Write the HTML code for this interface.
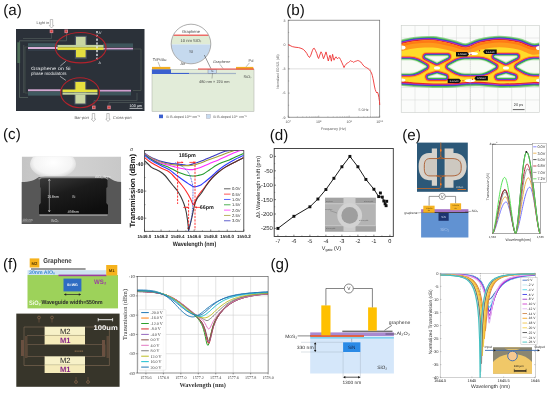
<!DOCTYPE html>
<html><head><meta charset="utf-8"><style>
html,body{margin:0;padding:0;background:#fff;}
svg{display:block;} text{text-rendering:geometricPrecision;}
</style></head><body>
<svg width="550" height="394" viewBox="0 0 550 394">
<rect x="0" y="0" width="550" height="394" fill="#fff"/>
<text x="3.2" y="15.0" font-size="15.2" fill="#111" text-anchor="start" font-weight="normal" font-family="Liberation Sans, sans-serif" >(a)</text>
<rect x="16" y="29" width="128.5" height="82" fill="#2b3139" />
<path d="M66.5,31.5 L66.5,40.8 L19.5,40.8 L19.5,97.5 L28.0,97.5" stroke="#56625e" stroke-width="0.8" fill="none" />
<path d="M51.5,31.5 L51.5,38.5 L23.0,38.5" stroke="#56625e" stroke-width="0.6" fill="none" />
<rect x="17.3" y="42.3" width="2.8" height="20.7" fill="#4f6e58" />
<path d="M23.8,45.0 L23.8,93.0" stroke="#56625e" stroke-width="0.7" fill="none" />
<path d="M28.0,47.0 L25.0,47.0 L25.0,93.0 L28.0,93.0" stroke="#44504c" stroke-width="0.8" fill="none" />
<path d="M133.0,49.0 L141.0,49.0 L141.0,90.5 L133.0,90.5" stroke="#4c5550" stroke-width="0.8" fill="none" />
<path d="M94.0,107.5 L94.0,100.5 L137.0,100.5 L137.0,93.0" stroke="#56625e" stroke-width="0.6" fill="none" />
<path d="M109.0,107.5 L109.0,102.5 L143.0,102.5" stroke="#56625e" stroke-width="0.6" fill="none" />
<rect x="28" y="43.2" width="29" height="3.6" fill="#405a60" />
<rect x="103" y="43.4" width="30" height="3.6" fill="#3e565c" />
<rect x="28" y="47.0" width="30" height="2.0" fill="#d8b0d8" />
<rect x="103" y="47.8" width="30" height="1.9" fill="#cfa2cf" />
<rect x="28" y="49.6" width="105" height="0.9" fill="#3c4a58" />
<rect x="74.8" y="35.8" width="12" height="23" fill="#4a5263" />
<rect x="76" y="36.8" width="9.6" height="8.4" fill="#c9d6a2" />
<rect x="57.5" y="44.9" width="46" height="2.3" fill="#c2d2a0" />
<rect x="57.5" y="47.3" width="46" height="2.6" fill="#e7e23e" />
<rect x="76" y="49.9" width="9.6" height="7.4" fill="#e4df40" />
<rect x="96.3" y="31.0" width="1.4" height="2.2" fill="#e8ecef" />
<rect x="96.3" y="34.8" width="1.4" height="2.2" fill="#e8ecef" />
<rect x="96.3" y="38.6" width="1.4" height="2.2" fill="#e8ecef" />
<rect x="96.3" y="42.4" width="1.4" height="2.2" fill="#e8ecef" />
<rect x="96.3" y="46.2" width="1.4" height="2.2" fill="#e8ecef" />
<rect x="96.3" y="50.0" width="1.4" height="2.2" fill="#e8ecef" />
<rect x="96.3" y="53.8" width="1.4" height="2.2" fill="#e8ecef" />
<rect x="96.3" y="57.599999999999994" width="1.4" height="2.2" fill="#e8ecef" />
<text x="98.5" y="34" font-size="3.6" fill="#dfe3e8" text-anchor="start" font-weight="normal" font-family="Liberation Sans, sans-serif" >A'</text>
<text x="98.5" y="63.5" font-size="3.6" fill="#dfe3e8" text-anchor="start" font-weight="normal" font-family="Liberation Sans, sans-serif" >A</text>
<ellipse cx="80.7" cy="47.7" rx="25.3" ry="15.2" fill="none" stroke="#b2222c" stroke-width="1.1"/>
<rect x="28" y="89.3" width="33" height="2.0" fill="#d4a8d2" />
<rect x="99" y="89.8" width="32" height="1.9" fill="#cf9fcf" />
<rect x="28" y="91.6" width="33" height="4.0" fill="#405a60" />
<rect x="99" y="91.8" width="32" height="3.6" fill="#3e565c" />
<rect x="74.3" y="81" width="12" height="23.5" fill="#4a5263" />
<rect x="75.4" y="82" width="9.9" height="8" fill="#e6e03e" />
<rect x="62.5" y="89.5" width="35" height="2.6" fill="#e7e23e" />
<rect x="62.5" y="92.5" width="35" height="2.2" fill="#c2d2a0" />
<rect x="75.4" y="94.6" width="9.9" height="8.9" fill="#c9d6a2" />
<ellipse cx="80.1" cy="92.7" rx="19.4" ry="15" fill="none" stroke="#b2222c" stroke-width="1.1"/>
<rect x="49.7" y="29.5" width="3.6" height="3.6" fill="#d07a8a" />
<rect x="50.7" y="30.5" width="1.6" height="1.6" fill="#e03a2a" />
<rect x="64.4" y="29.5" width="3.6" height="3.6" fill="#d07a8a" />
<rect x="65.4" y="30.5" width="1.6" height="1.6" fill="#e03a2a" />
<rect x="92.0" y="105.60000000000001" width="3.6" height="3.6" fill="#d07a8a" />
<rect x="93.0" y="106.60000000000001" width="1.6" height="1.6" fill="#e03a2a" />
<rect x="107.2" y="105.60000000000001" width="3.6" height="3.6" fill="#d07a8a" />
<rect x="108.2" y="106.60000000000001" width="1.6" height="1.6" fill="#e03a2a" />
<text x="31" y="69.6" font-size="4.6" fill="#e8eaec" text-anchor="start" font-weight="normal" font-family="Liberation Sans, sans-serif"  textLength="39.5" lengthAdjust="spacingAndGlyphs">Graphene on Si</text>
<text x="31" y="74.9" font-size="4.6" fill="#e8eaec" text-anchor="start" font-weight="normal" font-family="Liberation Sans, sans-serif"  textLength="35.5" lengthAdjust="spacingAndGlyphs">phase modulators</text>
<line x1="60.3" y1="66.0" x2="65.8" y2="61.3" stroke="#e8eaec" stroke-width="0.6" />
<line x1="60.0" y1="76.3" x2="65.8" y2="80.3" stroke="#e8eaec" stroke-width="0.6" />
<text x="129.5" y="106.8" font-size="3.8" fill="#eef0f2" text-anchor="start" font-weight="normal" font-family="Liberation Sans, sans-serif" >100 µm</text>
<line x1="129.5" y1="108.4" x2="142.5" y2="108.4" stroke="#eef0f2" stroke-width="0.7" />
<text x="36.5" y="24.2" font-size="3.9" fill="#555" text-anchor="start" font-weight="normal" font-family="Liberation Sans, sans-serif" >Light in</text>
<path d="M50.3,19.5 L52.7,19.5 L52.7,25.5 L53.7,25.5 L51.5,28 L49.3,25.5 L50.3,25.5 Z" stroke="#777" stroke-width="0.45" fill="#fff" />
<text x="74.4" y="118.6" font-size="4" fill="#555" text-anchor="start" font-weight="normal" font-family="Liberation Sans, sans-serif" >Bar-port</text>
<path d="M92.3,113.5 L94.7,113.5 L94.7,119.0 L95.7,119.0 L93.5,121.5 L91.3,119.0 L92.3,119.0 Z" stroke="#777" stroke-width="0.45" fill="#fff" />
<text x="113" y="118.6" font-size="4" fill="#555" text-anchor="start" font-weight="normal" font-family="Liberation Sans, sans-serif" >Cross-port</text>
<path d="M106.8,113.5 L109.2,113.5 L109.2,119.0 L110.2,119.0 L108,121.5 L105.8,119.0 L106.8,119.0 Z" stroke="#777" stroke-width="0.45" fill="#fff" />
<defs><clipPath id="cc"><circle cx="191" cy="44" r="19.6"/></clipPath></defs>
<g clip-path="url(#cc)">
<rect x="170" y="23" width="42" height="12" fill="#ffffff" />
<rect x="170" y="35.6" width="42" height="8.8" fill="#e0ebd4" />
<rect x="170" y="44.4" width="42" height="22" fill="#c5d9ee" />
<rect x="170" y="34.6" width="42" height="1.2" fill="#ea4a45" />
</g>
<circle cx="191" cy="44" r="19.8" fill="none" stroke="#8a8a8a" stroke-width="0.7"/>
<text x="191" y="32.6" font-size="4.1" fill="#444" text-anchor="middle" font-weight="normal" font-family="Liberation Sans, sans-serif" >Graphene</text>
<text x="191" y="41.6" font-size="4.1" fill="#444" text-anchor="middle" font-weight="normal" font-family="Liberation Sans, sans-serif" >10 nm SiO₂</text>
<text x="191" y="52.6" font-size="4.1" fill="#444" text-anchor="middle" font-weight="normal" font-family="Liberation Sans, sans-serif" >Si</text>
<line x1="204.3" y1="55" x2="211" y2="68.8" stroke="#333" stroke-width="0.5" />
<rect x="152" y="69.4" width="102" height="42" fill="#e2ecd9" stroke="#a8aba4" stroke-width="0.5"/>
<rect x="152" y="66.9" width="18.3" height="2.6" fill="#f2ae22" />
<rect x="236" y="66.9" width="17.3" height="2.6" fill="#f2ae22" />
<rect x="152" y="69.4" width="19" height="4.6" fill="#3b60cf" />
<rect x="171" y="72.9" width="18" height="1.1" fill="#3b60cf" />
<rect x="189" y="72.9" width="47" height="1.2" fill="#a3b3c6" />
<rect x="208" y="69.4" width="8.3" height="3.8" fill="#c6dbf0" stroke="#667" stroke-width="0.35"/>
<text x="212.1" y="72.4" font-size="2.6" fill="#333" text-anchor="middle" font-weight="normal" font-family="Liberation Sans, sans-serif" >Si</text>
<rect x="198" y="68.5" width="56" height="1.1" fill="#ec4b46" />
<text x="152.8" y="60.8" font-size="3.9" fill="#444" text-anchor="start" font-weight="normal" font-family="Liberation Sans, sans-serif" >Ti/Pt/Au</text>
<line x1="158" y1="61.8" x2="160" y2="66.9" stroke="#555" stroke-width="0.4" />
<text x="180.6" y="65.2" font-size="3.9" fill="#444" text-anchor="start" font-weight="normal" font-family="Liberation Sans, sans-serif" >Air</text>
<text x="213" y="63.4" font-size="3.9" fill="#444" text-anchor="start" font-weight="normal" font-family="Liberation Sans, sans-serif" >Graphene</text>
<line x1="220" y1="64.4" x2="223" y2="68.5" stroke="#555" stroke-width="0.4" />
<text x="248.6" y="61.8" font-size="3.9" fill="#444" text-anchor="start" font-weight="normal" font-family="Liberation Sans, sans-serif" >Pd</text>
<line x1="249.5" y1="62.8" x2="246" y2="66.9" stroke="#555" stroke-width="0.4" />
<text x="243.5" y="78.2" font-size="3.9" fill="#444" text-anchor="start" font-weight="normal" font-family="Liberation Sans, sans-serif" >SiO₂</text>
<line x1="212.5" y1="73.2" x2="212" y2="78.5" stroke="#555" stroke-width="0.4" />
<text x="199" y="83.2" font-size="3.9" fill="#444" text-anchor="start" font-weight="normal" font-family="Liberation Sans, sans-serif" >480 nm × 220 nm</text>
<rect x="159" y="114.6" width="4" height="3.6" fill="#3b60cf" />
<text x="166" y="117.9" font-size="3.6" fill="#555" text-anchor="start" font-weight="normal" font-family="Liberation Sans, sans-serif" >Si B-doped 10¹⁸ cm⁻³</text>
<rect x="206.6" y="114.6" width="3.6" height="3.6" fill="#c6dbf0" stroke="#889" stroke-width="0.35"/>
<text x="213" y="117.9" font-size="3.6" fill="#555" text-anchor="start" font-weight="normal" font-family="Liberation Sans, sans-serif" >Si B-doped 10¹⁷ cm⁻³</text>
<text x="286.2" y="15.0" font-size="15.2" fill="#111" text-anchor="start" font-weight="normal" font-family="Liberation Sans, sans-serif" >(b)</text>
<line x1="288.2" y1="68.85" x2="370.5" y2="68.85" stroke="#d0d0d0" stroke-width="0.7" />
<line x1="370.5" y1="68.85" x2="370.5" y2="117.2" stroke="#bbbbbb" stroke-width="0.5" />
<rect x="288.2" y="20.2" width="91.5" height="97.0" fill="none" stroke="#6a6a6a" stroke-width="0.7"/>
<line x1="288.2" y1="20.35" x2="289.7" y2="20.35" stroke="#666" stroke-width="0.5" />
<text x="285.5" y="21.650000000000002" font-size="3.6" fill="#555" text-anchor="end" font-weight="normal" font-family="Liberation Sans, sans-serif" >3</text>
<line x1="288.2" y1="44.6" x2="289.7" y2="44.6" stroke="#666" stroke-width="0.5" />
<text x="285.5" y="45.9" font-size="3.6" fill="#555" text-anchor="end" font-weight="normal" font-family="Liberation Sans, sans-serif" >0</text>
<line x1="288.2" y1="68.85" x2="289.7" y2="68.85" stroke="#666" stroke-width="0.5" />
<text x="285.5" y="70.14999999999999" font-size="3.6" fill="#555" text-anchor="end" font-weight="normal" font-family="Liberation Sans, sans-serif" >-3</text>
<line x1="288.2" y1="93.1" x2="289.7" y2="93.1" stroke="#666" stroke-width="0.5" />
<text x="285.5" y="94.39999999999999" font-size="3.6" fill="#555" text-anchor="end" font-weight="normal" font-family="Liberation Sans, sans-serif" >-6</text>
<line x1="288.2" y1="117.35" x2="289.7" y2="117.35" stroke="#666" stroke-width="0.5" />
<text x="285.5" y="118.64999999999999" font-size="3.6" fill="#555" text-anchor="end" font-weight="normal" font-family="Liberation Sans, sans-serif" >-9</text>
<line x1="288.2" y1="32.475" x2="289.2" y2="32.475" stroke="#666" stroke-width="0.4" />
<line x1="288.2" y1="56.725" x2="289.2" y2="56.725" stroke="#666" stroke-width="0.4" />
<line x1="288.2" y1="80.975" x2="289.2" y2="80.975" stroke="#666" stroke-width="0.4" />
<line x1="288.2" y1="105.22500000000001" x2="289.2" y2="105.22500000000001" stroke="#666" stroke-width="0.4" />
<line x1="297.3814148677514" y1="117.2" x2="297.3814148677514" y2="116.3" stroke="#666" stroke-width="0.35" />
<line x1="302.7521982689497" y1="117.2" x2="302.7521982689497" y2="116.3" stroke="#666" stroke-width="0.35" />
<line x1="306.5628297355029" y1="117.2" x2="306.5628297355029" y2="116.3" stroke="#666" stroke-width="0.35" />
<line x1="309.5185851322486" y1="117.2" x2="309.5185851322486" y2="116.3" stroke="#666" stroke-width="0.35" />
<line x1="311.9336131367011" y1="117.2" x2="311.9336131367011" y2="116.3" stroke="#666" stroke-width="0.35" />
<line x1="313.97549022043484" y1="117.2" x2="313.97549022043484" y2="116.3" stroke="#666" stroke-width="0.35" />
<line x1="315.7442446032543" y1="117.2" x2="315.7442446032543" y2="116.3" stroke="#666" stroke-width="0.35" />
<line x1="317.3043965378994" y1="117.2" x2="317.3043965378994" y2="116.3" stroke="#666" stroke-width="0.35" />
<line x1="327.8814148677514" y1="117.2" x2="327.8814148677514" y2="116.3" stroke="#666" stroke-width="0.35" />
<line x1="333.2521982689497" y1="117.2" x2="333.2521982689497" y2="116.3" stroke="#666" stroke-width="0.35" />
<line x1="337.0628297355029" y1="117.2" x2="337.0628297355029" y2="116.3" stroke="#666" stroke-width="0.35" />
<line x1="340.0185851322486" y1="117.2" x2="340.0185851322486" y2="116.3" stroke="#666" stroke-width="0.35" />
<line x1="342.4336131367011" y1="117.2" x2="342.4336131367011" y2="116.3" stroke="#666" stroke-width="0.35" />
<line x1="344.47549022043484" y1="117.2" x2="344.47549022043484" y2="116.3" stroke="#666" stroke-width="0.35" />
<line x1="346.2442446032543" y1="117.2" x2="346.2442446032543" y2="116.3" stroke="#666" stroke-width="0.35" />
<line x1="347.8043965378994" y1="117.2" x2="347.8043965378994" y2="116.3" stroke="#666" stroke-width="0.35" />
<line x1="358.3814148677514" y1="117.2" x2="358.3814148677514" y2="116.3" stroke="#666" stroke-width="0.35" />
<line x1="363.7521982689497" y1="117.2" x2="363.7521982689497" y2="116.3" stroke="#666" stroke-width="0.35" />
<line x1="367.5628297355029" y1="117.2" x2="367.5628297355029" y2="116.3" stroke="#666" stroke-width="0.35" />
<line x1="370.5185851322486" y1="117.2" x2="370.5185851322486" y2="116.3" stroke="#666" stroke-width="0.35" />
<line x1="372.9336131367011" y1="117.2" x2="372.9336131367011" y2="116.3" stroke="#666" stroke-width="0.35" />
<line x1="374.97549022043484" y1="117.2" x2="374.97549022043484" y2="116.3" stroke="#666" stroke-width="0.35" />
<line x1="376.7442446032543" y1="117.2" x2="376.7442446032543" y2="116.3" stroke="#666" stroke-width="0.35" />
<line x1="378.3043965378994" y1="117.2" x2="378.3043965378994" y2="116.3" stroke="#666" stroke-width="0.35" />
<line x1="288.2" y1="117.2" x2="288.2" y2="115.60000000000001" stroke="#666" stroke-width="0.45" />
<text x="288.2" y="123.2" font-size="3.6" fill="#555" text-anchor="middle" font-family="Liberation Sans, sans-serif">10<tspan font-size="2.5" dy="-1.4">7</tspan></text>
<line x1="318.7" y1="117.2" x2="318.7" y2="115.60000000000001" stroke="#666" stroke-width="0.45" />
<text x="318.7" y="123.2" font-size="3.6" fill="#555" text-anchor="middle" font-family="Liberation Sans, sans-serif">10<tspan font-size="2.5" dy="-1.4">8</tspan></text>
<line x1="349.2" y1="117.2" x2="349.2" y2="115.60000000000001" stroke="#666" stroke-width="0.45" />
<text x="349.2" y="123.2" font-size="3.6" fill="#555" text-anchor="middle" font-family="Liberation Sans, sans-serif">10<tspan font-size="2.5" dy="-1.4">9</tspan></text>
<line x1="379.7" y1="117.2" x2="379.7" y2="115.60000000000001" stroke="#666" stroke-width="0.45" />
<text x="379.7" y="123.2" font-size="3.6" fill="#555" text-anchor="middle" font-family="Liberation Sans, sans-serif">10<tspan font-size="2.5" dy="-1.4">10</tspan></text>
<text x="333.5" y="130.2" font-size="3.6" fill="#555" text-anchor="middle" font-weight="normal" font-family="Liberation Sans, sans-serif" >Frequency (Hz)</text>
<text x="0" y="0" font-size="3.6" fill="#555" text-anchor="middle" font-family="Liberation Sans, sans-serif" textLength="34.5" lengthAdjust="spacingAndGlyphs" transform="translate(278.8,71.6) rotate(-90)">Normalized EO S21 (dB)</text>
<text x="358.4" y="111.3" font-size="3.6" fill="#555" text-anchor="start" font-weight="normal" font-family="Liberation Sans, sans-serif" >5 GHz</text>
<path d="M288.2,44.8 L290.0,45.5 L292.3,46.6 L295.0,47.2 L298.6,47.6 L301.0,48.3 L303.2,49.3 L305.0,51.0 L306.8,53.4 L308.0,55.8 L309.5,57.5 L310.8,55.2 L312.3,50.8 L313.3,48.6 L314.2,48.2 L315.4,50.3 L316.8,53.6 L317.8,57.0 L318.6,58.5 L319.8,55.0 L321.0,51.8 L322.0,53.5 L323.5,58.8 L324.6,56.0 L326.0,51.9 L327.0,55.5 L328.3,61.0 L329.2,57.5 L330.0,55.2 L330.8,58.5 L331.4,61.2 L332.1,57.0 L332.6,54.3 L333.3,57.5 L334.0,60.2 L335.0,58.0 L336.0,56.8 L336.8,58.2 L337.7,58.6 L338.6,57.6 L339.5,57.8 L340.5,59.5 L342.0,62.8 L343.2,65.5 L344.0,67.6 L345.0,65.5 L346.0,64.2 L347.2,63.2 L348.5,62.5 L349.5,61.6 L350.5,60.7 L351.5,61.3 L352.5,61.5 L353.4,62.3 L354.3,61.8 L355.2,61.4 L356.5,61.0 L357.7,60.5 L358.8,60.8 L359.8,61.4 L360.8,62.0 L361.8,63.4 L363.0,65.0 L364.2,66.3 L365.5,67.2 L366.8,67.8 L368.0,68.6 L369.5,69.8 L370.6,71.4 L371.5,73.0 L372.3,75.4 L373.0,78.5 L373.7,82.0 L374.4,86.0 L375.2,89.5 L376.0,91.6 L376.8,93.0 L377.5,92.2 L378.2,94.0 L378.9,97.5 L379.5,101.5 L379.7,105.0" stroke="#ee3333" stroke-width="0.9" fill="none" stroke-linejoin="round" fill="none"/>
<rect x="401.2" y="25.6" width="138.09999999999997" height="86.69999999999999" fill="#fbfcfb" />
<line x1="415.01" y1="25.6" x2="415.01" y2="112.3" stroke="#d6d9d6" stroke-width="0.5" />
<line x1="428.82" y1="25.6" x2="428.82" y2="112.3" stroke="#d6d9d6" stroke-width="0.5" />
<line x1="442.63" y1="25.6" x2="442.63" y2="112.3" stroke="#d6d9d6" stroke-width="0.5" />
<line x1="456.44" y1="25.6" x2="456.44" y2="112.3" stroke="#d6d9d6" stroke-width="0.5" />
<line x1="470.25" y1="25.6" x2="470.25" y2="112.3" stroke="#d6d9d6" stroke-width="0.5" />
<line x1="484.05999999999995" y1="25.6" x2="484.05999999999995" y2="112.3" stroke="#d6d9d6" stroke-width="0.5" />
<line x1="497.87" y1="25.6" x2="497.87" y2="112.3" stroke="#d6d9d6" stroke-width="0.5" />
<line x1="511.67999999999995" y1="25.6" x2="511.67999999999995" y2="112.3" stroke="#d6d9d6" stroke-width="0.5" />
<line x1="525.49" y1="25.6" x2="525.49" y2="112.3" stroke="#d6d9d6" stroke-width="0.5" />
<line x1="401.2" y1="37.98571428571429" x2="539.3" y2="37.98571428571429" stroke="#d6d9d6" stroke-width="0.5" />
<line x1="401.2" y1="50.37142857142857" x2="539.3" y2="50.37142857142857" stroke="#d6d9d6" stroke-width="0.5" />
<line x1="401.2" y1="62.75714285714285" x2="539.3" y2="62.75714285714285" stroke="#d6d9d6" stroke-width="0.5" />
<line x1="401.2" y1="75.14285714285714" x2="539.3" y2="75.14285714285714" stroke="#d6d9d6" stroke-width="0.5" />
<line x1="401.2" y1="87.52857142857142" x2="539.3" y2="87.52857142857142" stroke="#d6d9d6" stroke-width="0.5" />
<line x1="401.2" y1="99.91428571428571" x2="539.3" y2="99.91428571428571" stroke="#d6d9d6" stroke-width="0.5" />
<defs><clipPath id="eyec"><rect x="401.2" y="25.6" width="138.09999999999997" height="86.69999999999999"/></clipPath></defs>
<g clip-path="url(#eyec)">
<path d="M380.00,44.00 C381.67,44.33 386.50,45.97 390.00,46.00 C393.50,46.03 397.00,44.97 401.00,44.20 C405.00,43.43 408.67,42.00 414.00,41.40 C419.33,40.80 426.67,40.13 433.00,40.60 C439.33,41.07 446.50,43.00 452.00,44.20 C457.50,45.40 461.33,48.03 466.00,47.80 C470.67,47.57 474.50,44.07 480.00,42.80 C485.50,41.53 492.67,40.27 499.00,40.20 C505.33,40.13 512.17,41.13 518.00,42.40 C523.83,43.67 529.00,47.50 534.00,47.80 C539.00,48.10 545.67,44.80 548.00,44.20 L548.00,82.80 C545.67,82.67 538.67,81.97 534.00,82.00 C529.33,82.03 525.67,82.77 520.00,83.00 C514.33,83.23 506.67,83.60 500.00,83.40 C493.33,83.20 485.67,82.03 480.00,81.80 C474.33,81.57 470.67,81.77 466.00,82.00 C461.33,82.23 457.50,82.97 452.00,83.20 C446.50,83.43 439.33,83.50 433.00,83.40 C426.67,83.30 419.33,82.90 414.00,82.60 C408.67,82.30 406.67,81.57 401.00,81.60 C395.33,81.63 383.50,82.60 380.00,82.80 Z" fill="none" stroke="#8fd090" stroke-width="9.0" stroke-linejoin="round"/>
<path d="M380.00,44.00 C381.67,44.33 386.50,45.97 390.00,46.00 C393.50,46.03 397.00,44.97 401.00,44.20 C405.00,43.43 408.67,42.00 414.00,41.40 C419.33,40.80 426.67,40.13 433.00,40.60 C439.33,41.07 446.50,43.00 452.00,44.20 C457.50,45.40 461.33,48.03 466.00,47.80 C470.67,47.57 474.50,44.07 480.00,42.80 C485.50,41.53 492.67,40.27 499.00,40.20 C505.33,40.13 512.17,41.13 518.00,42.40 C523.83,43.67 529.00,47.50 534.00,47.80 C539.00,48.10 545.67,44.80 548.00,44.20 L548.00,82.80 C545.67,82.67 538.67,81.97 534.00,82.00 C529.33,82.03 525.67,82.77 520.00,83.00 C514.33,83.23 506.67,83.60 500.00,83.40 C493.33,83.20 485.67,82.03 480.00,81.80 C474.33,81.57 470.67,81.77 466.00,82.00 C461.33,82.23 457.50,82.97 452.00,83.20 C446.50,83.43 439.33,83.50 433.00,83.40 C426.67,83.30 419.33,82.90 414.00,82.60 C408.67,82.30 406.67,81.57 401.00,81.60 C395.33,81.63 383.50,82.60 380.00,82.80 Z" fill="none" stroke="#4cb850" stroke-width="7.0" stroke-linejoin="round"/>
<path d="M380.00,44.00 C381.67,44.33 386.50,45.97 390.00,46.00 C393.50,46.03 397.00,44.97 401.00,44.20 C405.00,43.43 408.67,42.00 414.00,41.40 C419.33,40.80 426.67,40.13 433.00,40.60 C439.33,41.07 446.50,43.00 452.00,44.20 C457.50,45.40 461.33,48.03 466.00,47.80 C470.67,47.57 474.50,44.07 480.00,42.80 C485.50,41.53 492.67,40.27 499.00,40.20 C505.33,40.13 512.17,41.13 518.00,42.40 C523.83,43.67 529.00,47.50 534.00,47.80 C539.00,48.10 545.67,44.80 548.00,44.20 L548.00,82.80 C545.67,82.67 538.67,81.97 534.00,82.00 C529.33,82.03 525.67,82.77 520.00,83.00 C514.33,83.23 506.67,83.60 500.00,83.40 C493.33,83.20 485.67,82.03 480.00,81.80 C474.33,81.57 470.67,81.77 466.00,82.00 C461.33,82.23 457.50,82.97 452.00,83.20 C446.50,83.43 439.33,83.50 433.00,83.40 C426.67,83.30 419.33,82.90 414.00,82.60 C408.67,82.30 406.67,81.57 401.00,81.60 C395.33,81.63 383.50,82.60 380.00,82.80 Z" fill="none" stroke="#3636d8" stroke-width="5.2" stroke-linejoin="round"/>
<path d="M380.00,44.00 C381.67,44.33 386.50,45.97 390.00,46.00 C393.50,46.03 397.00,44.97 401.00,44.20 C405.00,43.43 408.67,42.00 414.00,41.40 C419.33,40.80 426.67,40.13 433.00,40.60 C439.33,41.07 446.50,43.00 452.00,44.20 C457.50,45.40 461.33,48.03 466.00,47.80 C470.67,47.57 474.50,44.07 480.00,42.80 C485.50,41.53 492.67,40.27 499.00,40.20 C505.33,40.13 512.17,41.13 518.00,42.40 C523.83,43.67 529.00,47.50 534.00,47.80 C539.00,48.10 545.67,44.80 548.00,44.20 L548.00,82.80 C545.67,82.67 538.67,81.97 534.00,82.00 C529.33,82.03 525.67,82.77 520.00,83.00 C514.33,83.23 506.67,83.60 500.00,83.40 C493.33,83.20 485.67,82.03 480.00,81.80 C474.33,81.57 470.67,81.77 466.00,82.00 C461.33,82.23 457.50,82.97 452.00,83.20 C446.50,83.43 439.33,83.50 433.00,83.40 C426.67,83.30 419.33,82.90 414.00,82.60 C408.67,82.30 406.67,81.57 401.00,81.60 C395.33,81.63 383.50,82.60 380.00,82.80 Z" fill="none" stroke="#a83ad0" stroke-width="3.8" stroke-linejoin="round"/>
<path d="M380.00,44.00 C381.67,44.33 386.50,45.97 390.00,46.00 C393.50,46.03 397.00,44.97 401.00,44.20 C405.00,43.43 408.67,42.00 414.00,41.40 C419.33,40.80 426.67,40.13 433.00,40.60 C439.33,41.07 446.50,43.00 452.00,44.20 C457.50,45.40 461.33,48.03 466.00,47.80 C470.67,47.57 474.50,44.07 480.00,42.80 C485.50,41.53 492.67,40.27 499.00,40.20 C505.33,40.13 512.17,41.13 518.00,42.40 C523.83,43.67 529.00,47.50 534.00,47.80 C539.00,48.10 545.67,44.80 548.00,44.20 L548.00,82.80 C545.67,82.67 538.67,81.97 534.00,82.00 C529.33,82.03 525.67,82.77 520.00,83.00 C514.33,83.23 506.67,83.60 500.00,83.40 C493.33,83.20 485.67,82.03 480.00,81.80 C474.33,81.57 470.67,81.77 466.00,82.00 C461.33,82.23 457.50,82.97 452.00,83.20 C446.50,83.43 439.33,83.50 433.00,83.40 C426.67,83.30 419.33,82.90 414.00,82.60 C408.67,82.30 406.67,81.57 401.00,81.60 C395.33,81.63 383.50,82.60 380.00,82.80 Z" fill="none" stroke="#e4262a" stroke-width="2.2" stroke-linejoin="round"/>
<path d="M380.00,44.00 C381.67,44.33 386.50,45.97 390.00,46.00 C393.50,46.03 397.00,44.97 401.00,44.20 C405.00,43.43 408.67,42.00 414.00,41.40 C419.33,40.80 426.67,40.13 433.00,40.60 C439.33,41.07 446.50,43.00 452.00,44.20 C457.50,45.40 461.33,48.03 466.00,47.80 C470.67,47.57 474.50,44.07 480.00,42.80 C485.50,41.53 492.67,40.27 499.00,40.20 C505.33,40.13 512.17,41.13 518.00,42.40 C523.83,43.67 529.00,47.50 534.00,47.80 C539.00,48.10 545.67,44.80 548.00,44.20 L548.00,82.80 C545.67,82.67 538.67,81.97 534.00,82.00 C529.33,82.03 525.67,82.77 520.00,83.00 C514.33,83.23 506.67,83.60 500.00,83.40 C493.33,83.20 485.67,82.03 480.00,81.80 C474.33,81.57 470.67,81.77 466.00,82.00 C461.33,82.23 457.50,82.97 452.00,83.20 C446.50,83.43 439.33,83.50 433.00,83.40 C426.67,83.30 419.33,82.90 414.00,82.60 C408.67,82.30 406.67,81.57 401.00,81.60 C395.33,81.63 383.50,82.60 380.00,82.80 Z" fill="#ffdc2a"/>
<path d="M380.00,44.00 C381.67,44.33 386.50,45.97 390.00,46.00 C393.50,46.03 397.00,44.97 401.00,44.20 C405.00,43.43 408.67,42.00 414.00,41.40 C419.33,40.80 426.67,40.13 433.00,40.60 C439.33,41.07 446.50,43.00 452.00,44.20 C457.50,45.40 461.33,48.03 466.00,47.80 C470.67,47.57 474.50,44.07 480.00,42.80 C485.50,41.53 492.67,40.27 499.00,40.20 C505.33,40.13 512.17,41.13 518.00,42.40 C523.83,43.67 529.00,47.50 534.00,47.80 C539.00,48.10 545.67,44.80 548.00,44.20 L548.00,51.20 C545.67,51.80 539.00,55.10 534.00,54.80 C529.00,54.50 523.83,50.67 518.00,49.40 C512.17,48.13 505.33,47.13 499.00,47.20 C492.67,47.27 485.50,48.53 480.00,49.80 C474.50,51.07 470.67,54.57 466.00,54.80 C461.33,55.03 457.50,52.40 452.00,51.20 C446.50,50.00 439.33,48.07 433.00,47.60 C426.67,47.13 419.33,47.80 414.00,48.40 C408.67,49.00 405.00,50.43 401.00,51.20 C397.00,51.97 393.50,53.03 390.00,53.00 C386.50,52.97 381.67,51.33 380.00,51.00 Z" fill="#ff9a1c"/>
<path d="M380.00,45.20 C381.67,45.53 386.50,47.17 390.00,47.20 C393.50,47.23 397.00,46.17 401.00,45.40 C405.00,44.63 408.67,43.20 414.00,42.60 C419.33,42.00 426.67,41.33 433.00,41.80 C439.33,42.27 446.50,44.20 452.00,45.40 C457.50,46.60 461.33,49.23 466.00,49.00 C470.67,48.77 474.50,45.27 480.00,44.00 C485.50,42.73 492.67,41.47 499.00,41.40 C505.33,41.33 512.17,42.33 518.00,43.60 C523.83,44.87 529.00,48.70 534.00,49.00 C539.00,49.30 545.67,46.00 548.00,45.40" fill="none" stroke="#ff7a14" stroke-width="2.4"/>
<path d="M357.5,56.6 L378.7,56.6 L368.3,61.8 Z" fill="#ffa820" stroke="#ffa820" stroke-width="9.4" stroke-linejoin="round"/>
<path d="M360.3,77.0 L376.5,77.0 L368.3,74.6 Z" fill="#ffa820" stroke="#ffa820" stroke-width="9.4" stroke-linejoin="round"/>
<path d="M426.2,56.6 L447.4,56.6 L437.0,61.8 Z" fill="#ffa820" stroke="#ffa820" stroke-width="9.4" stroke-linejoin="round"/>
<path d="M429.0,77.0 L445.2,77.0 L437.0,74.6 Z" fill="#ffa820" stroke="#ffa820" stroke-width="9.4" stroke-linejoin="round"/>
<path d="M495.2,56.6 L516.4,56.6 L506.0,61.8 Z" fill="#ffa820" stroke="#ffa820" stroke-width="9.4" stroke-linejoin="round"/>
<path d="M498.0,77.0 L514.2,77.0 L506.0,74.6 Z" fill="#ffa820" stroke="#ffa820" stroke-width="9.4" stroke-linejoin="round"/>
<path d="M564.2,56.6 L585.4,56.6 L575.0,61.8 Z" fill="#ffa820" stroke="#ffa820" stroke-width="9.4" stroke-linejoin="round"/>
<path d="M567.0,77.0 L583.2,77.0 L575.0,74.6 Z" fill="#ffa820" stroke="#ffa820" stroke-width="9.4" stroke-linejoin="round"/>
<path d="M379.9,66.6 C385.7,63 389.7,60.4 395.7,60.4 L409.7,60.4 C415.7,60.4 419.7,63 425.5,66.6 C419.7,70.2 415.7,72.8 409.7,72.8 L395.7,72.8 C389.7,72.8 385.7,70.2 379.9,66.6 Z" fill="#ffa820" stroke="#ffa820" stroke-width="9.4" stroke-linejoin="round"/>
<path d="M449.0,66.6 C454.8,63 458.8,60.4 464.8,60.4 L478.8,60.4 C484.8,60.4 488.8,63 494.6,66.6 C488.8,70.2 484.8,72.8 478.8,72.8 L464.8,72.8 C458.8,72.8 454.8,70.2 449.0,66.6 Z" fill="#ffa820" stroke="#ffa820" stroke-width="9.4" stroke-linejoin="round"/>
<path d="M518.0,66.6 C523.8,63 527.8,60.4 533.8,60.4 L547.8,60.4 C553.8,60.4 557.8,63 563.5999999999999,66.6 C557.8,70.2 553.8,72.8 547.8,72.8 L533.8,72.8 C527.8,72.8 523.8,70.2 518.0,66.6 Z" fill="#ffa820" stroke="#ffa820" stroke-width="9.4" stroke-linejoin="round"/>
<path d="M357.5,56.6 L378.7,56.6 L368.3,61.8 Z" fill="#ee2a22" stroke="#ee2a22" stroke-width="7.4" stroke-linejoin="round"/>
<path d="M360.3,77.0 L376.5,77.0 L368.3,74.6 Z" fill="#ee2a22" stroke="#ee2a22" stroke-width="7.4" stroke-linejoin="round"/>
<path d="M426.2,56.6 L447.4,56.6 L437.0,61.8 Z" fill="#ee2a22" stroke="#ee2a22" stroke-width="7.4" stroke-linejoin="round"/>
<path d="M429.0,77.0 L445.2,77.0 L437.0,74.6 Z" fill="#ee2a22" stroke="#ee2a22" stroke-width="7.4" stroke-linejoin="round"/>
<path d="M495.2,56.6 L516.4,56.6 L506.0,61.8 Z" fill="#ee2a22" stroke="#ee2a22" stroke-width="7.4" stroke-linejoin="round"/>
<path d="M498.0,77.0 L514.2,77.0 L506.0,74.6 Z" fill="#ee2a22" stroke="#ee2a22" stroke-width="7.4" stroke-linejoin="round"/>
<path d="M564.2,56.6 L585.4,56.6 L575.0,61.8 Z" fill="#ee2a22" stroke="#ee2a22" stroke-width="7.4" stroke-linejoin="round"/>
<path d="M567.0,77.0 L583.2,77.0 L575.0,74.6 Z" fill="#ee2a22" stroke="#ee2a22" stroke-width="7.4" stroke-linejoin="round"/>
<path d="M379.9,66.6 C385.7,63 389.7,60.4 395.7,60.4 L409.7,60.4 C415.7,60.4 419.7,63 425.5,66.6 C419.7,70.2 415.7,72.8 409.7,72.8 L395.7,72.8 C389.7,72.8 385.7,70.2 379.9,66.6 Z" fill="#ee2a22" stroke="#ee2a22" stroke-width="7.4" stroke-linejoin="round"/>
<path d="M449.0,66.6 C454.8,63 458.8,60.4 464.8,60.4 L478.8,60.4 C484.8,60.4 488.8,63 494.6,66.6 C488.8,70.2 484.8,72.8 478.8,72.8 L464.8,72.8 C458.8,72.8 454.8,70.2 449.0,66.6 Z" fill="#ee2a22" stroke="#ee2a22" stroke-width="7.4" stroke-linejoin="round"/>
<path d="M518.0,66.6 C523.8,63 527.8,60.4 533.8,60.4 L547.8,60.4 C553.8,60.4 557.8,63 563.5999999999999,66.6 C557.8,70.2 553.8,72.8 547.8,72.8 L533.8,72.8 C527.8,72.8 523.8,70.2 518.0,66.6 Z" fill="#ee2a22" stroke="#ee2a22" stroke-width="7.4" stroke-linejoin="round"/>
<path d="M357.5,56.6 L378.7,56.6 L368.3,61.8 Z" fill="#a83ad0" stroke="#a83ad0" stroke-width="6.2" stroke-linejoin="round"/>
<path d="M360.3,77.0 L376.5,77.0 L368.3,74.6 Z" fill="#a83ad0" stroke="#a83ad0" stroke-width="6.2" stroke-linejoin="round"/>
<path d="M426.2,56.6 L447.4,56.6 L437.0,61.8 Z" fill="#a83ad0" stroke="#a83ad0" stroke-width="6.2" stroke-linejoin="round"/>
<path d="M429.0,77.0 L445.2,77.0 L437.0,74.6 Z" fill="#a83ad0" stroke="#a83ad0" stroke-width="6.2" stroke-linejoin="round"/>
<path d="M495.2,56.6 L516.4,56.6 L506.0,61.8 Z" fill="#a83ad0" stroke="#a83ad0" stroke-width="6.2" stroke-linejoin="round"/>
<path d="M498.0,77.0 L514.2,77.0 L506.0,74.6 Z" fill="#a83ad0" stroke="#a83ad0" stroke-width="6.2" stroke-linejoin="round"/>
<path d="M564.2,56.6 L585.4,56.6 L575.0,61.8 Z" fill="#a83ad0" stroke="#a83ad0" stroke-width="6.2" stroke-linejoin="round"/>
<path d="M567.0,77.0 L583.2,77.0 L575.0,74.6 Z" fill="#a83ad0" stroke="#a83ad0" stroke-width="6.2" stroke-linejoin="round"/>
<path d="M379.9,66.6 C385.7,63 389.7,60.4 395.7,60.4 L409.7,60.4 C415.7,60.4 419.7,63 425.5,66.6 C419.7,70.2 415.7,72.8 409.7,72.8 L395.7,72.8 C389.7,72.8 385.7,70.2 379.9,66.6 Z" fill="#a83ad0" stroke="#a83ad0" stroke-width="6.2" stroke-linejoin="round"/>
<path d="M449.0,66.6 C454.8,63 458.8,60.4 464.8,60.4 L478.8,60.4 C484.8,60.4 488.8,63 494.6,66.6 C488.8,70.2 484.8,72.8 478.8,72.8 L464.8,72.8 C458.8,72.8 454.8,70.2 449.0,66.6 Z" fill="#a83ad0" stroke="#a83ad0" stroke-width="6.2" stroke-linejoin="round"/>
<path d="M518.0,66.6 C523.8,63 527.8,60.4 533.8,60.4 L547.8,60.4 C553.8,60.4 557.8,63 563.5999999999999,66.6 C557.8,70.2 553.8,72.8 547.8,72.8 L533.8,72.8 C527.8,72.8 523.8,70.2 518.0,66.6 Z" fill="#a83ad0" stroke="#a83ad0" stroke-width="6.2" stroke-linejoin="round"/>
<path d="M357.5,56.6 L378.7,56.6 L368.3,61.8 Z" fill="#3a3ae0" stroke="#3a3ae0" stroke-width="5.0" stroke-linejoin="round"/>
<path d="M360.3,77.0 L376.5,77.0 L368.3,74.6 Z" fill="#3a3ae0" stroke="#3a3ae0" stroke-width="5.0" stroke-linejoin="round"/>
<path d="M426.2,56.6 L447.4,56.6 L437.0,61.8 Z" fill="#3a3ae0" stroke="#3a3ae0" stroke-width="5.0" stroke-linejoin="round"/>
<path d="M429.0,77.0 L445.2,77.0 L437.0,74.6 Z" fill="#3a3ae0" stroke="#3a3ae0" stroke-width="5.0" stroke-linejoin="round"/>
<path d="M495.2,56.6 L516.4,56.6 L506.0,61.8 Z" fill="#3a3ae0" stroke="#3a3ae0" stroke-width="5.0" stroke-linejoin="round"/>
<path d="M498.0,77.0 L514.2,77.0 L506.0,74.6 Z" fill="#3a3ae0" stroke="#3a3ae0" stroke-width="5.0" stroke-linejoin="round"/>
<path d="M564.2,56.6 L585.4,56.6 L575.0,61.8 Z" fill="#3a3ae0" stroke="#3a3ae0" stroke-width="5.0" stroke-linejoin="round"/>
<path d="M567.0,77.0 L583.2,77.0 L575.0,74.6 Z" fill="#3a3ae0" stroke="#3a3ae0" stroke-width="5.0" stroke-linejoin="round"/>
<path d="M379.9,66.6 C385.7,63 389.7,60.4 395.7,60.4 L409.7,60.4 C415.7,60.4 419.7,63 425.5,66.6 C419.7,70.2 415.7,72.8 409.7,72.8 L395.7,72.8 C389.7,72.8 385.7,70.2 379.9,66.6 Z" fill="#3a3ae0" stroke="#3a3ae0" stroke-width="5.0" stroke-linejoin="round"/>
<path d="M449.0,66.6 C454.8,63 458.8,60.4 464.8,60.4 L478.8,60.4 C484.8,60.4 488.8,63 494.6,66.6 C488.8,70.2 484.8,72.8 478.8,72.8 L464.8,72.8 C458.8,72.8 454.8,70.2 449.0,66.6 Z" fill="#3a3ae0" stroke="#3a3ae0" stroke-width="5.0" stroke-linejoin="round"/>
<path d="M518.0,66.6 C523.8,63 527.8,60.4 533.8,60.4 L547.8,60.4 C553.8,60.4 557.8,63 563.5999999999999,66.6 C557.8,70.2 553.8,72.8 547.8,72.8 L533.8,72.8 C527.8,72.8 523.8,70.2 518.0,66.6 Z" fill="#3a3ae0" stroke="#3a3ae0" stroke-width="5.0" stroke-linejoin="round"/>
<path d="M357.5,56.6 L378.7,56.6 L368.3,61.8 Z" fill="#3cb848" stroke="#3cb848" stroke-width="3.8" stroke-linejoin="round"/>
<path d="M360.3,77.0 L376.5,77.0 L368.3,74.6 Z" fill="#3cb848" stroke="#3cb848" stroke-width="3.8" stroke-linejoin="round"/>
<path d="M426.2,56.6 L447.4,56.6 L437.0,61.8 Z" fill="#3cb848" stroke="#3cb848" stroke-width="3.8" stroke-linejoin="round"/>
<path d="M429.0,77.0 L445.2,77.0 L437.0,74.6 Z" fill="#3cb848" stroke="#3cb848" stroke-width="3.8" stroke-linejoin="round"/>
<path d="M495.2,56.6 L516.4,56.6 L506.0,61.8 Z" fill="#3cb848" stroke="#3cb848" stroke-width="3.8" stroke-linejoin="round"/>
<path d="M498.0,77.0 L514.2,77.0 L506.0,74.6 Z" fill="#3cb848" stroke="#3cb848" stroke-width="3.8" stroke-linejoin="round"/>
<path d="M564.2,56.6 L585.4,56.6 L575.0,61.8 Z" fill="#3cb848" stroke="#3cb848" stroke-width="3.8" stroke-linejoin="round"/>
<path d="M567.0,77.0 L583.2,77.0 L575.0,74.6 Z" fill="#3cb848" stroke="#3cb848" stroke-width="3.8" stroke-linejoin="round"/>
<path d="M379.9,66.6 C385.7,63 389.7,60.4 395.7,60.4 L409.7,60.4 C415.7,60.4 419.7,63 425.5,66.6 C419.7,70.2 415.7,72.8 409.7,72.8 L395.7,72.8 C389.7,72.8 385.7,70.2 379.9,66.6 Z" fill="#3cb848" stroke="#3cb848" stroke-width="3.8" stroke-linejoin="round"/>
<path d="M449.0,66.6 C454.8,63 458.8,60.4 464.8,60.4 L478.8,60.4 C484.8,60.4 488.8,63 494.6,66.6 C488.8,70.2 484.8,72.8 478.8,72.8 L464.8,72.8 C458.8,72.8 454.8,70.2 449.0,66.6 Z" fill="#3cb848" stroke="#3cb848" stroke-width="3.8" stroke-linejoin="round"/>
<path d="M518.0,66.6 C523.8,63 527.8,60.4 533.8,60.4 L547.8,60.4 C553.8,60.4 557.8,63 563.5999999999999,66.6 C557.8,70.2 553.8,72.8 547.8,72.8 L533.8,72.8 C527.8,72.8 523.8,70.2 518.0,66.6 Z" fill="#3cb848" stroke="#3cb848" stroke-width="3.8" stroke-linejoin="round"/>
<path d="M357.5,56.6 L378.7,56.6 L368.3,61.8 Z" fill="#8fd38c" stroke="#8fd38c" stroke-width="2.2" stroke-linejoin="round"/>
<path d="M360.3,77.0 L376.5,77.0 L368.3,74.6 Z" fill="#8fd38c" stroke="#8fd38c" stroke-width="2.2" stroke-linejoin="round"/>
<path d="M426.2,56.6 L447.4,56.6 L437.0,61.8 Z" fill="#8fd38c" stroke="#8fd38c" stroke-width="2.2" stroke-linejoin="round"/>
<path d="M429.0,77.0 L445.2,77.0 L437.0,74.6 Z" fill="#8fd38c" stroke="#8fd38c" stroke-width="2.2" stroke-linejoin="round"/>
<path d="M495.2,56.6 L516.4,56.6 L506.0,61.8 Z" fill="#8fd38c" stroke="#8fd38c" stroke-width="2.2" stroke-linejoin="round"/>
<path d="M498.0,77.0 L514.2,77.0 L506.0,74.6 Z" fill="#8fd38c" stroke="#8fd38c" stroke-width="2.2" stroke-linejoin="round"/>
<path d="M564.2,56.6 L585.4,56.6 L575.0,61.8 Z" fill="#8fd38c" stroke="#8fd38c" stroke-width="2.2" stroke-linejoin="round"/>
<path d="M567.0,77.0 L583.2,77.0 L575.0,74.6 Z" fill="#8fd38c" stroke="#8fd38c" stroke-width="2.2" stroke-linejoin="round"/>
<path d="M379.9,66.6 C385.7,63 389.7,60.4 395.7,60.4 L409.7,60.4 C415.7,60.4 419.7,63 425.5,66.6 C419.7,70.2 415.7,72.8 409.7,72.8 L395.7,72.8 C389.7,72.8 385.7,70.2 379.9,66.6 Z" fill="#8fd38c" stroke="#8fd38c" stroke-width="2.2" stroke-linejoin="round"/>
<path d="M449.0,66.6 C454.8,63 458.8,60.4 464.8,60.4 L478.8,60.4 C484.8,60.4 488.8,63 494.6,66.6 C488.8,70.2 484.8,72.8 478.8,72.8 L464.8,72.8 C458.8,72.8 454.8,70.2 449.0,66.6 Z" fill="#8fd38c" stroke="#8fd38c" stroke-width="2.2" stroke-linejoin="round"/>
<path d="M518.0,66.6 C523.8,63 527.8,60.4 533.8,60.4 L547.8,60.4 C553.8,60.4 557.8,63 563.5999999999999,66.6 C557.8,70.2 553.8,72.8 547.8,72.8 L533.8,72.8 C527.8,72.8 523.8,70.2 518.0,66.6 Z" fill="#8fd38c" stroke="#8fd38c" stroke-width="2.2" stroke-linejoin="round"/>
<path d="M357.5,56.6 L378.7,56.6 L368.3,61.8 Z" fill="#f7fbf5" stroke="#cdeac8" stroke-width="1.6" stroke-linejoin="round"/>
<path d="M357.5,56.6 L378.7,56.6 L368.3,61.8 Z" fill="#f8fbf6"/>
<path d="M360.3,77.0 L376.5,77.0 L368.3,74.6 Z" fill="#f7fbf5" stroke="#cdeac8" stroke-width="1.6" stroke-linejoin="round"/>
<path d="M360.3,77.0 L376.5,77.0 L368.3,74.6 Z" fill="#f8fbf6"/>
<path d="M426.2,56.6 L447.4,56.6 L437.0,61.8 Z" fill="#f7fbf5" stroke="#cdeac8" stroke-width="1.6" stroke-linejoin="round"/>
<path d="M426.2,56.6 L447.4,56.6 L437.0,61.8 Z" fill="#f8fbf6"/>
<path d="M429.0,77.0 L445.2,77.0 L437.0,74.6 Z" fill="#f7fbf5" stroke="#cdeac8" stroke-width="1.6" stroke-linejoin="round"/>
<path d="M429.0,77.0 L445.2,77.0 L437.0,74.6 Z" fill="#f8fbf6"/>
<path d="M495.2,56.6 L516.4,56.6 L506.0,61.8 Z" fill="#f7fbf5" stroke="#cdeac8" stroke-width="1.6" stroke-linejoin="round"/>
<path d="M495.2,56.6 L516.4,56.6 L506.0,61.8 Z" fill="#f8fbf6"/>
<path d="M498.0,77.0 L514.2,77.0 L506.0,74.6 Z" fill="#f7fbf5" stroke="#cdeac8" stroke-width="1.6" stroke-linejoin="round"/>
<path d="M498.0,77.0 L514.2,77.0 L506.0,74.6 Z" fill="#f8fbf6"/>
<path d="M564.2,56.6 L585.4,56.6 L575.0,61.8 Z" fill="#f7fbf5" stroke="#cdeac8" stroke-width="1.6" stroke-linejoin="round"/>
<path d="M564.2,56.6 L585.4,56.6 L575.0,61.8 Z" fill="#f8fbf6"/>
<path d="M567.0,77.0 L583.2,77.0 L575.0,74.6 Z" fill="#f7fbf5" stroke="#cdeac8" stroke-width="1.6" stroke-linejoin="round"/>
<path d="M567.0,77.0 L583.2,77.0 L575.0,74.6 Z" fill="#f8fbf6"/>
<path d="M379.9,66.6 C385.7,63 389.7,60.4 395.7,60.4 L409.7,60.4 C415.7,60.4 419.7,63 425.5,66.6 C419.7,70.2 415.7,72.8 409.7,72.8 L395.7,72.8 C389.7,72.8 385.7,70.2 379.9,66.6 Z" fill="#f7fbf5" stroke="#cdeac8" stroke-width="1.6" stroke-linejoin="round"/>
<path d="M379.9,66.6 C385.7,63 389.7,60.4 395.7,60.4 L409.7,60.4 C415.7,60.4 419.7,63 425.5,66.6 C419.7,70.2 415.7,72.8 409.7,72.8 L395.7,72.8 C389.7,72.8 385.7,70.2 379.9,66.6 Z" fill="#f8fbf6"/>
<path d="M449.0,66.6 C454.8,63 458.8,60.4 464.8,60.4 L478.8,60.4 C484.8,60.4 488.8,63 494.6,66.6 C488.8,70.2 484.8,72.8 478.8,72.8 L464.8,72.8 C458.8,72.8 454.8,70.2 449.0,66.6 Z" fill="#f7fbf5" stroke="#cdeac8" stroke-width="1.6" stroke-linejoin="round"/>
<path d="M449.0,66.6 C454.8,63 458.8,60.4 464.8,60.4 L478.8,60.4 C484.8,60.4 488.8,63 494.6,66.6 C488.8,70.2 484.8,72.8 478.8,72.8 L464.8,72.8 C458.8,72.8 454.8,70.2 449.0,66.6 Z" fill="#f8fbf6"/>
<path d="M518.0,66.6 C523.8,63 527.8,60.4 533.8,60.4 L547.8,60.4 C553.8,60.4 557.8,63 563.5999999999999,66.6 C557.8,70.2 553.8,72.8 547.8,72.8 L533.8,72.8 C527.8,72.8 523.8,70.2 518.0,66.6 Z" fill="#f7fbf5" stroke="#cdeac8" stroke-width="1.6" stroke-linejoin="round"/>
<path d="M518.0,66.6 C523.8,63 527.8,60.4 533.8,60.4 L547.8,60.4 C553.8,60.4 557.8,63 563.5999999999999,66.6 C557.8,70.2 553.8,72.8 547.8,72.8 L533.8,72.8 C527.8,72.8 523.8,70.2 518.0,66.6 Z" fill="#f8fbf6"/>
<ellipse cx="402" cy="47.5" rx="3.5" ry="2" fill="#fff"/>
<ellipse cx="437" cy="67.9" rx="3" ry="1.6" fill="#fff"/>
<ellipse cx="506" cy="67.9" rx="3" ry="1.6" fill="#fff"/>
<ellipse cx="473" cy="53.5" rx="5" ry="1.6" fill="#fff"/>
<ellipse cx="539" cy="48" rx="3" ry="2" fill="#fff"/>
<ellipse cx="402" cy="80" rx="3.5" ry="1.6" fill="#fff"/>
<ellipse cx="470" cy="80.6" rx="5" ry="1.6" fill="#fff"/>
<ellipse cx="539" cy="80.3" rx="3" ry="1.6" fill="#fff"/>
</g>
<line x1="470.3" y1="25.6" x2="470.3" y2="112.3" stroke="#999" stroke-width="0.5" stroke-dasharray="1,1"/>
<rect x="401.2" y="25.6" width="138.09999999999997" height="86.69999999999999" fill="none" stroke="#c8ccc8" stroke-width="0.6"/>
<path d="M456.0,52.1 L467.2,52.1 L469,54.3 L467.2,56.5 L456.0,56.5 Z" stroke="none" stroke-width="1" fill="#111" />
<text x="462.2" y="55.199999999999996" font-size="2.6" fill="#fff" text-anchor="middle" font-weight="normal" font-family="Liberation Sans, sans-serif" >1-Noise</text>
<path d="M484.90000000000003,49.5 L496.7,49.5 L496.7,53.9 L484.90000000000003,53.9 L483.1,51.7 Z" stroke="none" stroke-width="1" fill="#111" />
<text x="490.20000000000005" y="52.6" font-size="2.6" fill="#fff" text-anchor="middle" font-weight="normal" font-family="Liberation Sans, sans-serif" >1-Level</text>
<path d="M447.70000000000005,78.7 L459.2,78.7 L461,80.80000000000001 L459.2,82.9 L447.70000000000005,82.9 Z" stroke="none" stroke-width="1" fill="#111" />
<text x="454.05" y="81.70000000000002" font-size="2.6" fill="#fff" text-anchor="middle" font-weight="normal" font-family="Liberation Sans, sans-serif" >0-Level</text>
<path d="M476.1,76.1 L487.9,76.1 L487.9,80.5 L476.1,80.5 L474.3,78.3 Z" stroke="none" stroke-width="1" fill="#111" />
<text x="481.4" y="79.2" font-size="2.6" fill="#fff" text-anchor="middle" font-weight="normal" font-family="Liberation Sans, sans-serif" >0-Noise</text>
<circle cx="471" cy="54.5" r="0.7" fill="#e03030"/>
<circle cx="479.5" cy="50.8" r="0.7" fill="#e03030"/>
<circle cx="463" cy="80.7" r="0.7" fill="#e03030"/>
<circle cx="472.5" cy="79.2" r="0.7" fill="#e03030"/>
<text x="518.5" y="106.3" font-size="3.8" fill="#444" text-anchor="middle" font-weight="normal" font-family="Liberation Sans, sans-serif" >20 ps</text>
<line x1="512.8" y1="109.6" x2="524.5" y2="109.6" stroke="#222" stroke-width="0.7" />
<text x="3.0" y="138.6" font-size="15.2" fill="#111" text-anchor="start" font-weight="normal" font-family="Liberation Sans, sans-serif" >(c)</text>
<defs><clipPath id="semc"><rect x="21.7" y="156.5" width="99.4" height="67.6"/></clipPath><radialGradient id="blob" cx="0.5" cy="0.45" r="0.55"><stop offset="0" stop-color="#ffffff"/><stop offset="0.75" stop-color="#f4f4f4"/><stop offset="1" stop-color="#d8d8d8"/></radialGradient><linearGradient id="semtop" x1="0" y1="0" x2="1" y2="0"><stop offset="0" stop-color="#c4c4c4"/><stop offset="0.5" stop-color="#d2d2d2"/><stop offset="1" stop-color="#c8c8c8"/></linearGradient><linearGradient id="sibox" x1="0" y1="0" x2="0.6" y2="1"><stop offset="0" stop-color="#3a3a3a"/><stop offset="0.45" stop-color="#1c1c1c"/><stop offset="1" stop-color="#0e0e0e"/></linearGradient></defs>
<g clip-path="url(#semc)">
<rect x="21.7" y="156.5" width="99.4" height="67.6" fill="url(#semtop)" />
<path d="M21,182 C30,182 35,180 39,177 L108,177 C112,180 116,182 122,182 L122,225 L21,225 Z" stroke="none" stroke-width="1" fill="#575757" />
<ellipse cx="53" cy="164" rx="23" ry="14" fill="url(#blob)"/>
<path d="M38.5,179.2 C40,177.8 42,177.3 45,177.3 L101,177.3 C104,177.3 106,177.8 108,179.2" stroke="#8e8e8e" stroke-width="1.4" fill="none" />
<path d="M40,180 C40,179 41,178.4 43,178.4 L104,178.4 C106,178.4 107,179 107.5,180 L107.5,187 L106.3,188 L106.3,203 L108,205 L108,214 L39,214 L39,205 L40.8,203 L40.8,188 L40,187 Z" stroke="none" stroke-width="1" fill="url(#sibox)" />
</g>
<line x1="49.3" y1="179.5" x2="49.3" y2="211.5" stroke="#ddd" stroke-width="0.5" />
<path d="M48.3,181 L49.3,179 L50.3,181" stroke="#ddd" stroke-width="0.5" fill="none" />
<path d="M48.3,210 L49.3,212 L50.3,210" stroke="#ddd" stroke-width="0.5" fill="none" />
<line x1="39.5" y1="215.2" x2="107.5" y2="215.2" stroke="#ddd" stroke-width="0.6" />
<text x="47.5" y="197.6" font-size="3.8" fill="#ddd" text-anchor="start" font-weight="normal" font-family="Liberation Sans, sans-serif" >218nm</text>
<text x="72" y="197.6" font-size="3.8" fill="#ddd" text-anchor="start" font-weight="normal" font-family="Liberation Sans, sans-serif" >Si</text>
<text x="67.5" y="213.4" font-size="3.8" fill="#ddd" text-anchor="start" font-weight="normal" font-family="Liberation Sans, sans-serif" >498nm</text>
<text x="51" y="222.3" font-size="3.8" fill="#ddd" text-anchor="start" font-weight="normal" font-family="Liberation Sans, sans-serif" >SiO₂</text>
<text x="95" y="177.6" font-size="3.6" fill="#eee" text-anchor="start" font-weight="normal" font-family="Liberation Sans, sans-serif" >AlO₃ 5nm</text>
<text x="22.2" y="220.8" font-size="3.2" fill="#ccc" text-anchor="start" font-weight="normal" font-family="Liberation Sans, sans-serif" >100 nm</text>
<line x1="22.2" y1="221.8" x2="31.5" y2="221.8" stroke="#ccc" stroke-width="0.4" />
<rect x="144.5" y="150.6" width="99.30000000000001" height="80.70000000000002" fill="#fff" stroke="#333" stroke-width="0.8"/>
<line x1="144.5" y1="164.0" x2="146.3" y2="164.0" stroke="#333" stroke-width="0.6" />
<text x="143.4" y="165.8" font-size="5.3" fill="#222" text-anchor="end" font-weight="bold" font-family="Liberation Sans, sans-serif" >-40</text>
<line x1="144.5" y1="191.1" x2="146.3" y2="191.1" stroke="#333" stroke-width="0.6" />
<text x="143.4" y="192.9" font-size="5.3" fill="#222" text-anchor="end" font-weight="bold" font-family="Liberation Sans, sans-serif" >-50</text>
<line x1="144.5" y1="218.2" x2="146.3" y2="218.2" stroke="#333" stroke-width="0.6" />
<text x="143.4" y="220.0" font-size="5.3" fill="#222" text-anchor="end" font-weight="bold" font-family="Liberation Sans, sans-serif" >-60</text>
<line x1="144.5" y1="150.45" x2="145.5" y2="150.45" stroke="#333" stroke-width="0.5" />
<line x1="144.5" y1="177.55" x2="145.5" y2="177.55" stroke="#333" stroke-width="0.5" />
<line x1="144.5" y1="204.65" x2="145.5" y2="204.65" stroke="#333" stroke-width="0.5" />
<line x1="144.5" y1="231.75" x2="145.5" y2="231.75" stroke="#333" stroke-width="0.5" />
<line x1="144.5" y1="231.3" x2="144.5" y2="229.5" stroke="#333" stroke-width="0.6" />
<text x="144.5" y="237.6" font-size="4.5" fill="#222" text-anchor="middle" font-weight="bold" font-family="Liberation Sans, sans-serif" >1549.0</text>
<line x1="152.77499999999247" y1="231.3" x2="152.77499999999247" y2="230.3" stroke="#333" stroke-width="0.5" />
<line x1="161.05000000000376" y1="231.3" x2="161.05000000000376" y2="229.5" stroke="#333" stroke-width="0.6" />
<text x="161.05000000000376" y="237.6" font-size="4.5" fill="#222" text-anchor="middle" font-weight="bold" font-family="Liberation Sans, sans-serif" >1549.2</text>
<line x1="169.32499999999624" y1="231.3" x2="169.32499999999624" y2="230.3" stroke="#333" stroke-width="0.5" />
<line x1="177.60000000000753" y1="231.3" x2="177.60000000000753" y2="229.5" stroke="#333" stroke-width="0.6" />
<text x="177.60000000000753" y="237.6" font-size="4.5" fill="#222" text-anchor="middle" font-weight="bold" font-family="Liberation Sans, sans-serif" >1549.4</text>
<line x1="185.875" y1="231.3" x2="185.875" y2="230.3" stroke="#333" stroke-width="0.5" />
<line x1="194.14999999999247" y1="231.3" x2="194.14999999999247" y2="229.5" stroke="#333" stroke-width="0.6" />
<text x="194.14999999999247" y="237.6" font-size="4.5" fill="#222" text-anchor="middle" font-weight="bold" font-family="Liberation Sans, sans-serif" >1549.6</text>
<line x1="202.42499999998495" y1="231.3" x2="202.42499999998495" y2="230.3" stroke="#333" stroke-width="0.5" />
<line x1="210.69999999999624" y1="231.3" x2="210.69999999999624" y2="229.5" stroke="#333" stroke-width="0.6" />
<text x="210.69999999999624" y="237.6" font-size="4.5" fill="#222" text-anchor="middle" font-weight="bold" font-family="Liberation Sans, sans-serif" >1549.8</text>
<line x1="218.9749999999887" y1="231.3" x2="218.9749999999887" y2="230.3" stroke="#333" stroke-width="0.5" />
<line x1="227.25" y1="231.3" x2="227.25" y2="229.5" stroke="#333" stroke-width="0.6" />
<text x="227.25" y="237.6" font-size="4.5" fill="#222" text-anchor="middle" font-weight="bold" font-family="Liberation Sans, sans-serif" >1550.0</text>
<line x1="235.52499999999247" y1="231.3" x2="235.52499999999247" y2="230.3" stroke="#333" stroke-width="0.5" />
<line x1="243.80000000000376" y1="231.3" x2="243.80000000000376" y2="229.5" stroke="#333" stroke-width="0.6" />
<text x="243.80000000000376" y="237.6" font-size="4.5" fill="#222" text-anchor="middle" font-weight="bold" font-family="Liberation Sans, sans-serif" >1550.2</text>
<text x="0" y="0" font-size="7.6" fill="#111" font-weight="bold" text-anchor="middle" font-family="Liberation Sans, sans-serif" textLength="73.6" lengthAdjust="spacingAndGlyphs" transform="translate(134.8,190.8) rotate(-90)">Transmission (dBm)</text>
<text x="131.6" y="151.2" font-size="5" fill="#333" text-anchor="middle" font-weight="normal" font-family="Liberation Sans, sans-serif" >σ</text>
<defs><clipPath id="plc"><rect x="144.5" y="150.6" width="99.30000000000001" height="80.70000000000002"/></clipPath></defs>
<g clip-path="url(#plc)">
<path d="M144.80,153.10 C145.67,153.72 148.13,155.73 150.00,156.80 C151.87,157.87 154.00,158.70 156.00,159.50 C158.00,160.30 159.83,161.00 162.00,161.60 C164.17,162.20 166.83,162.72 169.00,163.10 C171.17,163.48 173.17,163.70 175.00,163.90 C176.83,164.10 178.50,164.13 180.00,164.30 C181.50,164.47 182.62,164.73 184.00,164.90 C185.38,165.07 186.63,165.52 188.30,165.30 C189.97,165.08 191.83,164.32 194.00,163.60 C196.17,162.88 199.30,161.75 201.30,161.00 C203.30,160.25 204.22,159.83 206.00,159.10 C207.78,158.37 210.00,157.45 212.00,156.60 C214.00,155.75 215.83,154.90 218.00,154.00 C220.17,153.10 223.17,151.73 225.00,151.20 C226.83,150.67 228.33,150.87 229.00,150.80" stroke="#3838c0" stroke-width="1.1" fill="none" />
<path d="M144.80,153.60 C145.67,154.22 148.13,156.20 150.00,157.30 C151.87,158.40 154.00,159.33 156.00,160.20 C158.00,161.07 159.83,161.83 162.00,162.50 C164.17,163.17 166.83,163.78 169.00,164.20 C171.17,164.62 172.87,164.77 175.00,165.00 C177.13,165.23 179.80,165.50 181.80,165.60 C183.80,165.70 185.20,165.65 187.00,165.60 C188.80,165.55 190.60,165.65 192.60,165.30 C194.60,164.95 196.83,164.22 199.00,163.50 C201.17,162.78 203.27,161.88 205.60,161.00 C207.93,160.12 210.48,159.12 213.00,158.20 C215.52,157.28 218.37,156.37 220.70,155.50 C223.03,154.63 224.85,153.78 227.00,153.00 C229.15,152.22 232.50,151.17 233.60,150.80" stroke="#a4a03a" stroke-width="1.1" fill="none" />
<path d="M144.80,154.20 C145.67,154.83 148.13,156.83 150.00,158.00 C151.87,159.17 154.00,160.28 156.00,161.20 C158.00,162.12 159.83,162.82 162.00,163.50 C164.17,164.18 166.83,164.73 169.00,165.30 C171.17,165.87 172.87,166.37 175.00,166.90 C177.13,167.43 179.80,168.10 181.80,168.50 C183.80,168.90 185.20,169.12 187.00,169.30 C188.80,169.48 190.60,169.82 192.60,169.60 C194.60,169.38 196.83,168.72 199.00,168.00 C201.17,167.28 203.43,166.22 205.60,165.30 C207.77,164.38 209.85,163.40 212.00,162.50 C214.15,161.60 215.83,161.07 218.50,159.90 C221.17,158.73 224.75,156.95 228.00,155.50 C231.25,154.05 235.42,152.20 238.00,151.20 C240.58,150.20 242.58,149.78 243.50,149.50" stroke="#ff2dff" stroke-width="1.1" fill="none" />
<path d="M144.80,154.60 C145.67,155.25 148.13,157.27 150.00,158.50 C151.87,159.73 154.00,160.95 156.00,162.00 C158.00,163.05 159.83,163.90 162.00,164.80 C164.17,165.70 167.00,166.53 169.00,167.40 C171.00,168.27 172.22,169.10 174.00,170.00 C175.78,170.90 177.70,171.97 179.70,172.80 C181.70,173.63 183.85,174.47 186.00,175.00 C188.15,175.53 190.60,175.92 192.60,176.00 C194.60,176.08 196.20,175.85 198.00,175.50 C199.80,175.15 201.40,174.90 203.40,173.90 C205.40,172.90 207.83,170.93 210.00,169.50 C212.17,168.07 214.40,166.47 216.40,165.30 C218.40,164.13 219.85,163.40 222.00,162.50 C224.15,161.60 226.97,160.85 229.30,159.90 C231.63,158.95 233.63,157.88 236.00,156.80 C238.37,155.72 242.25,153.97 243.50,153.40" stroke="#229a2a" stroke-width="1.1" fill="none" />
<path d="M144.80,155.50 C145.67,156.18 148.13,158.35 150.00,159.60 C151.87,160.85 154.00,161.90 156.00,163.00 C158.00,164.10 159.83,165.10 162.00,166.20 C164.17,167.30 167.17,168.55 169.00,169.60 C170.83,170.65 171.58,171.43 173.00,172.50 C174.42,173.57 175.83,174.75 177.50,176.00 C179.17,177.25 181.20,178.73 183.00,180.00 C184.80,181.27 186.52,182.47 188.30,183.60 C190.08,184.73 192.17,186.37 193.70,186.80 C195.23,187.23 196.23,186.55 197.50,186.20 C198.77,185.85 199.88,185.57 201.30,184.70 C202.72,183.83 204.22,182.45 206.00,181.00 C207.78,179.55 210.00,177.75 212.00,176.00 C214.00,174.25 215.83,172.28 218.00,170.50 C220.17,168.72 222.33,167.05 225.00,165.30 C227.67,163.55 230.92,161.63 234.00,160.00 C237.08,158.37 241.92,156.25 243.50,155.50" stroke="#2f3aff" stroke-width="1.1" fill="none" />
<path d="M144.80,157.70 C145.67,158.38 148.13,160.53 150.00,161.80 C151.87,163.07 154.00,164.17 156.00,165.30 C158.00,166.43 159.85,167.53 162.00,168.60 C164.15,169.67 167.07,170.55 168.90,171.70 C170.73,172.85 171.57,174.05 173.00,175.50 C174.43,176.95 176.00,178.73 177.50,180.40 C179.00,182.07 180.58,183.73 182.00,185.50 C183.42,187.27 184.58,188.80 186.00,191.00 C187.42,193.20 189.33,196.45 190.50,198.70 C191.67,200.95 192.25,204.03 193.00,204.50 C193.75,204.97 194.33,202.65 195.00,201.50 C195.67,200.35 196.17,199.02 197.00,197.60 C197.83,196.18 198.93,194.43 200.00,193.00 C201.07,191.57 202.23,190.50 203.40,189.00 C204.57,187.50 205.57,185.83 207.00,184.00 C208.43,182.17 210.17,179.93 212.00,178.00 C213.83,176.07 215.83,174.17 218.00,172.40 C220.17,170.63 222.33,169.05 225.00,167.40 C227.67,165.75 230.92,164.12 234.00,162.50 C237.08,160.88 241.92,158.50 243.50,157.70" stroke="#ff2a2a" stroke-width="1.1" fill="none" />
<path d="M144.80,160.90 C145.93,161.98 149.73,165.95 151.60,167.40 C153.47,168.85 154.55,168.88 156.00,169.60 C157.45,170.32 158.80,170.72 160.30,171.70 C161.80,172.68 163.57,174.05 165.00,175.50 C166.43,176.95 167.57,178.73 168.90,180.40 C170.23,182.07 171.57,183.73 173.00,185.50 C174.43,187.27 176.17,189.08 177.50,191.00 C178.83,192.92 179.92,194.83 181.00,197.00 C182.08,199.17 183.17,201.67 184.00,204.00 C184.83,206.33 185.47,208.67 186.00,211.00 C186.53,213.33 186.83,215.50 187.20,218.00 C187.57,220.50 187.95,223.92 188.20,226.00 C188.45,228.08 188.40,230.67 188.70,230.50 C189.00,230.33 189.53,226.88 190.00,225.00 C190.47,223.12 190.70,222.70 191.50,219.20 C192.30,215.70 193.80,207.53 194.80,204.00 C195.80,200.47 196.42,199.78 197.50,198.00 C198.58,196.22 199.88,195.30 201.30,193.30 C202.72,191.30 204.22,188.52 206.00,186.00 C207.78,183.48 210.00,180.45 212.00,178.20 C214.00,175.95 215.83,174.30 218.00,172.50 C220.17,170.70 222.33,169.07 225.00,167.40 C227.67,165.73 230.92,164.12 234.00,162.50 C237.08,160.88 241.92,158.50 243.50,157.70" stroke="#3a3a3a" stroke-width="1.1" fill="none" />
<path d="M175.40,162.70 C176.33,163.17 179.23,164.35 181.00,165.50 C182.77,166.65 184.58,168.10 186.00,169.60 C187.42,171.10 188.58,172.70 189.50,174.50 C190.42,176.30 190.95,178.48 191.50,180.40 C192.05,182.32 192.55,184.23 192.80,186.00 C193.05,187.77 193.00,188.67 193.00,191.00 C193.00,193.33 192.93,196.38 192.80,200.00 C192.67,203.62 192.58,208.87 192.20,212.70 C191.82,216.53 191.15,219.95 190.50,223.00 C189.85,226.05 188.67,229.67 188.30,231.00" stroke="#2233cc" stroke-width="0.8" fill="none" stroke-dasharray="0.9,0.7"/>
<line x1="177.6" y1="161.5" x2="177.6" y2="204" stroke="#ff2020" stroke-width="0.9" stroke-dasharray="2.2,1.2"/>
<line x1="195.0" y1="161.5" x2="195.0" y2="230" stroke="#ff2020" stroke-width="0.9" stroke-dasharray="2.2,1.2"/>
<line x1="188.6" y1="200" x2="188.6" y2="229" stroke="#ff2020" stroke-width="0.9" stroke-dasharray="2.2,1.2"/>
<circle cx="188.4" cy="228.2" r="0.9" fill="#662020"/>
</g>
<line x1="177.6" y1="162.4" x2="183.2" y2="162.4" stroke="#ff2020" stroke-width="0.8" />
<path d="M183.2,162.4 L181.6,161.3 L181.6,163.5 Z" stroke="none" stroke-width="1" fill="#ff2020" />
<line x1="189.4" y1="162.4" x2="195.0" y2="162.4" stroke="#ff2020" stroke-width="0.8" />
<path d="M195.0,162.4 L193.4,161.3 L193.4,163.5 Z" stroke="none" stroke-width="1" fill="#ff2020" />
<line x1="183.2" y1="207.4" x2="188.3" y2="207.4" stroke="#ff2020" stroke-width="0.8" />
<path d="M188.3,207.4 L186.70000000000002,206.3 L186.70000000000002,208.5 Z" stroke="none" stroke-width="1" fill="#ff2020" />
<line x1="200.5" y1="207.4" x2="195.3" y2="207.4" stroke="#ff2020" stroke-width="0.8" />
<path d="M195.3,207.4 L196.9,206.3 L196.9,208.5 Z" stroke="none" stroke-width="1" fill="#ff2020" />
<text x="187.2" y="156.6" font-size="5.4" fill="#222" text-anchor="middle" font-weight="bold" font-family="Liberation Sans, sans-serif" >185pm</text>
<text x="199.8" y="209.4" font-size="5.4" fill="#222" text-anchor="start" font-weight="bold" font-family="Liberation Sans, sans-serif" >66pm</text>
<line x1="224" y1="188.8" x2="230.5" y2="188.8" stroke="#3a3a3a" stroke-width="0.8" />
<text x="232" y="190.3" font-size="4.2" fill="#333" text-anchor="start" font-weight="normal" font-family="Liberation Sans, sans-serif" >0.0V</text>
<line x1="224" y1="194.13000000000002" x2="230.5" y2="194.13000000000002" stroke="#ff2a2a" stroke-width="0.8" />
<text x="232" y="195.63000000000002" font-size="4.2" fill="#333" text-anchor="start" font-weight="normal" font-family="Liberation Sans, sans-serif" >0.5V</text>
<line x1="224" y1="199.46" x2="230.5" y2="199.46" stroke="#2f3aff" stroke-width="0.8" />
<text x="232" y="200.96" font-size="4.2" fill="#333" text-anchor="start" font-weight="normal" font-family="Liberation Sans, sans-serif" >1.0V</text>
<line x1="224" y1="204.79000000000002" x2="230.5" y2="204.79000000000002" stroke="#229a2a" stroke-width="0.8" />
<text x="232" y="206.29000000000002" font-size="4.2" fill="#333" text-anchor="start" font-weight="normal" font-family="Liberation Sans, sans-serif" >1.5V</text>
<line x1="224" y1="210.12" x2="230.5" y2="210.12" stroke="#ff2dff" stroke-width="0.8" />
<text x="232" y="211.62" font-size="4.2" fill="#333" text-anchor="start" font-weight="normal" font-family="Liberation Sans, sans-serif" >2.0V</text>
<line x1="224" y1="215.45000000000002" x2="230.5" y2="215.45000000000002" stroke="#a4a03a" stroke-width="0.8" />
<text x="232" y="216.95000000000002" font-size="4.2" fill="#333" text-anchor="start" font-weight="normal" font-family="Liberation Sans, sans-serif" >2.5V</text>
<line x1="224" y1="220.78" x2="230.5" y2="220.78" stroke="#3838c0" stroke-width="0.8" />
<text x="232" y="222.28" font-size="4.2" fill="#333" text-anchor="start" font-weight="normal" font-family="Liberation Sans, sans-serif" >3.0V</text>
<text x="194.5" y="246.2" font-size="6.2" fill="#222" text-anchor="middle" font-weight="bold" font-family="Liberation Sans, sans-serif"  textLength="43.5" lengthAdjust="spacingAndGlyphs">Wavelength (nm)</text>
<text x="269.8" y="139.6" font-size="15.2" fill="#111" text-anchor="start" font-weight="normal" font-family="Liberation Sans, sans-serif" >(d)</text>
<rect x="274.2" y="148.5" width="119.10000000000002" height="88.0" fill="#fff" stroke="#333" stroke-width="0.9"/>
<line x1="274.2" y1="156.4" x2="276.0" y2="156.4" stroke="#333" stroke-width="0.6" />
<text x="272.8" y="158.4" font-size="5.9" fill="#222" text-anchor="end" font-weight="normal" font-family="Liberation Sans, sans-serif" >0</text>
<line x1="274.2" y1="170.8" x2="276.0" y2="170.8" stroke="#333" stroke-width="0.6" />
<text x="272.8" y="172.8" font-size="5.9" fill="#222" text-anchor="end" font-weight="normal" font-family="Liberation Sans, sans-serif" >-50</text>
<line x1="274.2" y1="185.20000000000002" x2="276.0" y2="185.20000000000002" stroke="#333" stroke-width="0.6" />
<text x="272.8" y="187.20000000000002" font-size="5.9" fill="#222" text-anchor="end" font-weight="normal" font-family="Liberation Sans, sans-serif" >-100</text>
<line x1="274.2" y1="199.60000000000002" x2="276.0" y2="199.60000000000002" stroke="#333" stroke-width="0.6" />
<text x="272.8" y="201.60000000000002" font-size="5.9" fill="#222" text-anchor="end" font-weight="normal" font-family="Liberation Sans, sans-serif" >-150</text>
<line x1="274.2" y1="214.0" x2="276.0" y2="214.0" stroke="#333" stroke-width="0.6" />
<text x="272.8" y="216.0" font-size="5.9" fill="#222" text-anchor="end" font-weight="normal" font-family="Liberation Sans, sans-serif" >-200</text>
<line x1="274.2" y1="228.4" x2="276.0" y2="228.4" stroke="#333" stroke-width="0.6" />
<text x="272.8" y="230.4" font-size="5.9" fill="#222" text-anchor="end" font-weight="normal" font-family="Liberation Sans, sans-serif" >-250</text>
<line x1="274.2" y1="163.6" x2="275.2" y2="163.6" stroke="#333" stroke-width="0.5" />
<line x1="274.2" y1="178.0" x2="275.2" y2="178.0" stroke="#333" stroke-width="0.5" />
<line x1="274.2" y1="192.4" x2="275.2" y2="192.4" stroke="#333" stroke-width="0.5" />
<line x1="274.2" y1="206.8" x2="275.2" y2="206.8" stroke="#333" stroke-width="0.5" />
<line x1="274.2" y1="221.2" x2="275.2" y2="221.2" stroke="#333" stroke-width="0.5" />
<line x1="277.9" y1="236.5" x2="277.9" y2="234.7" stroke="#333" stroke-width="0.6" />
<text x="277.9" y="242.8" font-size="5.6" fill="#222" text-anchor="middle" font-weight="normal" font-family="Liberation Sans, sans-serif" >-7</text>
<line x1="285.9" y1="236.5" x2="285.9" y2="235.5" stroke="#333" stroke-width="0.5" />
<line x1="293.9" y1="236.5" x2="293.9" y2="234.7" stroke="#333" stroke-width="0.6" />
<text x="293.9" y="242.8" font-size="5.6" fill="#222" text-anchor="middle" font-weight="normal" font-family="Liberation Sans, sans-serif" >-6</text>
<line x1="301.9" y1="236.5" x2="301.9" y2="235.5" stroke="#333" stroke-width="0.5" />
<line x1="309.9" y1="236.5" x2="309.9" y2="234.7" stroke="#333" stroke-width="0.6" />
<text x="309.9" y="242.8" font-size="5.6" fill="#222" text-anchor="middle" font-weight="normal" font-family="Liberation Sans, sans-serif" >-5</text>
<line x1="317.9" y1="236.5" x2="317.9" y2="235.5" stroke="#333" stroke-width="0.5" />
<line x1="325.9" y1="236.5" x2="325.9" y2="234.7" stroke="#333" stroke-width="0.6" />
<text x="325.9" y="242.8" font-size="5.6" fill="#222" text-anchor="middle" font-weight="normal" font-family="Liberation Sans, sans-serif" >-4</text>
<line x1="333.9" y1="236.5" x2="333.9" y2="235.5" stroke="#333" stroke-width="0.5" />
<line x1="341.9" y1="236.5" x2="341.9" y2="234.7" stroke="#333" stroke-width="0.6" />
<text x="341.9" y="242.8" font-size="5.6" fill="#222" text-anchor="middle" font-weight="normal" font-family="Liberation Sans, sans-serif" >-3</text>
<line x1="349.9" y1="236.5" x2="349.9" y2="235.5" stroke="#333" stroke-width="0.5" />
<line x1="357.9" y1="236.5" x2="357.9" y2="234.7" stroke="#333" stroke-width="0.6" />
<text x="357.9" y="242.8" font-size="5.6" fill="#222" text-anchor="middle" font-weight="normal" font-family="Liberation Sans, sans-serif" >-2</text>
<line x1="365.9" y1="236.5" x2="365.9" y2="235.5" stroke="#333" stroke-width="0.5" />
<line x1="373.9" y1="236.5" x2="373.9" y2="234.7" stroke="#333" stroke-width="0.6" />
<text x="373.9" y="242.8" font-size="5.6" fill="#222" text-anchor="middle" font-weight="normal" font-family="Liberation Sans, sans-serif" >-1</text>
<line x1="381.9" y1="236.5" x2="381.9" y2="235.5" stroke="#333" stroke-width="0.5" />
<line x1="389.9" y1="236.5" x2="389.9" y2="234.7" stroke="#333" stroke-width="0.6" />
<text x="389.9" y="242.8" font-size="5.6" fill="#222" text-anchor="middle" font-weight="normal" font-family="Liberation Sans, sans-serif" >0</text>
<text x="331.5" y="250" font-size="5.4" fill="#222" text-anchor="middle" font-family="Liberation Sans, sans-serif">V<tspan font-size="3.6" dy="1.2">gate</tspan><tspan dy="-1.2"> (V)</tspan></text>
<text x="0" y="0" font-size="5.6" fill="#222" text-anchor="middle" font-family="Liberation Sans, sans-serif" textLength="62" lengthAdjust="spacingAndGlyphs" transform="translate(259.6,187) rotate(-90)">Δλ Wavelength shift (pm)</text>
<defs><clipPath id="insd"><rect x="324.9" y="197.6" width="51" height="34.1"/></clipPath></defs>
<g clip-path="url(#insd)">
<rect x="324.9" y="197.6" width="51" height="34.1" fill="#b4b4b4" />
<rect x="324.9" y="197.6" width="51" height="5.6" fill="#a2a2a2" />
<rect x="324.9" y="226" width="51" height="5.7" fill="#a2a2a2" />
<rect x="324.9" y="203.2" width="51" height="1.0" fill="#c8c8c8" />
<rect x="324.9" y="225.2" width="51" height="1.0" fill="#c8c8c8" />
<rect x="343.5" y="197.6" width="12" height="34.1" fill="#cdcdcd" />
<circle cx="349.7" cy="215.4" r="12.4" fill="#d2d2d2"/>
<circle cx="349.7" cy="215.4" r="8.3" fill="#9e9e9e"/>
<text x="326" y="202.2" font-size="1.6" fill="#444" text-anchor="start" font-weight="normal" font-family="Liberation Sans, sans-serif" >Graphene</text>
<text x="364" y="202.2" font-size="1.6" fill="#444" text-anchor="start" font-weight="normal" font-family="Liberation Sans, sans-serif" >Si waveguide</text>
<text x="325.5" y="210" font-size="1.6" fill="#444" text-anchor="start" font-weight="normal" font-family="Liberation Sans, sans-serif" >Graphene</text>
<line x1="330" y1="210.6" x2="337" y2="213" stroke="#444" stroke-width="0.25" />
<text x="359" y="220.5" font-size="1.6" fill="#444" text-anchor="start" font-weight="normal" font-family="Liberation Sans, sans-serif" >Si waveguide</text>
<text x="326" y="229.2" font-size="1.6" fill="#444" text-anchor="start" font-weight="normal" font-family="Liberation Sans, sans-serif" >Si waveguide</text>
</g>
<path d="M277.9,228.4 L293.9,216.3 L309.9,206.8 L317.9,199.0 L325.9,189.5 L333.9,178.3 L341.9,166.8 L349.9,156.4 L357.9,166.8 L365.9,179.4 L373.9,189.2 L378.7,196.6 L382.3,197.1 L383.8,201.0 L385.1,203.8 L386.1,205.7" stroke="#111" stroke-width="0.95" fill="none" stroke-linejoin="round"/>
<rect x="276.45" y="226.95000000000002" width="2.9" height="2.9" fill="#111" />
<rect x="292.45" y="214.854" width="2.9" height="2.9" fill="#111" />
<rect x="308.45" y="205.35000000000002" width="2.9" height="2.9" fill="#111" />
<rect x="316.45" y="197.574" width="2.9" height="2.9" fill="#111" />
<rect x="324.45" y="188.07000000000002" width="2.9" height="2.9" fill="#111" />
<rect x="332.45" y="176.83800000000002" width="2.9" height="2.9" fill="#111" />
<rect x="340.45" y="165.318" width="2.9" height="2.9" fill="#111" />
<rect x="348.45" y="154.95000000000002" width="2.9" height="2.9" fill="#111" />
<rect x="356.45" y="165.318" width="2.9" height="2.9" fill="#111" />
<rect x="364.45" y="177.99" width="2.9" height="2.9" fill="#111" />
<rect x="372.45" y="187.782" width="2.9" height="2.9" fill="#111" />
<rect x="377.25" y="195.15" width="2.9" height="2.9" fill="#111" />
<rect x="378.95" y="191.55" width="2.9" height="2.9" fill="#111" />
<rect x="380.85" y="195.65" width="2.9" height="2.9" fill="#111" />
<rect x="382.35" y="199.55" width="2.9" height="2.9" fill="#111" />
<rect x="385.25" y="199.85000000000002" width="2.9" height="2.9" fill="#111" />
<rect x="383.65000000000003" y="202.35000000000002" width="2.9" height="2.9" fill="#111" />
<rect x="384.65000000000003" y="204.25" width="2.9" height="2.9" fill="#111" />
<text x="402.2" y="139.8" font-size="15.2" fill="#111" text-anchor="start" font-weight="normal" font-family="Liberation Sans, sans-serif" >(e)</text>
<rect x="417" y="142.6" width="50.8" height="49.2" fill="#2c5878" />
<path d="M437.0,148.6 L437.0,185.8 L431.8,185.8 L431.8,180.2 L429,180.2 C422.5,180.2 418.6,175 418.6,166.6 C418.6,158 422.5,153 429,153 L431.8,153 L431.8,148.6 Z" stroke="none" stroke-width="1" fill="#d6d2cb" />
<path d="M444.6,148.6 L444.6,187.8 L453.5,187.8 L453.5,180.2 L455,180.2 C461,180.2 466.6,175 466.6,166.6 C466.6,158 461,153 455,153 L453.5,153 L453.5,148.6 Z" stroke="none" stroke-width="1" fill="#d6d2cb" />
<rect x="425.5" y="159.6" width="11.3" height="15.6" fill="#cdc8c0" />
<rect x="445.6" y="159.6" width="15.2" height="15.6" fill="#cdc8c0" />
<path d="M430,158.6 L452,158.6 C458,158.6 461.2,161 461.2,166 L461.2,168.4 C461.2,173.5 458,175.9 452,175.9 L430,175.9 C426,175.9 424.3,173.5 424.3,168.4 L424.3,166 C424.3,161 426,158.6 430,158.6 Z" stroke="#a8582a" stroke-width="0.9" fill="none" />
<path d="M440.8,142.6 L440.8,155.5 C440.8,157.6 439,158.6 436,158.6" stroke="#c86a2a" stroke-width="0.8" fill="none" />
<path d="M440.8,155.5 C440.8,157.6 442.6,158.6 445.6,158.6" stroke="#c86a2a" stroke-width="0.8" fill="none" />
<path d="M436,175.9 C439,175.9 440.8,177 440.8,179 L440.8,186.5 C440.8,188 439.8,188.5 438,188.5 L417,188.5" stroke="#c86a2a" stroke-width="0.8" fill="none" />
<path d="M445.6,175.9 C442.6,175.9 440.8,177 440.8,179" stroke="#c86a2a" stroke-width="0.8" fill="none" />
<ellipse cx="440.8" cy="150.4" rx="0.7" ry="1.3" fill="#ff7a20"/>
<ellipse cx="440.8" cy="184.2" rx="0.7" ry="1.3" fill="#ff7a20"/>
<text x="456" y="187.6" font-size="2.4" fill="#ddd" text-anchor="start" font-weight="normal" font-family="Liberation Sans, sans-serif" >100um</text>
<rect x="457.5" y="189" width="8.5" height="0.9" fill="#e8761e" />
<circle cx="442.2" cy="196.4" r="3.1" fill="#fff" stroke="#444" stroke-width="0.5"/>
<text x="442.2" y="197.9" font-size="4.2" fill="#333" text-anchor="middle" font-weight="normal" font-family="Liberation Sans, sans-serif" >V</text>
<path d="M439.1,196.4 L429.1,196.4 L429.1,205.7" stroke="#444" stroke-width="0.55" fill="none" />
<path d="M445.3,196.4 L455.6,196.4 L455.6,203.3" stroke="#444" stroke-width="0.55" fill="none" />
<rect x="421.1" y="212.5" width="47.3" height="25" fill="#6192d2" />
<rect x="421.1" y="209.2" width="47.3" height="3.3" fill="#a774c8" />
<rect x="423.3" y="212.0" width="45" height="0.9" fill="#333" />
<rect x="438.5" y="213" width="10.2" height="7.8" fill="#1d3470" />
<text x="443.6" y="218.1" font-size="3" fill="#c8d4f0" text-anchor="middle" font-weight="normal" font-family="Liberation Sans, sans-serif" >SiN</text>
<text x="444.8" y="230.6" font-size="4.4" fill="#a9c3ea" text-anchor="middle" font-weight="normal" font-family="Liberation Sans, sans-serif" >SiO₂</text>
<rect x="423.3" y="205.7" width="11.3" height="7.0" fill="#f5b323" />
<rect x="450.2" y="203.3" width="10.9" height="6.8" fill="#f5b323" />
<text x="429" y="208.6" font-size="1.9" fill="#5a4010" text-anchor="middle" font-weight="normal" font-family="Liberation Sans, sans-serif" >Ti/Au/Ni</text>
<text x="429" y="211.2" font-size="1.9" fill="#5a4010" text-anchor="middle" font-weight="normal" font-family="Liberation Sans, sans-serif" >Au</text>
<text x="455.6" y="206.3" font-size="1.9" fill="#5a4010" text-anchor="middle" font-weight="normal" font-family="Liberation Sans, sans-serif" >Ti/Au/Ni</text>
<text x="455.6" y="208.8" font-size="1.9" fill="#5a4010" text-anchor="middle" font-weight="normal" font-family="Liberation Sans, sans-serif" >Au</text>
<text x="404.2" y="214.0" font-size="3.1" fill="#333" text-anchor="start" font-weight="normal" font-family="Liberation Sans, sans-serif" >graphene</text>
<line x1="416.5" y1="213.0" x2="423" y2="212.5" stroke="#333" stroke-width="0.35" />
<text x="471.8" y="212.3" font-size="3.1" fill="#333" text-anchor="start" font-weight="normal" font-family="Liberation Sans, sans-serif" >SiO₂</text>
<line x1="465" y1="212" x2="471.5" y2="211.3" stroke="#333" stroke-width="0.35" />
<rect x="492.4" y="144.4" width="47.89999999999998" height="89.29999999999998" fill="#fff" stroke="#555" stroke-width="0.5"/>
<defs><clipPath id="ple"><rect x="492.4" y="144.4" width="47.89999999999998" height="89.29999999999998"/></clipPath></defs>
<g clip-path="url(#ple)">
<path d="M492.4,233.7 L492.8,233.5 L493.2,233.0 L493.6,232.4 L494.0,231.6 L494.4,230.7 L494.8,229.7 L495.2,228.7 L495.6,227.5 L496.0,226.3 L496.4,225.0 L496.8,223.7 L497.2,222.4 L497.6,221.0 L498.0,219.6 L498.4,218.3 L498.8,216.9 L499.2,215.5 L499.6,214.2 L500.0,212.9 L500.4,211.7 L500.8,210.5 L501.2,209.3 L501.6,208.2 L502.0,207.2 L502.4,206.3 L502.8,205.4 L503.2,204.6 L503.6,204.0 L504.0,203.4 L504.4,202.9 L504.8,202.5 L505.2,202.2 L505.6,202.1 L506.0,202.0 L506.4,202.1 L506.8,202.4 L507.2,202.9 L507.6,203.6 L508.0,204.6 L508.4,205.7 L508.8,207.0 L509.2,208.4 L509.6,210.0 L510.0,211.7 L510.4,213.5 L510.8,215.3 L511.2,217.3 L511.6,219.2 L512.0,221.2 L512.4,223.1 L512.8,225.0 L513.2,226.7 L513.6,228.4 L514.0,229.9 L514.4,231.3 L514.8,232.4 L515.2,233.2 L515.6,233.7 L516.0,233.4 L516.3,232.8 L516.7,232.0 L517.1,230.9 L517.5,229.7 L517.9,228.4 L518.3,226.9 L518.7,225.3 L519.1,223.6 L519.5,221.9 L519.9,220.1 L520.3,218.2 L520.7,216.3 L521.1,214.4 L521.5,212.5 L521.9,210.5 L522.3,208.6 L522.7,206.7 L523.1,204.9 L523.5,203.0 L523.9,201.3 L524.3,199.6 L524.7,198.0 L525.1,196.5 L525.5,195.0 L525.9,193.7 L526.3,192.5 L526.7,191.4 L527.1,190.4 L527.5,189.5 L527.9,188.8 L528.3,188.2 L528.7,187.8 L529.1,187.4 L529.5,187.3 L529.9,187.3 L530.3,187.5 L530.7,188.0 L531.1,188.8 L531.5,189.8 L531.9,191.0 L532.3,192.5 L532.7,194.1 L533.1,196.0 L533.5,198.1 L533.9,200.3 L534.3,202.6 L534.7,205.0 L535.1,207.5 L535.5,210.1 L535.9,212.7 L536.3,215.3 L536.7,217.9 L537.1,220.4 L537.5,222.8 L537.9,225.1 L538.3,227.2 L538.7,229.1 L539.1,230.8 L539.5,232.2 L539.9,233.2 L540.3,233.7" stroke="#6a6aff" stroke-width="0.95" fill="none" />
<path d="M492.4,233.7 L492.8,233.4 L493.2,232.8 L493.6,232.0 L494.0,231.1 L494.4,229.9 L494.8,228.7 L495.2,227.4 L495.6,225.9 L496.0,224.4 L496.4,222.8 L496.8,221.2 L497.2,219.6 L497.6,217.9 L498.0,216.2 L498.4,214.5 L498.8,212.9 L499.2,211.2 L499.6,209.7 L500.0,208.1 L500.4,206.6 L500.8,205.2 L501.2,203.9 L501.6,202.7 L502.0,201.6 L502.4,200.5 L502.8,199.6 L503.2,198.9 L503.6,198.2 L504.0,197.7 L504.4,197.3 L504.8,197.0 L505.2,196.9 L505.6,196.9 L506.0,197.1 L506.4,197.6 L506.8,198.3 L507.2,199.2 L507.6,200.2 L508.0,201.5 L508.4,202.9 L508.8,204.5 L509.2,206.2 L509.6,208.1 L510.0,210.0 L510.4,212.0 L510.8,214.1 L511.2,216.2 L511.6,218.4 L512.0,220.5 L512.4,222.5 L512.8,224.5 L513.2,226.4 L513.6,228.2 L514.0,229.8 L514.4,231.2 L514.8,232.3 L515.2,233.2 L515.6,233.7 L516.0,233.3 L516.3,232.4 L516.7,231.2 L517.1,229.7 L517.5,228.0 L517.9,226.1 L518.3,224.0 L518.7,221.8 L519.1,219.5 L519.5,217.1 L519.9,214.6 L520.3,212.0 L520.7,209.5 L521.1,206.9 L521.5,204.3 L521.9,201.7 L522.3,199.2 L522.7,196.8 L523.1,194.5 L523.5,192.2 L523.9,190.1 L524.3,188.1 L524.7,186.3 L525.1,184.6 L525.5,183.0 L525.9,181.7 L526.3,180.6 L526.7,179.6 L527.1,178.9 L527.5,178.3 L527.9,178.0 L528.3,177.9 L528.7,178.0 L529.1,178.4 L529.5,179.0 L529.9,179.8 L530.3,180.9 L530.7,182.2 L531.1,183.7 L531.5,185.4 L531.9,187.3 L532.3,189.4 L532.7,191.6 L533.1,193.9 L533.5,196.4 L533.9,199.0 L534.3,201.6 L534.7,204.4 L535.1,207.1 L535.5,209.9 L535.9,212.6 L536.3,215.3 L536.7,217.9 L537.1,220.5 L537.5,222.9 L537.9,225.2 L538.3,227.3 L538.7,229.2 L539.1,230.8 L539.5,232.2 L539.9,233.2 L540.3,233.7" stroke="#e8a83a" stroke-width="0.95" fill="none" />
<path d="M492.4,233.7 L492.8,233.3 L493.2,232.6 L493.6,231.6 L494.0,230.4 L494.4,229.0 L494.8,227.4 L495.2,225.8 L495.6,224.0 L496.0,222.1 L496.4,220.1 L496.8,218.1 L497.2,216.1 L497.6,214.0 L498.0,212.0 L498.4,209.9 L498.8,207.9 L499.2,205.9 L499.6,204.0 L500.0,202.2 L500.4,200.4 L500.8,198.8 L501.2,197.3 L501.6,195.9 L502.0,194.6 L502.4,193.5 L502.8,192.5 L503.2,191.7 L503.6,191.1 L504.0,190.6 L504.4,190.3 L504.8,190.2 L505.2,190.2 L505.6,190.6 L506.0,191.1 L506.4,191.9 L506.8,192.9 L507.2,194.1 L507.6,195.5 L508.0,197.1 L508.4,198.8 L508.8,200.7 L509.2,202.8 L509.6,205.0 L510.0,207.2 L510.4,209.5 L510.8,211.9 L511.2,214.3 L511.6,216.7 L512.0,219.1 L512.4,221.4 L512.8,223.6 L513.2,225.7 L513.6,227.6 L514.0,229.4 L514.4,230.9 L514.8,232.2 L515.2,233.2 L515.6,233.7 L516.0,233.0 L516.3,231.3 L516.7,229.1 L517.1,226.4 L517.5,223.3 L517.9,219.8 L518.3,216.1 L518.7,212.1 L519.1,207.9 L519.5,203.7 L519.9,199.3 L520.3,194.9 L520.7,190.6 L521.1,186.3 L521.5,182.1 L521.9,178.0 L522.3,174.1 L522.7,170.5 L523.1,167.1 L523.5,163.9 L523.9,161.1 L524.3,158.7 L524.7,156.6 L525.1,154.8 L525.5,153.5 L525.9,152.6 L526.3,152.1 L526.7,152.0 L527.1,152.2 L527.5,152.7 L527.9,153.5 L528.3,154.5 L528.7,155.8 L529.1,157.4 L529.5,159.1 L529.9,161.2 L530.3,163.4 L530.7,165.8 L531.1,168.5 L531.5,171.3 L531.9,174.2 L532.3,177.3 L532.7,180.6 L533.1,183.9 L533.5,187.3 L533.9,190.8 L534.3,194.3 L534.7,197.8 L535.1,201.3 L535.5,204.8 L535.9,208.2 L536.3,211.6 L536.7,214.8 L537.1,217.9 L537.5,220.8 L537.9,223.6 L538.3,226.1 L538.7,228.3 L539.1,230.3 L539.5,231.9 L539.9,233.1 L540.3,233.7" stroke="#2a2a2a" stroke-width="0.95" fill="none" />
<path d="M492.4,233.7 L492.8,233.3 L493.2,232.6 L493.6,231.6 L494.0,230.3 L494.4,228.9 L494.8,227.3 L495.2,225.6 L495.6,223.8 L496.0,221.9 L496.4,219.9 L496.8,217.9 L497.2,215.8 L497.6,213.7 L498.0,211.6 L498.4,209.5 L498.8,207.5 L499.2,205.5 L499.6,203.6 L500.0,201.7 L500.4,199.9 L500.8,198.3 L501.2,196.7 L501.6,195.3 L502.0,194.0 L502.4,192.9 L502.8,191.9 L503.2,191.1 L503.6,190.4 L504.0,189.9 L504.4,189.6 L504.8,189.5 L505.2,189.6 L505.6,189.9 L506.0,190.4 L506.4,191.2 L506.8,192.2 L507.2,193.5 L507.6,194.9 L508.0,196.5 L508.4,198.3 L508.8,200.2 L509.2,202.3 L509.6,204.5 L510.0,206.8 L510.4,209.2 L510.8,211.6 L511.2,214.0 L511.6,216.4 L512.0,218.8 L512.4,221.2 L512.8,223.4 L513.2,225.5 L513.6,227.5 L514.0,229.3 L514.4,230.9 L514.8,232.2 L515.2,233.2 L515.6,233.7 L516.0,233.1 L516.3,231.8 L516.7,230.0 L517.1,227.9 L517.5,225.4 L517.9,222.6 L518.3,219.6 L518.7,216.4 L519.1,213.1 L519.5,209.6 L519.9,206.1 L520.3,202.5 L520.7,198.9 L521.1,195.4 L521.5,191.9 L521.9,188.5 L522.3,185.2 L522.7,182.1 L523.1,179.2 L523.5,176.4 L523.9,173.9 L524.3,171.6 L524.7,169.6 L525.1,167.9 L525.5,166.5 L525.9,165.4 L526.3,164.6 L526.7,164.2 L527.1,164.0 L527.5,164.2 L527.9,164.6 L528.3,165.3 L528.7,166.2 L529.1,167.3 L529.5,168.6 L529.9,170.2 L530.3,172.0 L530.7,174.0 L531.1,176.2 L531.5,178.6 L531.9,181.1 L532.3,183.7 L532.7,186.5 L533.1,189.4 L533.5,192.4 L533.9,195.4 L534.3,198.5 L534.7,201.6 L535.1,204.7 L535.5,207.8 L535.9,210.8 L536.3,213.8 L536.7,216.7 L537.1,219.5 L537.5,222.1 L537.9,224.6 L538.3,226.8 L538.7,228.9 L539.1,230.6 L539.5,232.1 L539.9,233.2 L540.3,233.7" stroke="#b0202a" stroke-width="0.95" fill="none" />
<path d="M492.4,233.7 L492.8,233.4 L493.2,232.7 L493.6,231.8 L494.0,230.6 L494.4,229.3 L494.8,227.9 L495.2,226.3 L495.6,224.7 L496.0,222.9 L496.4,221.1 L496.8,219.2 L497.2,217.3 L497.6,215.4 L498.0,213.5 L498.4,211.6 L498.8,209.7 L499.2,207.8 L499.6,206.0 L500.0,204.3 L500.4,202.6 L500.8,201.1 L501.2,199.6 L501.6,198.3 L502.0,197.0 L502.4,195.9 L502.8,195.0 L503.2,194.2 L503.6,193.5 L504.0,193.0 L504.4,192.6 L504.8,192.4 L505.2,192.4 L505.6,192.6 L506.0,193.0 L506.4,193.7 L506.8,194.5 L507.2,195.6 L507.6,196.9 L508.0,198.4 L508.4,200.0 L508.8,201.8 L509.2,203.8 L509.6,205.9 L510.0,208.0 L510.4,210.3 L510.8,212.5 L511.2,214.8 L511.6,217.2 L512.0,219.4 L512.4,221.7 L512.8,223.8 L513.2,225.9 L513.6,227.8 L514.0,229.5 L514.4,231.0 L514.8,232.2 L515.2,233.2 L515.6,233.7 L516.0,233.2 L516.3,232.1 L516.7,230.6 L517.1,228.7 L517.5,226.5 L517.9,224.1 L518.3,221.5 L518.7,218.8 L519.1,215.9 L519.5,212.8 L519.9,209.7 L520.3,206.6 L520.7,203.4 L521.1,200.3 L521.5,197.1 L521.9,194.1 L522.3,191.1 L522.7,188.2 L523.1,185.5 L523.5,182.9 L523.9,180.4 L524.3,178.2 L524.7,176.2 L525.1,174.4 L525.5,172.8 L525.9,171.5 L526.3,170.5 L526.7,169.7 L527.1,169.2 L527.5,169.0 L527.9,169.0 L528.3,169.3 L528.7,169.9 L529.1,170.7 L529.5,171.7 L529.9,173.0 L530.3,174.5 L530.7,176.2 L531.1,178.1 L531.5,180.3 L531.9,182.6 L532.3,185.0 L532.7,187.6 L533.1,190.3 L533.5,193.1 L533.9,196.0 L534.3,199.0 L534.7,202.0 L535.1,205.0 L535.5,208.1 L535.9,211.0 L536.3,214.0 L536.7,216.8 L537.1,219.6 L537.5,222.2 L537.9,224.6 L538.3,226.9 L538.7,228.9 L539.1,230.6 L539.5,232.1 L539.9,233.2 L540.3,233.7" stroke="#8a8a8a" stroke-width="0.95" fill="none" />
<path d="M492.4,233.7 L492.8,233.2 L493.2,232.2 L493.6,230.9 L494.0,229.3 L494.4,227.4 L494.8,225.3 L495.2,223.1 L495.6,220.7 L496.0,218.2 L496.4,215.6 L496.8,212.9 L497.2,210.2 L497.6,207.5 L498.0,204.7 L498.4,202.0 L498.8,199.4 L499.2,196.8 L499.6,194.3 L500.0,191.9 L500.4,189.7 L500.8,187.6 L501.2,185.7 L501.6,183.9 L502.0,182.3 L502.4,181.0 L502.8,179.8 L503.2,178.9 L503.6,178.2 L504.0,177.7 L504.4,177.5 L504.8,177.5 L505.2,177.8 L505.6,178.4 L506.0,179.2 L506.4,180.4 L506.8,181.8 L507.2,183.4 L507.6,185.3 L508.0,187.5 L508.4,189.8 L508.8,192.3 L509.2,194.9 L509.6,197.7 L510.0,200.6 L510.4,203.5 L510.8,206.5 L511.2,209.5 L511.6,212.5 L512.0,215.5 L512.4,218.4 L512.8,221.1 L513.2,223.7 L513.6,226.1 L514.0,228.3 L514.4,230.3 L514.8,231.9 L515.2,233.1 L515.6,233.7 L516.0,233.0 L516.3,231.4 L516.7,229.1 L517.1,226.4 L517.5,223.3 L517.9,219.9 L518.3,216.1 L518.7,212.2 L519.1,208.1 L519.5,203.8 L519.9,199.5 L520.3,195.1 L520.7,190.8 L521.1,186.5 L521.5,182.3 L521.9,178.3 L522.3,174.4 L522.7,170.8 L523.1,167.4 L523.5,164.3 L523.9,161.5 L524.3,159.1 L524.7,157.0 L525.1,155.3 L525.5,153.9 L525.9,153.0 L526.3,152.5 L526.7,152.5 L527.1,152.7 L527.5,153.2 L527.9,153.9 L528.3,155.0 L528.7,156.2 L529.1,157.8 L529.5,159.5 L529.9,161.5 L530.3,163.8 L530.7,166.2 L531.1,168.8 L531.5,171.6 L531.9,174.6 L532.3,177.7 L532.7,180.9 L533.1,184.2 L533.5,187.6 L533.9,191.0 L534.3,194.5 L534.7,198.0 L535.1,201.5 L535.5,205.0 L535.9,208.4 L536.3,211.7 L536.7,214.9 L537.1,218.0 L537.5,220.9 L537.9,223.6 L538.3,226.1 L538.7,228.4 L539.1,230.3 L539.5,231.9 L539.9,233.1 L540.3,233.7" stroke="#4ee04e" stroke-width="0.95" fill="none" />
</g>
<circle cx="526.3" cy="151.8" r="0.9" fill="#111"/>
<text x="489.5" y="144.6" font-size="3.2" fill="#333" font-family="Liberation Sans, sans-serif">4<tspan font-size="2.6">×10</tspan><tspan font-size="1.9" dy="-1.2">-4</tspan></text>
<text x="492.4" y="237.6" font-size="2.9" fill="#333" text-anchor="middle" font-weight="normal" font-family="Liberation Sans, sans-serif" >1,560</text>
<text x="540.3" y="237.6" font-size="2.9" fill="#333" text-anchor="middle" font-weight="normal" font-family="Liberation Sans, sans-serif" >1,565</text>
<text x="505.6" y="241.2" font-size="3.8" fill="#333" text-anchor="start" font-weight="normal" font-family="Liberation Sans, sans-serif"  textLength="25.6" lengthAdjust="spacingAndGlyphs">Wavelength(nm)</text>
<text x="0" y="0" font-size="3.6" fill="#333" text-anchor="middle" font-family="Liberation Sans, sans-serif" textLength="27.4" lengthAdjust="spacingAndGlyphs" transform="translate(489.3,186.5) rotate(-90)">Transmission (W)</text>
<rect x="532.5" y="143.3" width="14" height="39" fill="#fff" stroke="#777" stroke-width="0.4"/>
<line x1="533.2" y1="146.8" x2="536.5" y2="146.8" stroke="#6a6aff" stroke-width="0.8" />
<text x="537.4" y="148.10000000000002" font-size="3.8" fill="#333" text-anchor="start" font-weight="normal" font-family="Liberation Sans, sans-serif" >0.0V</text>
<line x1="533.2" y1="153.20000000000002" x2="536.5" y2="153.20000000000002" stroke="#e8a83a" stroke-width="0.8" />
<text x="537.4" y="154.50000000000003" font-size="3.8" fill="#333" text-anchor="start" font-weight="normal" font-family="Liberation Sans, sans-serif" >3.0V</text>
<line x1="533.2" y1="159.60000000000002" x2="536.5" y2="159.60000000000002" stroke="#2a2a2a" stroke-width="0.8" />
<text x="537.4" y="160.90000000000003" font-size="3.8" fill="#333" text-anchor="start" font-weight="normal" font-family="Liberation Sans, sans-serif" >5.0V</text>
<line x1="533.2" y1="166.0" x2="536.5" y2="166.0" stroke="#b0202a" stroke-width="0.8" />
<text x="537.4" y="167.3" font-size="3.8" fill="#333" text-anchor="start" font-weight="normal" font-family="Liberation Sans, sans-serif" >6.8V</text>
<line x1="533.2" y1="172.4" x2="536.5" y2="172.4" stroke="#8a8a8a" stroke-width="0.8" />
<text x="537.4" y="173.70000000000002" font-size="3.8" fill="#333" text-anchor="start" font-weight="normal" font-family="Liberation Sans, sans-serif" >7.0V</text>
<line x1="533.2" y1="178.8" x2="536.5" y2="178.8" stroke="#4ee04e" stroke-width="0.8" />
<text x="537.4" y="180.10000000000002" font-size="3.8" fill="#333" text-anchor="start" font-weight="normal" font-family="Liberation Sans, sans-serif" >7.2V</text>
<text x="3.0" y="269.0" font-size="15.2" fill="#111" text-anchor="start" font-weight="normal" font-family="Liberation Sans, sans-serif" >(f)</text>
<rect x="27.5" y="275.0" width="90.5" height="33.4" fill="#9dd25a" />
<rect x="27.5" y="270.2" width="79" height="4.8" fill="#cfe3f2" />
<line x1="31" y1="269.0" x2="85.6" y2="269.0" stroke="#3a3a3a" stroke-width="1.1" />
<rect x="58.5" y="274.6" width="48" height="1.6" fill="#9a3fa0" />
<rect x="106.2" y="265" width="11.1" height="10.5" fill="#f6b21c" />
<rect x="29.7" y="258.4" width="9.6" height="9.1" fill="#f6b21c" />
<text x="34.5" y="264.6" font-size="4.2" fill="#5a3b00" text-anchor="middle" font-weight="bold" font-family="Liberation Sans, sans-serif" >M2</text>
<text x="111.7" y="271.8" font-size="4.2" fill="#5a3b00" text-anchor="middle" font-weight="bold" font-family="Liberation Sans, sans-serif" >M1</text>
<text x="43.2" y="263.2" font-size="7.0" fill="#3b3b3b" text-anchor="start" font-weight="bold" font-family="Liberation Sans, sans-serif"  textLength="28.5" lengthAdjust="spacingAndGlyphs">Graphene</text>
<text x="29" y="274.4" font-size="5.2" fill="#3a8ad0" text-anchor="start" font-weight="bold" font-family="Liberation Sans, sans-serif"  textLength="26" lengthAdjust="spacingAndGlyphs">30nm AlOₓ</text>
<text x="94" y="284.2" font-size="6.5" fill="#9a3fa0" text-anchor="start" font-weight="bold" font-family="Liberation Sans, sans-serif"  textLength="12.5" lengthAdjust="spacingAndGlyphs">WS₂</text>
<rect x="63.5" y="278.6" width="17.9" height="12.8" fill="#2f6cc2" />
<text x="72.5" y="286.4" font-size="3.6" fill="#fff" text-anchor="middle" font-weight="bold" font-family="Liberation Sans, sans-serif" >Si-WG</text>
<line x1="64.5" y1="294.5" x2="80.5" y2="294.5" stroke="#222" stroke-width="0.7" />
<path d="M64,294.5 L66.2,293.2 L66.2,295.8 Z" stroke="none" stroke-width="1" fill="#222" />
<path d="M81,294.5 L78.8,293.2 L78.8,295.8 Z" stroke="none" stroke-width="1" fill="#222" />
<text x="28.9" y="305.4" font-size="6.4" fill="#f4fbe8" text-anchor="start" font-weight="bold" font-family="Liberation Sans, sans-serif"  textLength="12.2" lengthAdjust="spacingAndGlyphs">SiO₂</text>
<text x="41.5" y="303.6" font-size="5.8" fill="#2a2a2a" text-anchor="start" font-weight="bold" font-family="Liberation Sans, sans-serif"  textLength="61" lengthAdjust="spacingAndGlyphs">Waveguide width=550nm</text>
<rect x="16.3" y="313.6" width="103.3" height="73.2" fill="#37352a" />
<path d="M24.0,327.0 L45.7,327.0" stroke="#7a6450" stroke-width="0.7" fill="none" />
<path d="M85.0,327.0 L109.4,327.0 L109.4,365.5 L85.0,365.5" stroke="#7a6450" stroke-width="0.7" fill="none" />
<path d="M45.7,365.5 L24.0,365.5 L24.0,327.0" stroke="#7a6450" stroke-width="0.7" fill="none" />
<path d="M27.0,335.5 L45.7,335.5" stroke="#7a6450" stroke-width="0.6" fill="none" />
<path d="M85.0,344.5 L105.0,344.5 L105.0,356.5 L85.0,356.5" stroke="#7a6450" stroke-width="0.6" fill="none" />
<path d="M45.7,344.5 L27.0,344.5 L27.0,356.5 L45.7,356.5" stroke="#7a6450" stroke-width="0.6" fill="none" />
<rect x="21" y="340" width="3" height="16" fill="#6a5040" />
<rect x="102" y="340" width="3" height="16" fill="#6a5040" />
<rect x="25" y="336" width="2.5" height="22" fill="#5a4838" />
<rect x="106.5" y="336" width="2.5" height="22" fill="#5a4838" />
<circle cx="39" cy="317.5" r="1.4" fill="none" stroke="#9a7050" stroke-width="0.6"/>
<line x1="39" y1="318.9" x2="39" y2="322.5" stroke="#8a6048" stroke-width="0.5" />
<circle cx="52" cy="317.5" r="1.4" fill="none" stroke="#9a7050" stroke-width="0.6"/>
<line x1="52" y1="318.9" x2="52" y2="322.5" stroke="#8a6048" stroke-width="0.5" />
<circle cx="76" cy="382" r="1.4" fill="none" stroke="#9a7050" stroke-width="0.6"/>
<line x1="76" y1="380.6" x2="76" y2="377" stroke="#8a6048" stroke-width="0.5" />
<circle cx="88" cy="382" r="1.4" fill="none" stroke="#9a7050" stroke-width="0.6"/>
<line x1="88" y1="380.6" x2="88" y2="377" stroke="#8a6048" stroke-width="0.5" />
<rect x="44.6" y="326.7" width="40.4" height="8.7" fill="#f7f1c8" />
<rect x="44.6" y="335.4" width="40.4" height="9.1" fill="#f5ebba" />
<rect x="44.6" y="356.3" width="40.4" height="8.6" fill="#f7f1c8" />
<rect x="44.6" y="364.9" width="40.4" height="8.1" fill="#f5ebba" />
<line x1="44.6" y1="335.4" x2="85" y2="335.4" stroke="#b8ad80" stroke-width="0.4" />
<line x1="44.6" y1="364.9" x2="85" y2="364.9" stroke="#b8ad80" stroke-width="0.4" />
<text x="65.3" y="334.0" font-size="7.6" fill="#222" text-anchor="middle" font-weight="normal" font-family="Liberation Sans, sans-serif" >M2</text>
<text x="65.3" y="343.2" font-size="7.6" fill="#8a2a8a" text-anchor="middle" font-weight="bold" font-family="Liberation Sans, sans-serif" >M1</text>
<text x="65.3" y="363.3" font-size="7.6" fill="#222" text-anchor="middle" font-weight="normal" font-family="Liberation Sans, sans-serif" >M2</text>
<text x="65.3" y="371.9" font-size="7.6" fill="#8a2a8a" text-anchor="middle" font-weight="bold" font-family="Liberation Sans, sans-serif" >M1</text>
<text x="74.5" y="351.6" font-size="2.6" fill="#c09060" text-anchor="start" font-weight="normal" font-family="Liberation Sans, sans-serif" >XXXXX</text>
<text x="93.6" y="329.8" font-size="6.8" fill="#fff" text-anchor="start" font-weight="bold" font-family="Liberation Sans, sans-serif"  textLength="24.2" lengthAdjust="spacingAndGlyphs">100um</text>
<line x1="98" y1="319.7" x2="112.8" y2="319.7" stroke="#fff" stroke-width="0.9" />
<line x1="98.2" y1="318" x2="98.2" y2="321.4" stroke="#fff" stroke-width="0.7" />
<line x1="112.6" y1="318" x2="112.6" y2="321.4" stroke="#fff" stroke-width="0.7" />
<line x1="145.92699999999206" y1="276.6" x2="145.92699999999206" y2="373.0" stroke="#d2d2d2" stroke-width="0.6" />
<line x1="163.38099999999602" y1="276.6" x2="163.38099999999602" y2="373.0" stroke="#d2d2d2" stroke-width="0.6" />
<line x1="180.83499999999998" y1="276.6" x2="180.83499999999998" y2="373.0" stroke="#d2d2d2" stroke-width="0.6" />
<line x1="198.28900000000397" y1="276.6" x2="198.28900000000397" y2="373.0" stroke="#d2d2d2" stroke-width="0.6" />
<line x1="215.74300000000792" y1="276.6" x2="215.74300000000792" y2="373.0" stroke="#d2d2d2" stroke-width="0.6" />
<line x1="233.19699999999204" y1="276.6" x2="233.19699999999204" y2="373.0" stroke="#d2d2d2" stroke-width="0.6" />
<line x1="250.65099999999603" y1="276.6" x2="250.65099999999603" y2="373.0" stroke="#d2d2d2" stroke-width="0.6" />
<line x1="137.2" y1="295.88" x2="268.1" y2="295.88" stroke="#d2d2d2" stroke-width="0.6" />
<line x1="137.2" y1="315.16" x2="268.1" y2="315.16" stroke="#d2d2d2" stroke-width="0.6" />
<line x1="137.2" y1="334.44" x2="268.1" y2="334.44" stroke="#d2d2d2" stroke-width="0.6" />
<line x1="137.2" y1="353.72" x2="268.1" y2="353.72" stroke="#d2d2d2" stroke-width="0.6" />
<line x1="135.79999999999998" y1="276.6" x2="137.2" y2="276.6" stroke="#333" stroke-width="0.5" />
<text x="134.8" y="278.1" font-size="4.6" fill="#333" text-anchor="end" font-weight="normal" font-family="Liberation Serif, sans-serif" >-10</text>
<line x1="135.79999999999998" y1="295.88" x2="137.2" y2="295.88" stroke="#333" stroke-width="0.5" />
<text x="134.8" y="297.38" font-size="4.6" fill="#333" text-anchor="end" font-weight="normal" font-family="Liberation Serif, sans-serif" >-20</text>
<line x1="135.79999999999998" y1="315.16" x2="137.2" y2="315.16" stroke="#333" stroke-width="0.5" />
<text x="134.8" y="316.66" font-size="4.6" fill="#333" text-anchor="end" font-weight="normal" font-family="Liberation Serif, sans-serif" >-30</text>
<line x1="135.79999999999998" y1="334.44" x2="137.2" y2="334.44" stroke="#333" stroke-width="0.5" />
<text x="134.8" y="335.94" font-size="4.6" fill="#333" text-anchor="end" font-weight="normal" font-family="Liberation Serif, sans-serif" >-40</text>
<line x1="135.79999999999998" y1="353.72" x2="137.2" y2="353.72" stroke="#333" stroke-width="0.5" />
<text x="134.8" y="355.22" font-size="4.6" fill="#333" text-anchor="end" font-weight="normal" font-family="Liberation Serif, sans-serif" >-50</text>
<line x1="135.79999999999998" y1="373.0" x2="137.2" y2="373.0" stroke="#333" stroke-width="0.5" />
<text x="134.8" y="374.5" font-size="4.6" fill="#333" text-anchor="end" font-weight="normal" font-family="Liberation Serif, sans-serif" >-60</text>
<line x1="145.92699999999206" y1="373.0" x2="145.92699999999206" y2="374.4" stroke="#333" stroke-width="0.5" />
<text x="145.92699999999206" y="378.9" font-size="4.1" fill="#333" text-anchor="middle" font-weight="normal" font-family="Liberation Serif, sans-serif" >1576.6</text>
<line x1="163.38099999999602" y1="373.0" x2="163.38099999999602" y2="374.4" stroke="#333" stroke-width="0.5" />
<text x="163.38099999999602" y="378.9" font-size="4.1" fill="#333" text-anchor="middle" font-weight="normal" font-family="Liberation Serif, sans-serif" >1576.8</text>
<line x1="180.83499999999998" y1="373.0" x2="180.83499999999998" y2="374.4" stroke="#333" stroke-width="0.5" />
<text x="180.83499999999998" y="378.9" font-size="4.1" fill="#333" text-anchor="middle" font-weight="normal" font-family="Liberation Serif, sans-serif" >1577.0</text>
<line x1="198.28900000000397" y1="373.0" x2="198.28900000000397" y2="374.4" stroke="#333" stroke-width="0.5" />
<text x="198.28900000000397" y="378.9" font-size="4.1" fill="#333" text-anchor="middle" font-weight="normal" font-family="Liberation Serif, sans-serif" >1577.2</text>
<line x1="215.74300000000792" y1="373.0" x2="215.74300000000792" y2="374.4" stroke="#333" stroke-width="0.5" />
<text x="215.74300000000792" y="378.9" font-size="4.1" fill="#333" text-anchor="middle" font-weight="normal" font-family="Liberation Serif, sans-serif" >1577.4</text>
<line x1="233.19699999999204" y1="373.0" x2="233.19699999999204" y2="374.4" stroke="#333" stroke-width="0.5" />
<text x="233.19699999999204" y="378.9" font-size="4.1" fill="#333" text-anchor="middle" font-weight="normal" font-family="Liberation Serif, sans-serif" >1577.6</text>
<line x1="250.65099999999603" y1="373.0" x2="250.65099999999603" y2="374.4" stroke="#333" stroke-width="0.5" />
<text x="250.65099999999603" y="378.9" font-size="4.1" fill="#333" text-anchor="middle" font-weight="normal" font-family="Liberation Serif, sans-serif" >1577.8</text>
<line x1="268.105" y1="373.0" x2="268.105" y2="374.4" stroke="#333" stroke-width="0.5" />
<text x="268.105" y="378.9" font-size="4.1" fill="#333" text-anchor="middle" font-weight="normal" font-family="Liberation Serif, sans-serif" >1578.0</text>
<text x="0" y="0" font-size="6.2" fill="#333" text-anchor="middle" font-family="Liberation Serif, serif" textLength="51" lengthAdjust="spacingAndGlyphs" transform="translate(127.0,314.5) rotate(-90)">Transmission (dBm)</text>
<text x="202.6" y="386.6" font-size="6.3" fill="#333" text-anchor="middle" font-weight="bold" font-family="Liberation Serif, sans-serif" >Wavelength (nm)</text>
<defs><clipPath id="plf"><rect x="137.2" y="276.6" width="130.90000000000003" height="96.39999999999998"/></clipPath></defs>
<g clip-path="url(#plf)">
<path d="M137.2,289.9 L138.1,290.0 L138.9,290.0 L139.8,290.0 L140.7,290.0 L141.6,290.0 L142.4,290.0 L143.3,290.1 L144.2,290.1 L145.1,290.1 L145.9,290.2 L146.8,290.2 L147.7,290.3 L148.5,290.4 L149.4,290.4 L150.3,290.5 L151.2,290.6 L152.0,290.8 L152.9,290.9 L153.8,291.1 L154.7,291.2 L155.5,291.4 L156.4,291.6 L157.3,291.9 L158.1,292.2 L159.0,292.5 L159.9,292.8 L160.8,293.1 L161.6,293.5 L162.5,294.0 L163.4,294.4 L164.3,294.9 L165.1,295.5 L166.0,296.1 L166.9,296.7 L167.7,297.3 L168.6,298.0 L169.5,298.8 L170.4,299.5 L171.2,300.3 L172.1,301.1 L173.0,302.0 L173.9,302.9 L174.7,303.8 L175.6,304.7 L176.5,305.6 L177.3,306.5 L178.2,307.5 L179.1,308.4 L180.0,309.3 L180.8,310.2 L181.7,311.0 L182.6,311.8 L183.5,312.6 L184.3,313.3 L185.2,314.0 L186.1,314.6 L186.9,315.2 L187.8,315.7 L188.7,316.1 L189.6,316.4 L190.4,316.6 L191.3,316.8 L192.2,316.9 L193.1,316.9 L193.9,316.8 L194.8,316.6 L195.7,316.3 L196.5,316.0 L197.4,315.6 L198.3,315.1 L199.2,314.5 L200.0,314.0 L200.9,313.3 L201.8,312.7 L202.7,312.0 L203.5,311.3 L204.4,310.6 L205.3,309.9 L206.1,309.2 L207.0,308.4 L207.9,307.8 L208.8,307.1 L209.6,306.4 L210.5,305.8 L211.4,305.1 L212.3,304.5 L213.1,304.0 L214.0,303.4 L214.9,302.9 L215.7,302.3 L216.6,301.9 L217.5,301.4 L218.4,300.9 L219.2,300.5 L220.1,300.1 L221.0,299.7 L221.9,299.3 L222.7,299.0 L223.6,298.6 L224.5,298.3 L225.3,298.0 L226.2,297.7 L227.1,297.4 L228.0,297.2 L228.8,296.9 L229.7,296.7 L230.6,296.4 L231.5,296.2 L232.3,296.0 L233.2,295.8 L234.1,295.6 L234.9,295.4 L235.8,295.2 L236.7,295.1 L237.6,294.9 L238.4,294.7 L239.3,294.6 L240.2,294.5 L241.1,294.3 L241.9,294.2 L242.8,294.1 L243.7,293.9 L244.5,293.8 L245.4,293.7 L246.3,293.6 L247.2,293.5 L248.0,293.4 L248.9,293.3 L249.8,293.2 L250.7,293.1 L251.5,293.1 L252.4,293.0 L253.3,292.9 L254.1,292.8 L255.0,292.8 L255.9,292.7 L256.8,292.6 L257.6,292.6 L258.5,292.5 L259.4,292.4 L260.3,292.4 L261.1,292.3 L262.0,292.3 L262.9,292.2 L263.7,292.2 L264.6,292.1 L265.5,292.1 L266.4,292.0 L267.2,292.0 L268.1,291.9" stroke="#1f77b4" stroke-width="1.0" fill="none" stroke-linejoin="round"/>
<path d="M137.2,291.2 L138.1,291.3 L138.9,291.3 L139.8,291.3 L140.7,291.3 L141.6,291.3 L142.4,291.4 L143.3,291.4 L144.2,291.4 L145.1,291.5 L145.9,291.5 L146.8,291.6 L147.7,291.6 L148.5,291.7 L149.4,291.8 L150.3,291.8 L151.2,291.9 L152.0,292.0 L152.9,292.1 L153.8,292.2 L154.7,292.3 L155.5,292.4 L156.4,292.6 L157.3,292.7 L158.1,292.9 L159.0,293.1 L159.9,293.2 L160.8,293.4 L161.6,293.7 L162.5,293.9 L163.4,294.1 L164.3,294.4 L165.1,294.7 L166.0,295.0 L166.9,295.3 L167.7,295.7 L168.6,296.0 L169.5,296.4 L170.4,296.8 L171.2,297.2 L172.1,297.7 L173.0,298.2 L173.9,298.6 L174.7,299.1 L175.6,299.7 L176.5,300.2 L177.3,300.8 L178.2,301.4 L179.1,302.0 L180.0,302.6 L180.8,303.3 L181.7,303.9 L182.6,304.6 L183.5,305.3 L184.3,306.0 L185.2,306.7 L186.1,307.4 L186.9,308.1 L187.8,308.9 L188.7,309.6 L189.6,310.4 L190.4,311.1 L191.3,311.9 L192.2,312.6 L193.1,313.4 L193.9,314.2 L194.8,315.0 L195.7,315.8 L196.5,316.6 L197.4,317.5 L198.3,318.4 L199.2,319.4 L200.0,320.4 L200.9,321.7 L201.8,323.1 L202.7,324.9 L203.5,327.0 L204.4,329.7 L205.3,332.9 L206.1,336.6 L207.0,340.1 L207.9,342.4 L208.8,342.4 L209.6,340.0 L210.5,336.3 L211.4,332.5 L212.3,329.0 L213.1,326.0 L214.0,323.5 L214.9,321.4 L215.7,319.6 L216.6,318.0 L217.5,316.5 L218.4,315.2 L219.2,314.0 L220.1,312.8 L221.0,311.7 L221.9,310.7 L222.7,309.7 L223.6,308.8 L224.5,307.9 L225.3,307.1 L226.2,306.3 L227.1,305.5 L228.0,304.9 L228.8,304.2 L229.7,303.6 L230.6,303.0 L231.5,302.4 L232.3,301.9 L233.2,301.4 L234.1,301.0 L234.9,300.5 L235.8,300.1 L236.7,299.7 L237.6,299.4 L238.4,299.0 L239.3,298.7 L240.2,298.4 L241.1,298.1 L241.9,297.8 L242.8,297.5 L243.7,297.3 L244.5,297.0 L245.4,296.8 L246.3,296.6 L247.2,296.4 L248.0,296.2 L248.9,296.0 L249.8,295.9 L250.7,295.7 L251.5,295.5 L252.4,295.4 L253.3,295.2 L254.1,295.1 L255.0,295.0 L255.9,294.9 L256.8,294.7 L257.6,294.6 L258.5,294.5 L259.4,294.4 L260.3,294.3 L261.1,294.2 L262.0,294.1 L262.9,294.0 L263.7,294.0 L264.6,293.9 L265.5,293.8 L266.4,293.7 L267.2,293.7 L268.1,293.6" stroke="#ff7f0e" stroke-width="1.0" fill="none" stroke-linejoin="round"/>
<path d="M137.2,291.2 L138.1,291.3 L138.9,291.3 L139.8,291.3 L140.7,291.3 L141.6,291.4 L142.4,291.4 L143.3,291.4 L144.2,291.5 L145.1,291.5 L145.9,291.6 L146.8,291.6 L147.7,291.7 L148.5,291.7 L149.4,291.8 L150.3,291.9 L151.2,292.0 L152.0,292.1 L152.9,292.2 L153.8,292.3 L154.7,292.4 L155.5,292.5 L156.4,292.7 L157.3,292.8 L158.1,293.0 L159.0,293.2 L159.9,293.4 L160.8,293.6 L161.6,293.8 L162.5,294.0 L163.4,294.3 L164.3,294.6 L165.1,294.9 L166.0,295.2 L166.9,295.5 L167.7,295.9 L168.6,296.2 L169.5,296.6 L170.4,297.1 L171.2,297.5 L172.1,297.9 L173.0,298.4 L173.9,298.9 L174.7,299.4 L175.6,300.0 L176.5,300.5 L177.3,301.1 L178.2,301.7 L179.1,302.3 L180.0,303.0 L180.8,303.6 L181.7,304.3 L182.6,305.0 L183.5,305.7 L184.3,306.4 L185.2,307.1 L186.1,307.8 L186.9,308.6 L187.8,309.3 L188.7,310.1 L189.6,310.8 L190.4,311.6 L191.3,312.4 L192.2,313.2 L193.1,314.0 L193.9,314.8 L194.8,315.6 L195.7,316.4 L196.5,317.3 L197.4,318.2 L198.3,319.2 L199.2,320.3 L200.0,321.6 L200.9,323.0 L201.8,324.7 L202.7,326.8 L203.5,329.4 L204.4,332.7 L205.3,336.5 L206.1,340.7 L207.0,344.1 L207.9,345.4 L208.8,344.0 L209.6,340.5 L210.5,336.2 L211.4,332.1 L212.3,328.6 L213.1,325.7 L214.0,323.2 L214.9,321.1 L215.7,319.3 L216.6,317.7 L217.5,316.2 L218.4,314.9 L219.2,313.6 L220.1,312.5 L221.0,311.4 L221.9,310.4 L222.7,309.4 L223.6,308.5 L224.5,307.6 L225.3,306.8 L226.2,306.0 L227.1,305.3 L228.0,304.6 L228.8,304.0 L229.7,303.4 L230.6,302.8 L231.5,302.2 L232.3,301.7 L233.2,301.2 L234.1,300.8 L234.9,300.4 L235.8,300.0 L236.7,299.6 L237.6,299.2 L238.4,298.9 L239.3,298.6 L240.2,298.3 L241.1,298.0 L241.9,297.7 L242.8,297.4 L243.7,297.2 L244.5,297.0 L245.4,296.7 L246.3,296.5 L247.2,296.3 L248.0,296.1 L248.9,296.0 L249.8,295.8 L250.7,295.6 L251.5,295.5 L252.4,295.3 L253.3,295.2 L254.1,295.1 L255.0,294.9 L255.9,294.8 L256.8,294.7 L257.6,294.6 L258.5,294.5 L259.4,294.4 L260.3,294.3 L261.1,294.2 L262.0,294.1 L262.9,294.0 L263.7,293.9 L264.6,293.8 L265.5,293.8 L266.4,293.7 L267.2,293.6 L268.1,293.6" stroke="#2ca02c" stroke-width="1.0" fill="none" stroke-linejoin="round"/>
<path d="M137.2,291.4 L138.1,291.4 L138.9,291.5 L139.8,291.5 L140.7,291.5 L141.6,291.5 L142.4,291.5 L143.3,291.6 L144.2,291.6 L145.1,291.7 L145.9,291.7 L146.8,291.7 L147.7,291.8 L148.5,291.8 L149.4,291.9 L150.3,292.0 L151.2,292.1 L152.0,292.1 L152.9,292.2 L153.8,292.3 L154.7,292.4 L155.5,292.6 L156.4,292.7 L157.3,292.8 L158.1,293.0 L159.0,293.2 L159.9,293.3 L160.8,293.5 L161.6,293.7 L162.5,294.0 L163.4,294.2 L164.3,294.5 L165.1,294.7 L166.0,295.0 L166.9,295.4 L167.7,295.7 L168.6,296.0 L169.5,296.4 L170.4,296.8 L171.2,297.2 L172.1,297.7 L173.0,298.1 L173.9,298.6 L174.7,299.1 L175.6,299.6 L176.5,300.1 L177.3,300.7 L178.2,301.3 L179.1,301.9 L180.0,302.5 L180.8,303.1 L181.7,303.8 L182.6,304.5 L183.5,305.1 L184.3,305.8 L185.2,306.5 L186.1,307.2 L186.9,308.0 L187.8,308.7 L188.7,309.4 L189.6,310.2 L190.4,310.9 L191.3,311.7 L192.2,312.5 L193.1,313.2 L193.9,314.0 L194.8,314.8 L195.7,315.6 L196.5,316.4 L197.4,317.2 L198.3,318.1 L199.2,319.1 L200.0,320.1 L200.9,321.3 L201.8,322.7 L202.7,324.3 L203.5,326.2 L204.4,328.6 L205.3,331.6 L206.1,335.2 L207.0,338.9 L207.9,342.1 L208.8,343.3 L209.6,342.0 L210.5,338.8 L211.4,334.8 L212.3,331.1 L213.1,327.8 L214.0,325.1 L214.9,322.8 L215.7,320.8 L216.6,319.1 L217.5,317.5 L218.4,316.1 L219.2,314.8 L220.1,313.6 L221.0,312.5 L221.9,311.4 L222.7,310.4 L223.6,309.4 L224.5,308.5 L225.3,307.7 L226.2,306.9 L227.1,306.1 L228.0,305.4 L228.8,304.7 L229.7,304.1 L230.6,303.5 L231.5,302.9 L232.3,302.4 L233.2,301.9 L234.1,301.4 L234.9,300.9 L235.8,300.5 L236.7,300.1 L237.6,299.7 L238.4,299.4 L239.3,299.0 L240.2,298.7 L241.1,298.4 L241.9,298.1 L242.8,297.9 L243.7,297.6 L244.5,297.4 L245.4,297.1 L246.3,296.9 L247.2,296.7 L248.0,296.5 L248.9,296.3 L249.8,296.1 L250.7,296.0 L251.5,295.8 L252.4,295.7 L253.3,295.5 L254.1,295.4 L255.0,295.2 L255.9,295.1 L256.8,295.0 L257.6,294.9 L258.5,294.8 L259.4,294.7 L260.3,294.6 L261.1,294.5 L262.0,294.4 L262.9,294.3 L263.7,294.2 L264.6,294.1 L265.5,294.0 L266.4,294.0 L267.2,293.9 L268.1,293.8" stroke="#d62728" stroke-width="1.0" fill="none" stroke-linejoin="round"/>
<path d="M137.2,291.6 L138.1,291.6 L138.9,291.6 L139.8,291.7 L140.7,291.7 L141.6,291.7 L142.4,291.7 L143.3,291.8 L144.2,291.8 L145.1,291.8 L145.9,291.9 L146.8,291.9 L147.7,292.0 L148.5,292.0 L149.4,292.1 L150.3,292.2 L151.2,292.2 L152.0,292.3 L152.9,292.4 L153.8,292.5 L154.7,292.6 L155.5,292.8 L156.4,292.9 L157.3,293.0 L158.1,293.2 L159.0,293.3 L159.9,293.5 L160.8,293.7 L161.6,293.9 L162.5,294.2 L163.4,294.4 L164.3,294.7 L165.1,294.9 L166.0,295.2 L166.9,295.5 L167.7,295.9 L168.6,296.2 L169.5,296.6 L170.4,297.0 L171.2,297.4 L172.1,297.8 L173.0,298.3 L173.9,298.8 L174.7,299.3 L175.6,299.8 L176.5,300.3 L177.3,300.9 L178.2,301.5 L179.1,302.1 L180.0,302.7 L180.8,303.3 L181.7,304.0 L182.6,304.6 L183.5,305.3 L184.3,306.0 L185.2,306.7 L186.1,307.4 L186.9,308.1 L187.8,308.9 L188.7,309.6 L189.6,310.3 L190.4,311.1 L191.3,311.8 L192.2,312.6 L193.1,313.4 L193.9,314.1 L194.8,314.9 L195.7,315.7 L196.5,316.5 L197.4,317.3 L198.3,318.2 L199.2,319.1 L200.0,320.1 L200.9,321.3 L201.8,322.6 L202.7,324.1 L203.5,326.0 L204.4,328.3 L205.3,331.2 L206.1,334.6 L207.0,338.2 L207.9,341.1 L208.8,342.3 L209.6,341.1 L210.5,338.0 L211.4,334.2 L212.3,330.6 L213.1,327.5 L214.0,324.8 L214.9,322.6 L215.7,320.7 L216.6,319.0 L217.5,317.5 L218.4,316.1 L219.2,314.9 L220.1,313.7 L221.0,312.5 L221.9,311.5 L222.7,310.5 L223.6,309.6 L224.5,308.7 L225.3,307.8 L226.2,307.0 L227.1,306.3 L228.0,305.6 L228.8,304.9 L229.7,304.2 L230.6,303.6 L231.5,303.1 L232.3,302.5 L233.2,302.0 L234.1,301.6 L234.9,301.1 L235.8,300.7 L236.7,300.3 L237.6,299.9 L238.4,299.5 L239.3,299.2 L240.2,298.9 L241.1,298.6 L241.9,298.3 L242.8,298.0 L243.7,297.8 L244.5,297.5 L245.4,297.3 L246.3,297.1 L247.2,296.9 L248.0,296.7 L248.9,296.5 L249.8,296.3 L250.7,296.2 L251.5,296.0 L252.4,295.8 L253.3,295.7 L254.1,295.6 L255.0,295.4 L255.9,295.3 L256.8,295.2 L257.6,295.1 L258.5,294.9 L259.4,294.8 L260.3,294.7 L261.1,294.6 L262.0,294.6 L262.9,294.5 L263.7,294.4 L264.6,294.3 L265.5,294.2 L266.4,294.1 L267.2,294.1 L268.1,294.0" stroke="#9467bd" stroke-width="1.0" fill="none" stroke-linejoin="round"/>
<path d="M137.2,291.6 L138.1,291.6 L138.9,291.6 L139.8,291.7 L140.7,291.7 L141.6,291.7 L142.4,291.7 L143.3,291.8 L144.2,291.8 L145.1,291.8 L145.9,291.9 L146.8,291.9 L147.7,292.0 L148.5,292.0 L149.4,292.1 L150.3,292.2 L151.2,292.2 L152.0,292.3 L152.9,292.4 L153.8,292.5 L154.7,292.6 L155.5,292.7 L156.4,292.9 L157.3,293.0 L158.1,293.2 L159.0,293.3 L159.9,293.5 L160.8,293.7 L161.6,293.9 L162.5,294.1 L163.4,294.4 L164.3,294.6 L165.1,294.9 L166.0,295.2 L166.9,295.5 L167.7,295.9 L168.6,296.2 L169.5,296.6 L170.4,297.0 L171.2,297.4 L172.1,297.8 L173.0,298.3 L173.9,298.7 L174.7,299.2 L175.6,299.8 L176.5,300.3 L177.3,300.9 L178.2,301.4 L179.1,302.0 L180.0,302.6 L180.8,303.3 L181.7,303.9 L182.6,304.6 L183.5,305.3 L184.3,305.9 L185.2,306.6 L186.1,307.4 L186.9,308.1 L187.8,308.8 L188.7,309.5 L189.6,310.3 L190.4,311.0 L191.3,311.8 L192.2,312.5 L193.1,313.3 L193.9,314.0 L194.8,314.8 L195.7,315.5 L196.5,316.3 L197.4,317.1 L198.3,318.0 L199.2,318.9 L200.0,319.9 L200.9,320.9 L201.8,322.2 L202.7,323.6 L203.5,325.4 L204.4,327.6 L205.3,330.2 L206.1,333.4 L207.0,336.7 L207.9,339.5 L208.8,340.6 L209.6,339.5 L210.5,336.6 L211.4,333.1 L212.3,329.7 L213.1,326.7 L214.0,324.2 L214.9,322.1 L215.7,320.3 L216.6,318.7 L217.5,317.2 L218.4,315.9 L219.2,314.7 L220.1,313.5 L221.0,312.4 L221.9,311.4 L222.7,310.4 L223.6,309.4 L224.5,308.6 L225.3,307.7 L226.2,306.9 L227.1,306.2 L228.0,305.5 L228.8,304.8 L229.7,304.2 L230.6,303.6 L231.5,303.0 L232.3,302.5 L233.2,302.0 L234.1,301.5 L234.9,301.1 L235.8,300.7 L236.7,300.3 L237.6,299.9 L238.4,299.5 L239.3,299.2 L240.2,298.9 L241.1,298.6 L241.9,298.3 L242.8,298.0 L243.7,297.8 L244.5,297.5 L245.4,297.3 L246.3,297.1 L247.2,296.9 L248.0,296.7 L248.9,296.5 L249.8,296.3 L250.7,296.1 L251.5,296.0 L252.4,295.8 L253.3,295.7 L254.1,295.5 L255.0,295.4 L255.9,295.3 L256.8,295.2 L257.6,295.0 L258.5,294.9 L259.4,294.8 L260.3,294.7 L261.1,294.6 L262.0,294.5 L262.9,294.5 L263.7,294.4 L264.6,294.3 L265.5,294.2 L266.4,294.1 L267.2,294.1 L268.1,294.0" stroke="#8c564b" stroke-width="1.0" fill="none" stroke-linejoin="round"/>
<path d="M137.2,291.4 L138.1,291.4 L138.9,291.4 L139.8,291.4 L140.7,291.4 L141.6,291.5 L142.4,291.5 L143.3,291.5 L144.2,291.6 L145.1,291.6 L145.9,291.6 L146.8,291.7 L147.7,291.7 L148.5,291.8 L149.4,291.9 L150.3,291.9 L151.2,292.0 L152.0,292.1 L152.9,292.2 L153.8,292.3 L154.7,292.4 L155.5,292.5 L156.4,292.6 L157.3,292.8 L158.1,292.9 L159.0,293.1 L159.9,293.3 L160.8,293.4 L161.6,293.7 L162.5,293.9 L163.4,294.1 L164.3,294.4 L165.1,294.6 L166.0,294.9 L166.9,295.2 L167.7,295.6 L168.6,295.9 L169.5,296.3 L170.4,296.7 L171.2,297.1 L172.1,297.5 L173.0,298.0 L173.9,298.4 L174.7,298.9 L175.6,299.4 L176.5,299.9 L177.3,300.5 L178.2,301.1 L179.1,301.7 L180.0,302.3 L180.8,302.9 L181.7,303.5 L182.6,304.2 L183.5,304.8 L184.3,305.5 L185.2,306.2 L186.1,306.8 L186.9,307.5 L187.8,308.2 L188.7,308.9 L189.6,309.6 L190.4,310.3 L191.3,311.0 L192.2,311.7 L193.1,312.4 L193.9,313.1 L194.8,313.8 L195.7,314.5 L196.5,315.1 L197.4,315.8 L198.3,316.4 L199.2,317.1 L200.0,317.8 L200.9,318.6 L201.8,319.3 L202.7,320.2 L203.5,321.2 L204.4,322.4 L205.3,323.8 L206.1,325.4 L207.0,327.1 L207.9,328.5 L208.8,329.0 L209.6,328.5 L210.5,327.0 L211.4,325.1 L212.3,323.3 L213.1,321.6 L214.0,320.1 L214.9,318.7 L215.7,317.5 L216.6,316.3 L217.5,315.2 L218.4,314.1 L219.2,313.1 L220.1,312.1 L221.0,311.2 L221.9,310.3 L222.7,309.4 L223.6,308.5 L224.5,307.7 L225.3,307.0 L226.2,306.2 L227.1,305.5 L228.0,304.9 L228.8,304.2 L229.7,303.6 L230.6,303.1 L231.5,302.5 L232.3,302.0 L233.2,301.5 L234.1,301.1 L234.9,300.6 L235.8,300.2 L236.7,299.8 L237.6,299.5 L238.4,299.1 L239.3,298.8 L240.2,298.5 L241.1,298.2 L241.9,297.9 L242.8,297.7 L243.7,297.4 L244.5,297.2 L245.4,297.0 L246.3,296.8 L247.2,296.6 L248.0,296.4 L248.9,296.2 L249.8,296.0 L250.7,295.9 L251.5,295.7 L252.4,295.5 L253.3,295.4 L254.1,295.3 L255.0,295.1 L255.9,295.0 L256.8,294.9 L257.6,294.8 L258.5,294.7 L259.4,294.6 L260.3,294.5 L261.1,294.4 L262.0,294.3 L262.9,294.2 L263.7,294.1 L264.6,294.0 L265.5,294.0 L266.4,293.9 L267.2,293.8 L268.1,293.8" stroke="#e377c2" stroke-width="1.0" fill="none" stroke-linejoin="round"/>
<path d="M137.2,291.2 L138.1,291.2 L138.9,291.2 L139.8,291.2 L140.7,291.3 L141.6,291.3 L142.4,291.3 L143.3,291.3 L144.2,291.4 L145.1,291.4 L145.9,291.5 L146.8,291.5 L147.7,291.6 L148.5,291.6 L149.4,291.7 L150.3,291.8 L151.2,291.9 L152.0,291.9 L152.9,292.0 L153.8,292.2 L154.7,292.3 L155.5,292.4 L156.4,292.5 L157.3,292.7 L158.1,292.9 L159.0,293.0 L159.9,293.2 L160.8,293.5 L161.6,293.7 L162.5,293.9 L163.4,294.2 L164.3,294.5 L165.1,294.8 L166.0,295.1 L166.9,295.4 L167.7,295.8 L168.6,296.1 L169.5,296.5 L170.4,297.0 L171.2,297.4 L172.1,297.9 L173.0,298.3 L173.9,298.8 L174.7,299.4 L175.6,299.9 L176.5,300.5 L177.3,301.0 L178.2,301.6 L179.1,302.2 L180.0,302.9 L180.8,303.5 L181.7,304.2 L182.6,304.8 L183.5,305.5 L184.3,306.2 L185.2,306.9 L186.1,307.5 L186.9,308.2 L187.8,308.9 L188.7,309.6 L189.6,310.3 L190.4,310.9 L191.3,311.6 L192.2,312.2 L193.1,312.9 L193.9,313.5 L194.8,314.1 L195.7,314.6 L196.5,315.2 L197.4,315.7 L198.3,316.2 L199.2,316.7 L200.0,317.2 L200.9,317.6 L201.8,318.1 L202.7,318.6 L203.5,319.1 L204.4,319.6 L205.3,320.0 L206.1,320.4 L207.0,320.6 L207.9,320.4 L208.8,319.9 L209.6,319.2 L210.5,318.5 L211.4,317.8 L212.3,317.0 L213.1,316.2 L214.0,315.4 L214.9,314.5 L215.7,313.7 L216.6,312.8 L217.5,311.9 L218.4,311.1 L219.2,310.2 L220.1,309.4 L221.0,308.6 L221.9,307.8 L222.7,307.1 L223.6,306.3 L224.5,305.6 L225.3,305.0 L226.2,304.3 L227.1,303.7 L228.0,303.2 L228.8,302.6 L229.7,302.1 L230.6,301.6 L231.5,301.1 L232.3,300.7 L233.2,300.3 L234.1,299.9 L234.9,299.5 L235.8,299.1 L236.7,298.8 L237.6,298.5 L238.4,298.2 L239.3,297.9 L240.2,297.6 L241.1,297.4 L241.9,297.1 L242.8,296.9 L243.7,296.7 L244.5,296.5 L245.4,296.3 L246.3,296.1 L247.2,295.9 L248.0,295.8 L248.9,295.6 L249.8,295.4 L250.7,295.3 L251.5,295.2 L252.4,295.0 L253.3,294.9 L254.1,294.8 L255.0,294.7 L255.9,294.5 L256.8,294.4 L257.6,294.3 L258.5,294.2 L259.4,294.1 L260.3,294.1 L261.1,294.0 L262.0,293.9 L262.9,293.8 L263.7,293.7 L264.6,293.7 L265.5,293.6 L266.4,293.5 L267.2,293.5 L268.1,293.4" stroke="#7f7f7f" stroke-width="1.0" fill="none" stroke-linejoin="round"/>
<path d="M137.2,290.9 L138.1,291.0 L138.9,291.0 L139.8,291.0 L140.7,291.0 L141.6,291.0 L142.4,291.1 L143.3,291.1 L144.2,291.1 L145.1,291.2 L145.9,291.2 L146.8,291.3 L147.7,291.3 L148.5,291.4 L149.4,291.4 L150.3,291.5 L151.2,291.6 L152.0,291.7 L152.9,291.8 L153.8,291.9 L154.7,292.0 L155.5,292.1 L156.4,292.3 L157.3,292.4 L158.1,292.6 L159.0,292.8 L159.9,293.0 L160.8,293.2 L161.6,293.5 L162.5,293.7 L163.4,294.0 L164.3,294.3 L165.1,294.6 L166.0,294.9 L166.9,295.3 L167.7,295.7 L168.6,296.1 L169.5,296.5 L170.4,297.0 L171.2,297.5 L172.1,298.0 L173.0,298.5 L173.9,299.0 L174.7,299.6 L175.6,300.2 L176.5,300.8 L177.3,301.4 L178.2,302.1 L179.1,302.7 L180.0,303.4 L180.8,304.1 L181.7,304.8 L182.6,305.5 L183.5,306.2 L184.3,307.0 L185.2,307.7 L186.1,308.4 L186.9,309.1 L187.8,309.8 L188.7,310.5 L189.6,311.2 L190.4,311.9 L191.3,312.5 L192.2,313.2 L193.1,313.8 L193.9,314.3 L194.8,314.9 L195.7,315.3 L196.5,315.8 L197.4,316.2 L198.3,316.6 L199.2,316.9 L200.0,317.2 L200.9,317.4 L201.8,317.6 L202.7,317.8 L203.5,317.8 L204.4,317.9 L205.3,317.8 L206.1,317.6 L207.0,317.3 L207.9,317.0 L208.8,316.5 L209.6,315.9 L210.5,315.3 L211.4,314.6 L212.3,313.8 L213.1,313.1 L214.0,312.3 L214.9,311.4 L215.7,310.6 L216.6,309.8 L217.5,309.0 L218.4,308.2 L219.2,307.5 L220.1,306.7 L221.0,306.0 L221.9,305.3 L222.7,304.7 L223.6,304.1 L224.5,303.5 L225.3,302.9 L226.2,302.3 L227.1,301.8 L228.0,301.3 L228.8,300.9 L229.7,300.4 L230.6,300.0 L231.5,299.6 L232.3,299.3 L233.2,298.9 L234.1,298.6 L234.9,298.3 L235.8,298.0 L236.7,297.7 L237.6,297.4 L238.4,297.2 L239.3,296.9 L240.2,296.7 L241.1,296.5 L241.9,296.3 L242.8,296.1 L243.7,295.9 L244.5,295.7 L245.4,295.5 L246.3,295.4 L247.2,295.2 L248.0,295.1 L248.9,294.9 L249.8,294.8 L250.7,294.7 L251.5,294.6 L252.4,294.4 L253.3,294.3 L254.1,294.2 L255.0,294.1 L255.9,294.0 L256.8,293.9 L257.6,293.8 L258.5,293.8 L259.4,293.7 L260.3,293.6 L261.1,293.5 L262.0,293.5 L262.9,293.4 L263.7,293.3 L264.6,293.3 L265.5,293.2 L266.4,293.1 L267.2,293.1 L268.1,293.0" stroke="#bcbd22" stroke-width="1.0" fill="none" stroke-linejoin="round"/>
<path d="M137.2,290.7 L138.1,290.8 L138.9,290.8 L139.8,290.8 L140.7,290.8 L141.6,290.8 L142.4,290.9 L143.3,290.9 L144.2,290.9 L145.1,291.0 L145.9,291.0 L146.8,291.1 L147.7,291.1 L148.5,291.2 L149.4,291.2 L150.3,291.3 L151.2,291.4 L152.0,291.5 L152.9,291.6 L153.8,291.7 L154.7,291.9 L155.5,292.0 L156.4,292.2 L157.3,292.4 L158.1,292.6 L159.0,292.8 L159.9,293.0 L160.8,293.2 L161.6,293.5 L162.5,293.8 L163.4,294.1 L164.3,294.5 L165.1,294.8 L166.0,295.2 L166.9,295.6 L167.7,296.0 L168.6,296.5 L169.5,297.0 L170.4,297.5 L171.2,298.0 L172.1,298.6 L173.0,299.2 L173.9,299.8 L174.7,300.4 L175.6,301.1 L176.5,301.7 L177.3,302.4 L178.2,303.1 L179.1,303.8 L180.0,304.6 L180.8,305.3 L181.7,306.0 L182.6,306.8 L183.5,307.5 L184.3,308.2 L185.2,308.9 L186.1,309.6 L186.9,310.3 L187.8,311.0 L188.7,311.6 L189.6,312.2 L190.4,312.8 L191.3,313.4 L192.2,313.9 L193.1,314.3 L193.9,314.8 L194.8,315.1 L195.7,315.5 L196.5,315.7 L197.4,316.0 L198.3,316.1 L199.2,316.3 L200.0,316.3 L200.9,316.3 L201.8,316.2 L202.7,316.0 L203.5,315.6 L204.4,315.2 L205.3,314.7 L206.1,314.1 L207.0,313.4 L207.9,312.7 L208.8,312.0 L209.6,311.2 L210.5,310.4 L211.4,309.6 L212.3,308.8 L213.1,308.0 L214.0,307.3 L214.9,306.5 L215.7,305.8 L216.6,305.1 L217.5,304.4 L218.4,303.8 L219.2,303.2 L220.1,302.6 L221.0,302.1 L221.9,301.5 L222.7,301.0 L223.6,300.6 L224.5,300.1 L225.3,299.7 L226.2,299.3 L227.1,298.9 L228.0,298.6 L228.8,298.2 L229.7,297.9 L230.6,297.6 L231.5,297.3 L232.3,297.1 L233.2,296.8 L234.1,296.6 L234.9,296.3 L235.8,296.1 L236.7,295.9 L237.6,295.7 L238.4,295.5 L239.3,295.3 L240.2,295.2 L241.1,295.0 L241.9,294.9 L242.8,294.7 L243.7,294.6 L244.5,294.5 L245.4,294.3 L246.3,294.2 L247.2,294.1 L248.0,294.0 L248.9,293.9 L249.8,293.8 L250.7,293.7 L251.5,293.6 L252.4,293.5 L253.3,293.4 L254.1,293.4 L255.0,293.3 L255.9,293.2 L256.8,293.1 L257.6,293.1 L258.5,293.0 L259.4,292.9 L260.3,292.9 L261.1,292.8 L262.0,292.8 L262.9,292.7 L263.7,292.7 L264.6,292.6 L265.5,292.6 L266.4,292.5 L267.2,292.5 L268.1,292.4" stroke="#17becf" stroke-width="1.0" fill="none" stroke-linejoin="round"/>
<path d="M137.2,290.6 L138.1,290.6 L138.9,290.6 L139.8,290.7 L140.7,290.7 L141.6,290.7 L142.4,290.7 L143.3,290.8 L144.2,290.8 L145.1,290.9 L145.9,290.9 L146.8,291.0 L147.7,291.1 L148.5,291.2 L149.4,291.2 L150.3,291.3 L151.2,291.5 L152.0,291.6 L152.9,291.7 L153.8,291.9 L154.7,292.0 L155.5,292.2 L156.4,292.4 L157.3,292.6 L158.1,292.9 L159.0,293.1 L159.9,293.4 L160.8,293.7 L161.6,294.0 L162.5,294.3 L163.4,294.7 L164.3,295.1 L165.1,295.5 L166.0,295.9 L166.9,296.4 L167.7,296.9 L168.6,297.4 L169.5,297.9 L170.4,298.5 L171.2,299.0 L172.1,299.6 L173.0,300.3 L173.9,300.9 L174.7,301.5 L175.6,302.2 L176.5,302.9 L177.3,303.6 L178.2,304.3 L179.1,305.0 L180.0,305.7 L180.8,306.4 L181.7,307.1 L182.6,307.8 L183.5,308.5 L184.3,309.2 L185.2,309.9 L186.1,310.5 L186.9,311.1 L187.8,311.7 L188.7,312.2 L189.6,312.7 L190.4,313.2 L191.3,313.6 L192.2,314.0 L193.1,314.4 L193.9,314.7 L194.8,314.9 L195.7,315.1 L196.5,315.2 L197.4,315.3 L198.3,315.4 L199.2,315.3 L200.0,315.1 L200.9,314.8 L201.8,314.4 L202.7,313.9 L203.5,313.3 L204.4,312.6 L205.3,311.9 L206.1,311.2 L207.0,310.4 L207.9,309.6 L208.8,308.8 L209.6,308.0 L210.5,307.2 L211.4,306.4 L212.3,305.6 L213.1,304.9 L214.0,304.2 L214.9,303.6 L215.7,302.9 L216.6,302.3 L217.5,301.7 L218.4,301.2 L219.2,300.7 L220.1,300.2 L221.0,299.7 L221.9,299.3 L222.7,298.9 L223.6,298.5 L224.5,298.1 L225.3,297.8 L226.2,297.5 L227.1,297.2 L228.0,296.9 L228.8,296.6 L229.7,296.3 L230.6,296.1 L231.5,295.9 L232.3,295.7 L233.2,295.5 L234.1,295.3 L234.9,295.1 L235.8,294.9 L236.7,294.7 L237.6,294.6 L238.4,294.4 L239.3,294.3 L240.2,294.2 L241.1,294.0 L241.9,293.9 L242.8,293.8 L243.7,293.7 L244.5,293.6 L245.4,293.5 L246.3,293.4 L247.2,293.3 L248.0,293.2 L248.9,293.1 L249.8,293.0 L250.7,293.0 L251.5,292.9 L252.4,292.8 L253.3,292.8 L254.1,292.7 L255.0,292.6 L255.9,292.6 L256.8,292.5 L257.6,292.5 L258.5,292.4 L259.4,292.4 L260.3,292.3 L261.1,292.3 L262.0,292.2 L262.9,292.2 L263.7,292.1 L264.6,292.1 L265.5,292.1 L266.4,292.0 L267.2,292.0 L268.1,291.9" stroke="#1f77b4" stroke-width="1.0" fill="none" stroke-linejoin="round"/>
</g>
<rect x="137.2" y="276.6" width="130.90000000000003" height="96.39999999999998" fill="none" stroke="#444" stroke-width="0.6"/>
<rect x="138.6" y="309.6" width="27.4" height="60.6" fill="#fff" stroke="#d8d8d8" stroke-width="0.5" rx="1" opacity="0.9"/>
<line x1="141.2" y1="312.6" x2="148.8" y2="312.6" stroke="#1f77b4" stroke-width="1.0" />
<text x="150.4" y="314.0" font-size="4.1" fill="#333" text-anchor="start" font-weight="normal" font-family="Liberation Serif, sans-serif" >-20.0 V</text>
<line x1="141.2" y1="318.05" x2="148.8" y2="318.05" stroke="#ff7f0e" stroke-width="1.0" />
<text x="150.4" y="319.45" font-size="4.1" fill="#333" text-anchor="start" font-weight="normal" font-family="Liberation Serif, sans-serif" >-16.0 V</text>
<line x1="141.2" y1="323.5" x2="148.8" y2="323.5" stroke="#2ca02c" stroke-width="1.0" />
<text x="150.4" y="324.9" font-size="4.1" fill="#333" text-anchor="start" font-weight="normal" font-family="Liberation Serif, sans-serif" >-12.0 V</text>
<line x1="141.2" y1="328.95000000000005" x2="148.8" y2="328.95000000000005" stroke="#d62728" stroke-width="1.0" />
<text x="150.4" y="330.35" font-size="4.1" fill="#333" text-anchor="start" font-weight="normal" font-family="Liberation Serif, sans-serif" >-8.0 V</text>
<line x1="141.2" y1="334.40000000000003" x2="148.8" y2="334.40000000000003" stroke="#9467bd" stroke-width="1.0" />
<text x="150.4" y="335.8" font-size="4.1" fill="#333" text-anchor="start" font-weight="normal" font-family="Liberation Serif, sans-serif" >-4.0 V</text>
<line x1="141.2" y1="339.85" x2="148.8" y2="339.85" stroke="#8c564b" stroke-width="1.0" />
<text x="150.4" y="341.25" font-size="4.1" fill="#333" text-anchor="start" font-weight="normal" font-family="Liberation Serif, sans-serif" >0.0 V</text>
<line x1="141.2" y1="345.3" x2="148.8" y2="345.3" stroke="#e377c2" stroke-width="1.0" />
<text x="150.4" y="346.7" font-size="4.1" fill="#333" text-anchor="start" font-weight="normal" font-family="Liberation Serif, sans-serif" >4.0 V</text>
<line x1="141.2" y1="350.75" x2="148.8" y2="350.75" stroke="#7f7f7f" stroke-width="1.0" />
<text x="150.4" y="352.15" font-size="4.1" fill="#333" text-anchor="start" font-weight="normal" font-family="Liberation Serif, sans-serif" >8.0 V</text>
<line x1="141.2" y1="356.20000000000005" x2="148.8" y2="356.20000000000005" stroke="#bcbd22" stroke-width="1.0" />
<text x="150.4" y="357.6" font-size="4.1" fill="#333" text-anchor="start" font-weight="normal" font-family="Liberation Serif, sans-serif" >12.0 V</text>
<line x1="141.2" y1="361.65000000000003" x2="148.8" y2="361.65000000000003" stroke="#17becf" stroke-width="1.0" />
<text x="150.4" y="363.05" font-size="4.1" fill="#333" text-anchor="start" font-weight="normal" font-family="Liberation Serif, sans-serif" >16.0 V</text>
<line x1="141.2" y1="367.1" x2="148.8" y2="367.1" stroke="#1f77b4" stroke-width="1.0" />
<text x="150.4" y="368.5" font-size="4.1" fill="#333" text-anchor="start" font-weight="normal" font-family="Liberation Serif, sans-serif" >20.0 V</text>
<text x="270.4" y="269.4" font-size="15.2" fill="#111" text-anchor="start" font-weight="normal" font-family="Liberation Sans, sans-serif" >(g)</text>
<rect x="310.2" y="338.4" width="83.7" height="35.1" fill="#d5e7fa" />
<rect x="310.2" y="336.8" width="83.7" height="1.9" fill="#7fd0f0" />
<rect x="310.2" y="332.4" width="83.7" height="3.7" fill="#a98ad0" />
<rect x="310.2" y="335.2" width="53.8" height="1.7" fill="#e8582a" />
<rect x="342.3" y="330.6" width="50.2" height="1.5" fill="#707070" />
<rect x="321.3" y="305.4" width="9.2" height="29.9" fill="#ffc000" />
<rect x="368.1" y="307.4" width="8.7" height="23.2" fill="#ffc000" />
<rect x="343.1" y="342.3" width="17.3" height="9.7" fill="#2a8ae6" />
<text x="351.7" y="348.8" font-size="4.6" fill="#1a2a50" text-anchor="middle" font-weight="normal" font-family="Liberation Sans, sans-serif" >SiN</text>
<path d="M325.9,305.4 L325.9,288.5 L344.3,288.5" stroke="#333" stroke-width="0.6" fill="none" />
<path d="M353.3,288.5 L372.4,288.5 L372.4,307.4" stroke="#333" stroke-width="0.6" fill="none" />
<circle cx="348.8" cy="288.5" r="4.5" fill="#fff" stroke="#333" stroke-width="0.6"/>
<text x="348.8" y="290.3" font-size="4.8" fill="#333" text-anchor="middle" font-weight="normal" font-family="Liberation Sans, sans-serif" >V</text>
<line x1="343.1" y1="352" x2="343.1" y2="378" stroke="#9aa8b8" stroke-width="0.35" />
<line x1="360.4" y1="352" x2="360.4" y2="378" stroke="#9aa8b8" stroke-width="0.35" />
<line x1="301" y1="342.3" x2="343.1" y2="342.3" stroke="#9aa8b8" stroke-width="0.35" />
<line x1="301" y1="352" x2="343.1" y2="352" stroke="#9aa8b8" stroke-width="0.35" />
<line x1="351.7" y1="338.6" x2="351.7" y2="342" stroke="#555" stroke-width="0.35" />
<line x1="315.2" y1="343" x2="315.2" y2="351.3" stroke="#111" stroke-width="0.7" />
<path d="M315.2,342.3 L314,344.3 L316.4,344.3 Z" stroke="none" stroke-width="1" fill="#111" />
<path d="M315.2,352 L314,350 L316.4,350 Z" stroke="none" stroke-width="1" fill="#111" />
<text x="296.7" y="349.2" font-size="4.7" fill="#333" text-anchor="start" font-weight="normal" font-family="Liberation Sans, sans-serif"  textLength="17" lengthAdjust="spacingAndGlyphs">330 nm</text>
<line x1="344" y1="377.2" x2="359.5" y2="377.2" stroke="#111" stroke-width="0.7" />
<path d="M343.1,377.2 L345.3,376 L345.3,378.4 Z" stroke="none" stroke-width="1" fill="#111" />
<path d="M360.4,377.2 L358.2,376 L358.2,378.4 Z" stroke="none" stroke-width="1" fill="#111" />
<text x="342.4" y="384.3" font-size="4.7" fill="#333" text-anchor="start" font-weight="normal" font-family="Liberation Sans, sans-serif"  textLength="19" lengthAdjust="spacingAndGlyphs">1300 nm</text>
<text x="377.2" y="368.8" font-size="4.8" fill="#333" text-anchor="start" font-weight="normal" font-family="Liberation Sans, sans-serif"  textLength="10" lengthAdjust="spacingAndGlyphs">SiO₂</text>
<text x="285.2" y="337.6" font-size="4.7" fill="#333" text-anchor="start" font-weight="normal" font-family="Liberation Sans, sans-serif"  textLength="12" lengthAdjust="spacingAndGlyphs">MoS₂</text>
<line x1="297.6" y1="335.9" x2="310.5" y2="335.9" stroke="#111" stroke-width="0.5" />
<text x="388.8" y="324.0" font-size="4.7" fill="#333" text-anchor="start" font-weight="normal" font-family="Liberation Sans, sans-serif"  textLength="21.5" lengthAdjust="spacingAndGlyphs">graphene</text>
<line x1="392" y1="325.3" x2="384.5" y2="330.3" stroke="#111" stroke-width="0.5" />
<text x="396.4" y="335.4" font-size="4.7" fill="#333" text-anchor="start" font-weight="normal" font-family="Liberation Sans, sans-serif"  textLength="13.5" lengthAdjust="spacingAndGlyphs">Al₂O₃</text>
<line x1="396" y1="334" x2="385.5" y2="334" stroke="#111" stroke-width="0.5" />
<rect x="440.2" y="273.3" width="95.09999999999997" height="104.39999999999998" fill="#fff" stroke="#9a9a9a" stroke-width="0.45"/>
<line x1="440.2" y1="273.3" x2="441.4" y2="273.3" stroke="#777" stroke-width="0.4" />
<line x1="535.3" y1="273.3" x2="534.0999999999999" y2="273.3" stroke="#777" stroke-width="0.4" />
<text x="438.4" y="274.7" font-size="4.0" fill="#333" text-anchor="end" font-weight="normal" font-family="Liberation Sans, sans-serif" >0</text>
<line x1="440.2" y1="286.35" x2="441.4" y2="286.35" stroke="#777" stroke-width="0.4" />
<line x1="535.3" y1="286.35" x2="534.0999999999999" y2="286.35" stroke="#777" stroke-width="0.4" />
<text x="438.4" y="287.75" font-size="4.0" fill="#333" text-anchor="end" font-weight="normal" font-family="Liberation Sans, sans-serif" >-5</text>
<line x1="440.2" y1="299.4" x2="441.4" y2="299.4" stroke="#777" stroke-width="0.4" />
<line x1="535.3" y1="299.4" x2="534.0999999999999" y2="299.4" stroke="#777" stroke-width="0.4" />
<text x="438.4" y="300.79999999999995" font-size="4.0" fill="#333" text-anchor="end" font-weight="normal" font-family="Liberation Sans, sans-serif" >-10</text>
<line x1="440.2" y1="312.45" x2="441.4" y2="312.45" stroke="#777" stroke-width="0.4" />
<line x1="535.3" y1="312.45" x2="534.0999999999999" y2="312.45" stroke="#777" stroke-width="0.4" />
<text x="438.4" y="313.84999999999997" font-size="4.0" fill="#333" text-anchor="end" font-weight="normal" font-family="Liberation Sans, sans-serif" >-15</text>
<line x1="440.2" y1="325.5" x2="441.4" y2="325.5" stroke="#777" stroke-width="0.4" />
<line x1="535.3" y1="325.5" x2="534.0999999999999" y2="325.5" stroke="#777" stroke-width="0.4" />
<text x="438.4" y="326.9" font-size="4.0" fill="#333" text-anchor="end" font-weight="normal" font-family="Liberation Sans, sans-serif" >-20</text>
<line x1="440.2" y1="338.55" x2="441.4" y2="338.55" stroke="#777" stroke-width="0.4" />
<line x1="535.3" y1="338.55" x2="534.0999999999999" y2="338.55" stroke="#777" stroke-width="0.4" />
<text x="438.4" y="339.95" font-size="4.0" fill="#333" text-anchor="end" font-weight="normal" font-family="Liberation Sans, sans-serif" >-25</text>
<line x1="440.2" y1="351.6" x2="441.4" y2="351.6" stroke="#777" stroke-width="0.4" />
<line x1="535.3" y1="351.6" x2="534.0999999999999" y2="351.6" stroke="#777" stroke-width="0.4" />
<text x="438.4" y="353.0" font-size="4.0" fill="#333" text-anchor="end" font-weight="normal" font-family="Liberation Sans, sans-serif" >-30</text>
<line x1="440.2" y1="364.65" x2="441.4" y2="364.65" stroke="#777" stroke-width="0.4" />
<line x1="535.3" y1="364.65" x2="534.0999999999999" y2="364.65" stroke="#777" stroke-width="0.4" />
<text x="438.4" y="366.04999999999995" font-size="4.0" fill="#333" text-anchor="end" font-weight="normal" font-family="Liberation Sans, sans-serif" >-35</text>
<line x1="440.2" y1="377.7" x2="441.4" y2="377.7" stroke="#777" stroke-width="0.4" />
<line x1="535.3" y1="377.7" x2="534.0999999999999" y2="377.7" stroke="#777" stroke-width="0.4" />
<text x="438.4" y="379.09999999999997" font-size="4.0" fill="#333" text-anchor="end" font-weight="normal" font-family="Liberation Sans, sans-serif" >-40</text>
<line x1="440.2" y1="377.7" x2="440.2" y2="376.5" stroke="#777" stroke-width="0.4" />
<line x1="440.2" y1="273.3" x2="440.2" y2="274.5" stroke="#777" stroke-width="0.4" />
<text x="440.2" y="382.3" font-size="4.0" fill="#333" text-anchor="middle" font-weight="normal" font-family="Liberation Sans, sans-serif" >1644.5</text>
<line x1="471.9" y1="377.7" x2="471.9" y2="376.5" stroke="#777" stroke-width="0.4" />
<line x1="471.9" y1="273.3" x2="471.9" y2="274.5" stroke="#777" stroke-width="0.4" />
<text x="471.9" y="382.3" font-size="4.0" fill="#333" text-anchor="middle" font-weight="normal" font-family="Liberation Sans, sans-serif" >1645</text>
<line x1="503.59999999999997" y1="377.7" x2="503.59999999999997" y2="376.5" stroke="#777" stroke-width="0.4" />
<line x1="503.59999999999997" y1="273.3" x2="503.59999999999997" y2="274.5" stroke="#777" stroke-width="0.4" />
<text x="503.59999999999997" y="382.3" font-size="4.0" fill="#333" text-anchor="middle" font-weight="normal" font-family="Liberation Sans, sans-serif" >1645.5</text>
<line x1="535.3" y1="377.7" x2="535.3" y2="376.5" stroke="#777" stroke-width="0.4" />
<line x1="535.3" y1="273.3" x2="535.3" y2="274.5" stroke="#777" stroke-width="0.4" />
<text x="535.3" y="382.3" font-size="4.0" fill="#333" text-anchor="middle" font-weight="normal" font-family="Liberation Sans, sans-serif" >1646</text>
<text x="490.5" y="388.0" font-size="5.0" fill="#333" text-anchor="middle" font-weight="normal" font-family="Liberation Sans, sans-serif"  textLength="39" lengthAdjust="spacingAndGlyphs">Wavelength (nm)</text>
<text x="0" y="0" font-size="4.8" fill="#333" text-anchor="middle" font-family="Liberation Sans, sans-serif" textLength="65" lengthAdjust="spacingAndGlyphs" transform="translate(431.8,321.8) rotate(-90)">Normalized Transmission (dB)</text>
<line x1="480.4" y1="273.3" x2="480.4" y2="377.7" stroke="#666" stroke-width="0.5" stroke-dasharray="0.8,0.8"/>
<defs><clipPath id="plg"><rect x="440.2" y="273.3" width="95.09999999999997" height="104.39999999999998"/></clipPath></defs>
<g clip-path="url(#plg)">
<path d="M440.2,274.4 L447.1,274.4 L452.3,274.4 L456.4,274.4 L459.7,274.4 L462.4,274.5 L464.7,274.7 L466.7,274.9 L468.4,275.1 L469.8,275.3 L471.2,275.6 L472.3,275.8 L473.4,276.1 L474.3,276.4 L475.2,276.8 L476.0,277.2 L476.7,277.5 L477.4,277.9 L478.0,278.4 L478.6,278.8 L479.2,279.3 L479.7,279.8 L480.2,280.3 L480.6,280.9 L481.1,281.4 L481.5,282.0 L481.9,282.7 L482.2,283.3 L482.6,284.0 L483.0,284.7 L483.3,285.4 L483.6,286.2 L483.9,287.0 L484.2,287.8 L484.5,288.6 L484.8,289.5 L485.1,290.4 L485.4,291.3 L485.7,292.2 L485.9,293.1 L486.2,294.0 L486.5,294.9 L486.7,295.7 L487.0,296.6 L487.2,297.3 L487.5,298.0 L487.7,298.5 L487.9,299.0 L488.2,299.3 L488.3,299.4 L488.4,299.4 L488.5,299.4 L488.9,299.4 L488.9,299.4 L489.5,299.2 L490.1,298.8 L490.7,298.4 L491.3,297.8 L491.9,297.1 L492.5,296.3 L493.1,295.5 L493.7,294.6 L494.4,293.7 L495.0,292.8 L495.7,291.9 L496.3,291.0 L497.0,290.1 L497.7,289.2 L498.4,288.3 L499.2,287.5 L499.9,286.7 L500.7,285.9 L501.5,285.2 L502.4,284.4 L503.2,283.7 L504.1,283.1 L505.1,282.4 L506.1,281.8 L507.1,281.2 L508.2,280.7 L509.3,280.1 L510.5,279.6 L511.8,279.1 L513.2,278.7 L514.6,278.2 L516.2,277.8 L517.9,277.4 L519.7,277.0 L521.7,276.6 L523.9,276.3 L526.3,276.0 L529.0,275.7 L532.0,275.4 L535.3,275.1" stroke="#4472c4" stroke-width="1.1" fill="none" stroke-linejoin="round"/>
<path d="M440.2,274.4 L446.9,274.5 L452.0,274.4 L456.1,274.4 L459.4,274.5 L462.1,274.6 L464.5,274.8 L466.4,275.0 L468.2,275.2 L469.7,275.4 L471.0,275.7 L472.2,276.0 L473.3,276.3 L474.2,276.7 L475.1,277.0 L475.9,277.4 L476.7,277.8 L477.4,278.3 L478.0,278.7 L478.6,279.2 L479.2,279.7 L479.7,280.3 L480.2,280.8 L480.7,281.4 L481.1,282.0 L481.6,282.7 L482.0,283.4 L482.4,284.1 L482.7,284.8 L483.1,285.6 L483.4,286.4 L483.8,287.3 L484.1,288.2 L484.4,289.1 L484.7,290.1 L485.0,291.1 L485.3,292.1 L485.6,293.2 L485.9,294.3 L486.2,295.4 L486.5,296.5 L486.7,297.6 L487.0,298.7 L487.2,299.8 L487.5,300.8 L487.8,301.6 L488.0,302.3 L488.3,302.9 L488.5,303.2 L488.6,303.3 L488.8,303.3 L488.8,303.3 L489.2,303.3 L489.4,303.2 L489.9,302.8 L490.5,302.2 L491.1,301.5 L491.7,300.6 L492.2,299.6 L492.8,298.5 L493.4,297.4 L494.0,296.3 L494.6,295.2 L495.2,294.1 L495.9,293.0 L496.5,291.9 L497.2,290.9 L497.9,289.9 L498.5,288.9 L499.3,288.0 L500.0,287.1 L500.7,286.3 L501.5,285.5 L502.3,284.7 L503.2,284.0 L504.1,283.2 L505.0,282.6 L506.0,281.9 L507.0,281.3 L508.0,280.7 L509.2,280.1 L510.4,279.6 L511.6,279.1 L513.0,278.6 L514.4,278.2 L516.0,277.7 L517.7,277.3 L519.5,276.9 L521.5,276.6 L523.7,276.2 L526.1,275.9 L528.8,275.6 L531.9,275.3 L535.3,275.1" stroke="#bfe6f0" stroke-width="1.1" fill="none" stroke-linejoin="round"/>
<path d="M440.2,274.5 L446.8,274.5 L451.8,274.5 L455.9,274.5 L459.2,274.6 L461.9,274.7 L464.2,274.9 L466.2,275.1 L468.0,275.3 L469.5,275.6 L470.8,275.9 L472.0,276.2 L473.1,276.5 L474.1,276.9 L475.0,277.2 L475.9,277.6 L476.6,278.1 L477.3,278.5 L478.0,279.0 L478.6,279.5 L479.2,280.1 L479.7,280.7 L480.2,281.3 L480.7,281.9 L481.2,282.5 L481.6,283.2 L482.1,284.0 L482.5,284.8 L482.9,285.6 L483.2,286.4 L483.6,287.3 L483.9,288.3 L484.3,289.2 L484.6,290.3 L484.9,291.4 L485.2,292.5 L485.6,293.7 L485.9,294.9 L486.1,296.2 L486.4,297.5 L486.7,298.9 L487.0,300.3 L487.3,301.6 L487.5,302.9 L487.8,304.2 L488.1,305.3 L488.4,306.2 L488.6,306.9 L488.8,307.1 L488.9,307.2 L489.0,307.2 L489.3,307.2 L489.4,307.1 L489.8,306.8 L490.4,306.2 L490.9,305.3 L491.5,304.2 L492.0,302.9 L492.6,301.6 L493.1,300.2 L493.7,298.9 L494.3,297.5 L494.9,296.2 L495.4,294.9 L496.1,293.7 L496.7,292.5 L497.3,291.3 L498.0,290.3 L498.6,289.2 L499.3,288.2 L500.0,287.3 L500.8,286.4 L501.5,285.5 L502.3,284.7 L503.1,284.0 L504.0,283.2 L504.9,282.5 L505.8,281.9 L506.8,281.2 L507.9,280.6 L509.0,280.1 L510.1,279.5 L511.4,279.0 L512.7,278.5 L514.2,278.1 L515.7,277.6 L517.4,277.2 L519.2,276.8 L521.3,276.5 L523.5,276.1 L525.9,275.8 L528.7,275.5 L531.8,275.2 L535.3,275.0" stroke="#4fd6e6" stroke-width="1.1" fill="none" stroke-linejoin="round"/>
<path d="M440.2,274.5 L446.6,274.6 L451.6,274.6 L455.6,274.6 L458.9,274.7 L461.6,274.8 L463.9,275.0 L465.9,275.2 L467.7,275.4 L469.2,275.7 L470.6,276.0 L471.8,276.3 L472.9,276.7 L473.9,277.0 L474.9,277.4 L475.7,277.9 L476.5,278.3 L477.2,278.8 L477.9,279.3 L478.5,279.8 L479.1,280.4 L479.7,281.0 L480.2,281.6 L480.7,282.3 L481.2,283.0 L481.6,283.8 L482.1,284.5 L482.5,285.4 L482.9,286.2 L483.3,287.2 L483.6,288.1 L484.0,289.1 L484.3,290.2 L484.7,291.4 L485.0,292.6 L485.3,293.8 L485.7,295.1 L486.0,296.6 L486.3,298.0 L486.6,299.6 L486.9,301.2 L487.2,302.8 L487.5,304.5 L487.7,306.1 L488.0,307.6 L488.3,309.0 L488.6,310.1 L488.9,310.9 L489.0,311.0 L489.1,311.1 L489.1,311.1 L489.5,311.0 L489.6,310.9 L490.2,310.2 L490.7,309.1 L491.2,307.8 L491.7,306.2 L492.2,304.6 L492.8,302.9 L493.3,301.3 L493.8,299.7 L494.4,298.1 L494.9,296.7 L495.5,295.2 L496.1,293.9 L496.7,292.6 L497.3,291.4 L497.9,290.3 L498.6,289.2 L499.2,288.2 L499.9,287.2 L500.6,286.3 L501.4,285.4 L502.1,284.6 L502.9,283.8 L503.8,283.1 L504.7,282.4 L505.6,281.7 L506.5,281.1 L507.6,280.4 L508.7,279.9 L509.8,279.3 L511.1,278.8 L512.4,278.3 L513.8,277.9 L515.4,277.4 L517.0,277.0 L518.9,276.7 L520.9,276.3 L523.1,276.0 L525.6,275.6 L528.5,275.3 L531.6,275.1 L535.3,274.8" stroke="#3c3ce6" stroke-width="1.1" fill="none" stroke-linejoin="round"/>
<path d="M440.2,274.5 L446.5,274.6 L451.4,274.6 L455.4,274.6 L458.6,274.7 L461.3,274.9 L463.7,275.1 L465.7,275.3 L467.4,275.5 L469.0,275.8 L470.4,276.1 L471.6,276.5 L472.7,276.8 L473.8,277.2 L474.7,277.6 L475.6,278.1 L476.4,278.5 L477.1,279.0 L477.8,279.6 L478.4,280.1 L479.0,280.7 L479.6,281.3 L480.1,282.0 L480.7,282.7 L481.2,283.4 L481.6,284.2 L482.1,285.1 L482.5,285.9 L482.9,286.8 L483.3,287.8 L483.7,288.8 L484.1,289.9 L484.4,291.1 L484.8,292.3 L485.1,293.6 L485.5,295.0 L485.8,296.5 L486.1,298.1 L486.4,299.7 L486.7,301.5 L487.0,303.3 L487.3,305.3 L487.6,307.3 L487.9,309.2 L488.2,311.2 L488.5,312.9 L488.8,314.2 L489.1,314.9 L489.1,314.9 L489.3,315.1 L489.5,315.0 L489.6,314.9 L490.0,314.4 L490.4,313.1 L490.9,311.5 L491.4,309.6 L491.9,307.6 L492.4,305.6 L492.9,303.6 L493.4,301.8 L494.0,300.0 L494.5,298.3 L495.0,296.7 L495.6,295.3 L496.1,293.9 L496.7,292.5 L497.3,291.3 L497.9,290.1 L498.5,289.0 L499.1,288.0 L499.8,287.0 L500.5,286.1 L501.2,285.2 L501.9,284.4 L502.7,283.6 L503.5,282.8 L504.4,282.1 L505.3,281.4 L506.2,280.8 L507.2,280.2 L508.3,279.6 L509.4,279.1 L510.7,278.6 L512.0,278.1 L513.4,277.7 L514.9,277.2 L516.6,276.8 L518.5,276.5 L520.5,276.1 L522.8,275.8 L525.3,275.5 L528.2,275.2 L531.5,274.9 L535.3,274.7" stroke="#a040c8" stroke-width="1.1" fill="none" stroke-linejoin="round"/>
<path d="M440.2,274.6 L446.3,274.6 L451.1,274.7 L455.1,274.7 L458.3,274.8 L461.0,275.0 L463.3,275.2 L465.4,275.4 L467.1,275.6 L468.7,275.9 L470.1,276.3 L471.3,276.6 L472.5,277.0 L473.5,277.4 L474.4,277.8 L475.3,278.3 L476.1,278.8 L476.9,279.3 L477.6,279.8 L478.2,280.4 L478.9,281.0 L479.4,281.7 L480.0,282.4 L480.5,283.1 L481.0,283.9 L481.5,284.7 L482.0,285.5 L482.4,286.5 L482.8,287.4 L483.2,288.5 L483.6,289.5 L484.0,290.7 L484.4,291.9 L484.8,293.3 L485.1,294.7 L485.5,296.2 L485.8,297.8 L486.1,299.5 L486.5,301.4 L486.8,303.3 L487.1,305.5 L487.4,307.7 L487.7,310.1 L488.0,312.5 L488.3,314.8 L488.6,316.9 L488.9,318.4 L489.1,318.7 L489.2,319.0 L489.3,319.0 L489.6,318.7 L489.7,318.6 L490.1,317.2 L490.6,315.3 L491.1,313.0 L491.5,310.6 L492.0,308.2 L492.5,305.9 L493.0,303.8 L493.4,301.8 L493.9,299.9 L494.4,298.1 L494.9,296.5 L495.5,295.0 L496.0,293.5 L496.5,292.2 L497.1,291.0 L497.7,289.8 L498.3,288.7 L498.9,287.6 L499.5,286.6 L500.2,285.7 L500.9,284.8 L501.6,284.0 L502.4,283.2 L503.2,282.5 L504.0,281.8 L504.9,281.1 L505.8,280.5 L506.8,279.9 L507.8,279.4 L508.9,278.8 L510.1,278.3 L511.4,277.9 L512.9,277.4 L514.4,277.0 L516.1,276.6 L517.9,276.3 L520.0,275.9 L522.3,275.6 L524.9,275.3 L527.9,275.0 L531.3,274.8 L535.3,274.5" stroke="#d040d0" stroke-width="1.1" fill="none" stroke-linejoin="round"/>
<path d="M440.2,274.6 L446.2,274.7 L450.9,274.7 L454.7,274.8 L457.9,274.9 L460.6,275.1 L462.9,275.3 L464.9,275.5 L466.7,275.8 L468.3,276.1 L469.7,276.4 L470.9,276.7 L472.1,277.1 L473.1,277.6 L474.1,278.0 L475.0,278.5 L475.8,279.0 L476.6,279.5 L477.3,280.1 L478.0,280.7 L478.6,281.3 L479.2,282.0 L479.7,282.7 L480.3,283.5 L480.8,284.3 L481.3,285.1 L481.8,286.0 L482.2,287.0 L482.6,288.0 L483.1,289.1 L483.5,290.2 L483.9,291.5 L484.3,292.8 L484.6,294.2 L485.0,295.7 L485.3,297.3 L485.7,299.0 L486.0,300.9 L486.4,303.0 L486.7,305.2 L487.0,307.6 L487.4,310.2 L487.7,313.0 L488.0,315.9 L488.3,318.7 L488.6,321.1 L488.9,322.5 L489.0,322.6 L489.1,322.9 L489.3,322.8 L489.4,322.5 L489.7,321.5 L490.2,319.2 L490.6,316.5 L491.0,313.6 L491.5,310.8 L491.9,308.1 L492.4,305.7 L492.8,303.4 L493.3,301.3 L493.8,299.4 L494.2,297.6 L494.7,296.0 L495.2,294.5 L495.7,293.0 L496.3,291.7 L496.8,290.5 L497.3,289.3 L497.9,288.2 L498.5,287.2 L499.1,286.2 L499.8,285.3 L500.4,284.4 L501.1,283.6 L501.9,282.9 L502.6,282.1 L503.4,281.4 L504.3,280.8 L505.2,280.2 L506.1,279.6 L507.2,279.1 L508.3,278.5 L509.5,278.1 L510.8,277.6 L512.2,277.2 L513.7,276.8 L515.4,276.4 L517.3,276.0 L519.4,275.7 L521.7,275.4 L524.4,275.1 L527.5,274.9 L531.1,274.6 L535.3,274.4" stroke="#e0b8f4" stroke-width="1.1" fill="none" stroke-linejoin="round"/>
<path d="M440.2,274.8 L445.2,274.9 L449.3,275.0 L452.7,275.1 L455.5,275.3 L458.0,275.4 L460.1,275.7 L462.0,275.9 L463.6,276.2 L465.1,276.6 L466.4,276.9 L467.6,277.3 L468.7,277.8 L469.7,278.2 L470.6,278.7 L471.5,279.3 L472.3,279.8 L473.1,280.4 L473.8,281.1 L474.4,281.8 L475.0,282.5 L475.6,283.2 L476.2,284.1 L476.7,284.9 L477.3,285.8 L477.7,286.8 L478.2,287.8 L478.7,289.0 L479.1,290.1 L479.6,291.4 L480.0,292.8 L480.4,294.2 L480.8,295.8 L481.2,297.6 L481.5,299.4 L481.9,301.5 L482.3,303.7 L482.6,306.2 L483.0,309.0 L483.3,312.1 L483.7,315.6 L484.0,319.5 L484.4,323.7 L484.7,327.7 L485.0,330.0 L485.0,330.3 L485.2,330.7 L485.4,330.3 L485.4,330.0 L485.7,327.6 L486.0,323.6 L486.4,319.4 L486.7,315.6 L487.0,312.1 L487.4,309.0 L487.7,306.2 L488.1,303.7 L488.4,301.4 L488.8,299.4 L489.2,297.5 L489.5,295.8 L489.9,294.2 L490.3,292.7 L490.7,291.4 L491.1,290.1 L491.6,288.9 L492.0,287.8 L492.5,286.8 L493.0,285.8 L493.5,284.9 L494.0,284.0 L494.5,283.2 L495.1,282.4 L495.7,281.7 L496.4,281.0 L497.1,280.4 L497.8,279.8 L498.6,279.2 L499.4,278.7 L500.3,278.2 L501.3,277.7 L502.3,277.2 L503.5,276.8 L504.8,276.4 L506.2,276.1 L507.8,275.7 L509.7,275.4 L511.7,275.1 L514.1,274.8 L516.9,274.6 L520.2,274.4 L524.2,274.2 L529.1,274.0 L535.3,273.8" stroke="#d0884a" stroke-width="1.1" fill="none" stroke-linejoin="round"/>
<path d="M440.2,274.8 L445.0,275.0 L449.0,275.1 L452.3,275.2 L455.0,275.3 L457.4,275.5 L459.5,275.8 L461.3,276.0 L462.9,276.3 L464.4,276.7 L465.7,277.0 L466.9,277.4 L467.9,277.9 L468.9,278.4 L469.8,278.9 L470.7,279.4 L471.5,280.0 L472.2,280.6 L472.9,281.2 L473.6,281.9 L474.2,282.6 L474.8,283.4 L475.3,284.2 L475.9,285.1 L476.4,286.1 L476.9,287.1 L477.3,288.1 L477.8,289.3 L478.2,290.5 L478.7,291.8 L479.1,293.2 L479.5,294.7 L479.9,296.3 L480.3,298.1 L480.6,300.1 L481.0,302.2 L481.4,304.6 L481.7,307.3 L482.1,310.3 L482.4,313.8 L482.8,317.9 L483.1,322.6 L483.5,328.1 L483.8,334.0 L484.0,337.2 L484.1,338.2 L484.3,338.6 L484.5,337.2 L484.5,337.2 L484.8,332.1 L485.1,326.2 L485.5,321.0 L485.8,316.5 L486.1,312.6 L486.5,309.3 L486.8,306.4 L487.2,303.8 L487.5,301.5 L487.9,299.4 L488.3,297.5 L488.6,295.8 L489.0,294.2 L489.4,292.7 L489.8,291.3 L490.3,290.1 L490.7,288.9 L491.1,287.7 L491.6,286.7 L492.1,285.7 L492.6,284.8 L493.1,283.9 L493.7,283.1 L494.2,282.4 L494.9,281.6 L495.5,281.0 L496.2,280.3 L496.9,279.7 L497.7,279.2 L498.6,278.6 L499.5,278.1 L500.5,277.6 L501.5,277.2 L502.7,276.8 L504.0,276.4 L505.5,276.0 L507.1,275.7 L509.0,275.4 L511.1,275.1 L513.5,274.8 L516.3,274.6 L519.7,274.4 L523.8,274.2 L528.9,274.0 L535.3,273.8" stroke="#f5a51e" stroke-width="1.1" fill="none" stroke-linejoin="round"/>
<path d="M440.2,274.8 L444.9,275.0 L448.7,275.1 L451.8,275.2 L454.5,275.4 L456.9,275.6 L458.9,275.8 L460.7,276.1 L462.2,276.4 L463.7,276.8 L464.9,277.1 L466.1,277.5 L467.2,278.0 L468.1,278.5 L469.0,279.0 L469.9,279.5 L470.7,280.1 L471.4,280.7 L472.1,281.4 L472.7,282.1 L473.3,282.8 L473.9,283.6 L474.5,284.4 L475.0,285.3 L475.5,286.3 L476.0,287.3 L476.5,288.4 L476.9,289.5 L477.4,290.7 L477.8,292.1 L478.2,293.5 L478.6,295.1 L479.0,296.7 L479.4,298.6 L479.8,300.6 L480.1,302.8 L480.5,305.3 L480.8,308.1 L481.2,311.4 L481.5,315.1 L481.9,319.6 L482.2,325.0 L482.6,331.7 L482.9,339.9 L483.1,343.8 L483.2,346.2 L483.3,346.4 L483.5,343.8 L483.6,342.8 L483.9,334.6 L484.2,327.3 L484.6,321.4 L484.9,316.6 L485.2,312.6 L485.6,309.3 L485.9,306.3 L486.3,303.7 L486.6,301.4 L487.0,299.3 L487.4,297.4 L487.8,295.6 L488.1,294.0 L488.5,292.6 L488.9,291.2 L489.4,289.9 L489.8,288.7 L490.2,287.6 L490.7,286.6 L491.2,285.6 L491.7,284.7 L492.2,283.9 L492.8,283.1 L493.4,282.3 L494.0,281.6 L494.7,280.9 L495.3,280.3 L496.1,279.7 L496.9,279.1 L497.7,278.6 L498.7,278.1 L499.7,277.6 L500.8,277.1 L502.0,276.7 L503.3,276.3 L504.8,276.0 L506.4,275.6 L508.3,275.3 L510.4,275.1 L512.9,274.8 L515.8,274.5 L519.3,274.3 L523.5,274.1 L528.7,274.0 L535.3,273.8" stroke="#f2c54a" stroke-width="1.1" fill="none" stroke-linejoin="round"/>
<path d="M440.2,274.9 L444.7,275.0 L448.3,275.2 L451.4,275.3 L454.0,275.5 L456.3,275.7 L458.3,275.9 L460.0,276.2 L461.6,276.5 L462.9,276.8 L464.2,277.2 L465.3,277.6 L466.4,278.1 L467.4,278.6 L468.2,279.1 L469.1,279.6 L469.8,280.2 L470.6,280.8 L471.2,281.5 L471.9,282.2 L472.5,283.0 L473.1,283.8 L473.6,284.6 L474.1,285.5 L474.6,286.5 L475.1,287.5 L475.6,288.6 L476.0,289.7 L476.5,291.0 L476.9,292.3 L477.3,293.8 L477.7,295.4 L478.1,297.1 L478.5,299.0 L478.9,301.0 L479.2,303.3 L479.6,305.9 L479.9,308.8 L480.3,312.2 L480.6,316.2 L481.0,321.0 L481.3,327.0 L481.7,335.0 L482.0,346.0 L482.1,350.4 L482.4,355.5 L482.4,355.5 L482.6,350.4 L482.7,346.7 L483.0,335.5 L483.3,327.4 L483.7,321.3 L484.0,316.4 L484.3,312.4 L484.7,309.0 L485.0,306.1 L485.4,303.5 L485.7,301.2 L486.1,299.1 L486.5,297.2 L486.9,295.5 L487.2,293.9 L487.6,292.4 L488.1,291.1 L488.5,289.8 L488.9,288.6 L489.4,287.5 L489.8,286.5 L490.3,285.5 L490.8,284.6 L491.4,283.8 L491.9,283.0 L492.5,282.2 L493.1,281.5 L493.8,280.8 L494.5,280.2 L495.2,279.6 L496.0,279.0 L496.9,278.5 L497.8,278.0 L498.8,277.5 L500.0,277.1 L501.2,276.7 L502.5,276.3 L504.0,275.9 L505.7,275.6 L507.6,275.3 L509.8,275.0 L512.3,274.8 L515.3,274.5 L518.8,274.3 L523.1,274.1 L528.4,273.9 L535.3,273.8" stroke="#f6d24a" stroke-width="1.1" fill="none" stroke-linejoin="round"/>
<path d="M440.2,274.9 L444.5,275.1 L448.0,275.2 L451.0,275.4 L453.5,275.5 L455.7,275.7 L457.7,276.0 L459.4,276.3 L460.9,276.6 L462.2,276.9 L463.5,277.3 L464.6,277.7 L465.6,278.2 L466.6,278.7 L467.4,279.2 L468.3,279.8 L469.0,280.3 L469.7,281.0 L470.4,281.6 L471.0,282.4 L471.6,283.1 L472.2,283.9 L472.8,284.8 L473.3,285.7 L473.8,286.6 L474.3,287.7 L474.7,288.8 L475.2,290.0 L475.6,291.2 L476.0,292.6 L476.4,294.1 L476.8,295.7 L477.2,297.4 L477.6,299.3 L478.0,301.5 L478.3,303.8 L478.7,306.4 L479.1,309.5 L479.4,312.9 L479.8,317.1 L480.1,322.2 L480.4,328.7 L480.8,337.7 L481.1,351.4 L481.2,354.8 L481.4,363.4 L481.5,362.9 L481.6,354.8 L481.8,347.2 L482.1,335.0 L482.4,326.8 L482.8,320.7 L483.1,315.9 L483.4,312.0 L483.8,308.6 L484.1,305.7 L484.5,303.1 L484.8,300.9 L485.2,298.8 L485.6,296.9 L486.0,295.2 L486.4,293.7 L486.8,292.2 L487.2,290.9 L487.6,289.6 L488.0,288.5 L488.5,287.4 L488.9,286.4 L489.4,285.4 L490.0,284.5 L490.5,283.7 L491.1,282.9 L491.6,282.1 L492.3,281.4 L492.9,280.7 L493.6,280.1 L494.4,279.5 L495.2,279.0 L496.1,278.4 L497.0,277.9 L498.0,277.5 L499.2,277.0 L500.4,276.6 L501.7,276.3 L503.3,275.9 L505.0,275.6 L506.9,275.3 L509.1,275.0 L511.7,274.7 L514.7,274.5 L518.3,274.3 L522.7,274.1 L528.2,273.9 L535.3,273.8" stroke="#505050" stroke-width="1.1" fill="none" stroke-linejoin="round"/>
<path d="M440.2,274.9 L444.4,275.1 L447.8,275.3 L450.7,275.4 L453.2,275.6 L455.4,275.8 L457.3,276.0 L458.9,276.3 L460.4,276.7 L461.8,277.0 L463.0,277.4 L464.1,277.8 L465.1,278.3 L466.1,278.8 L466.9,279.3 L467.7,279.8 L468.5,280.4 L469.2,281.1 L469.9,281.7 L470.5,282.5 L471.1,283.2 L471.7,284.0 L472.2,284.9 L472.7,285.8 L473.2,286.8 L473.7,287.8 L474.1,288.9 L474.6,290.1 L475.0,291.4 L475.4,292.8 L475.8,294.3 L476.2,295.9 L476.6,297.7 L477.0,299.6 L477.4,301.7 L477.7,304.1 L478.1,306.8 L478.5,309.9 L478.8,313.4 L479.2,317.7 L479.5,322.9 L479.8,329.8 L480.2,339.6 L480.5,355.9 L480.5,357.8 L480.8,371.2 L480.9,368.4 L481.0,357.8 L481.2,346.8 L481.5,334.4 L481.8,326.3 L482.2,320.3 L482.5,315.5 L482.9,311.6 L483.2,308.3 L483.5,305.5 L483.9,302.9 L484.2,300.7 L484.6,298.6 L485.0,296.8 L485.4,295.1 L485.8,293.5 L486.2,292.1 L486.6,290.8 L487.0,289.5 L487.4,288.4 L487.9,287.3 L488.4,286.3 L488.9,285.3 L489.4,284.4 L489.9,283.6 L490.5,282.8 L491.1,282.0 L491.7,281.3 L492.4,280.7 L493.1,280.1 L493.8,279.5 L494.6,278.9 L495.5,278.4 L496.5,277.9 L497.5,277.4 L498.6,277.0 L499.9,276.6 L501.2,276.2 L502.8,275.9 L504.5,275.5 L506.4,275.2 L508.7,275.0 L511.3,274.7 L514.3,274.5 L518.0,274.3 L522.5,274.1 L528.1,273.9 L535.3,273.8" stroke="#c8c8c8" stroke-width="1.1" fill="none" stroke-linejoin="round"/>
<path d="M440.2,275.0 L444.3,275.1 L447.6,275.3 L450.5,275.4 L452.9,275.6 L455.0,275.9 L456.9,276.1 L458.5,276.4 L460.0,276.7 L461.3,277.1 L462.5,277.5 L463.6,277.9 L464.6,278.3 L465.5,278.8 L466.4,279.4 L467.2,279.9 L467.9,280.5 L468.6,281.2 L469.3,281.8 L469.9,282.6 L470.5,283.3 L471.1,284.1 L471.6,285.0 L472.1,285.9 L472.6,286.9 L473.1,288.0 L473.6,289.1 L474.0,290.3 L474.4,291.6 L474.9,293.0 L475.3,294.5 L475.7,296.1 L476.0,297.9 L476.4,299.8 L476.8,302.0 L477.2,304.4 L477.5,307.1 L477.9,310.3 L478.2,313.9 L478.6,318.3 L478.9,323.7 L479.2,330.9 L479.6,341.3 L479.9,359.7 L479.9,360.4 L480.1,379.0 L480.3,370.1 L480.4,359.7 L480.6,345.7 L480.9,333.6 L481.2,325.6 L481.6,319.8 L481.9,315.1 L482.3,311.3 L482.6,308.0 L482.9,305.2 L483.3,302.7 L483.7,300.5 L484.0,298.4 L484.4,296.6 L484.8,294.9 L485.2,293.4 L485.6,292.0 L486.0,290.6 L486.4,289.4 L486.8,288.3 L487.3,287.2 L487.8,286.2 L488.3,285.2 L488.8,284.3 L489.3,283.5 L489.9,282.7 L490.5,282.0 L491.1,281.3 L491.8,280.6 L492.5,280.0 L493.3,279.4 L494.1,278.9 L495.0,278.3 L495.9,277.9 L497.0,277.4 L498.1,277.0 L499.3,276.6 L500.7,276.2 L502.3,275.8 L504.0,275.5 L506.0,275.2 L508.2,274.9 L510.9,274.7 L514.0,274.5 L517.7,274.2 L522.2,274.1 L527.9,273.9 L535.3,273.7" stroke="#3ec0c0" stroke-width="1.1" fill="none" stroke-linejoin="round"/>
</g>
<rect x="520.9" y="277.6" width="16.2" height="67" fill="#fff" stroke="#aaa" stroke-width="0.4"/>
<line x1="522.5" y1="280.2" x2="527" y2="280.2" stroke="#4472c4" stroke-width="0.9" />
<text x="527.6" y="281.4" font-size="3.3" fill="#333" text-anchor="start" font-weight="normal" font-family="Liberation Sans, sans-serif" >0 V</text>
<line x1="522.5" y1="284.96" x2="527" y2="284.96" stroke="#bfe6f0" stroke-width="0.9" />
<text x="527.6" y="286.15999999999997" font-size="3.3" fill="#333" text-anchor="start" font-weight="normal" font-family="Liberation Sans, sans-serif" >-2 V</text>
<line x1="522.5" y1="289.71999999999997" x2="527" y2="289.71999999999997" stroke="#4fd6e6" stroke-width="0.9" />
<text x="527.6" y="290.91999999999996" font-size="3.3" fill="#333" text-anchor="start" font-weight="normal" font-family="Liberation Sans, sans-serif" >-4 V</text>
<line x1="522.5" y1="294.47999999999996" x2="527" y2="294.47999999999996" stroke="#3c3ce6" stroke-width="0.9" />
<text x="527.6" y="295.67999999999995" font-size="3.3" fill="#333" text-anchor="start" font-weight="normal" font-family="Liberation Sans, sans-serif" >-6 V</text>
<line x1="522.5" y1="299.24" x2="527" y2="299.24" stroke="#a040c8" stroke-width="0.9" />
<text x="527.6" y="300.44" font-size="3.3" fill="#333" text-anchor="start" font-weight="normal" font-family="Liberation Sans, sans-serif" >-8 V</text>
<line x1="522.5" y1="304.0" x2="527" y2="304.0" stroke="#d040d0" stroke-width="0.9" />
<text x="527.6" y="305.2" font-size="3.3" fill="#333" text-anchor="start" font-weight="normal" font-family="Liberation Sans, sans-serif" >-10 V</text>
<line x1="522.5" y1="308.76" x2="527" y2="308.76" stroke="#e0b8f4" stroke-width="0.9" />
<text x="527.6" y="309.96" font-size="3.3" fill="#333" text-anchor="start" font-weight="normal" font-family="Liberation Sans, sans-serif" >-12 V</text>
<line x1="522.5" y1="313.52" x2="527" y2="313.52" stroke="#d0884a" stroke-width="0.9" />
<text x="527.6" y="314.71999999999997" font-size="3.3" fill="#333" text-anchor="start" font-weight="normal" font-family="Liberation Sans, sans-serif" >-14 V</text>
<line x1="522.5" y1="318.28" x2="527" y2="318.28" stroke="#f5a51e" stroke-width="0.9" />
<text x="527.6" y="319.47999999999996" font-size="3.3" fill="#333" text-anchor="start" font-weight="normal" font-family="Liberation Sans, sans-serif" >-16 V</text>
<line x1="522.5" y1="323.03999999999996" x2="527" y2="323.03999999999996" stroke="#f2c54a" stroke-width="0.9" />
<text x="527.6" y="324.23999999999995" font-size="3.3" fill="#333" text-anchor="start" font-weight="normal" font-family="Liberation Sans, sans-serif" >-18 V</text>
<line x1="522.5" y1="327.79999999999995" x2="527" y2="327.79999999999995" stroke="#f6d24a" stroke-width="0.9" />
<text x="527.6" y="328.99999999999994" font-size="3.3" fill="#333" text-anchor="start" font-weight="normal" font-family="Liberation Sans, sans-serif" >-20 V</text>
<line x1="522.5" y1="332.56" x2="527" y2="332.56" stroke="#505050" stroke-width="0.9" />
<text x="527.6" y="333.76" font-size="3.3" fill="#333" text-anchor="start" font-weight="normal" font-family="Liberation Sans, sans-serif" >-22 V</text>
<line x1="522.5" y1="337.32" x2="527" y2="337.32" stroke="#c8c8c8" stroke-width="0.9" />
<text x="527.6" y="338.52" font-size="3.3" fill="#333" text-anchor="start" font-weight="normal" font-family="Liberation Sans, sans-serif" >-24 V</text>
<line x1="522.5" y1="342.08" x2="527" y2="342.08" stroke="#3ec0c0" stroke-width="0.9" />
<text x="527.6" y="343.28" font-size="3.3" fill="#333" text-anchor="start" font-weight="normal" font-family="Liberation Sans, sans-serif" >-26 V</text>
<defs><clipPath id="insg"><rect x="493" y="347.3" width="39" height="26.4"/></clipPath></defs>
<g clip-path="url(#insg)">
<rect x="493" y="347.3" width="39" height="26.4" fill="#8a8672" />
<ellipse cx="512.5" cy="371" rx="23" ry="17" fill="#f0c868"/>
<ellipse cx="512.5" cy="347.5" rx="8" ry="3" fill="#f0c868"/>
<rect x="493" y="347.3" width="39" height="1.5" fill="#8a8672" />
</g>
<circle cx="512.5" cy="356" r="4.8" fill="#f6c890" stroke="#3a6ab0" stroke-width="0.9"/>
<line x1="485" y1="350.4" x2="538.5" y2="350.4" stroke="#3a6ab0" stroke-width="0.9" />
<path d="M540,350.4 L537.6,349.2 L537.6,351.6 Z" stroke="none" stroke-width="1" fill="#222" />
<path d="M496,350.4 L493.6,349.2 L493.6,351.6 Z" stroke="none" stroke-width="1" fill="#222" />
<text x="484.5" y="348.0" font-size="3.4" fill="#333" text-anchor="start" font-weight="normal" font-family="Liberation Sans, sans-serif" >Input</text>
<text x="534.5" y="348.0" font-size="3.4" fill="#333" text-anchor="start" font-weight="normal" font-family="Liberation Sans, sans-serif" >Output</text>
<text x="518.8" y="367.2" font-size="3.0" fill="#111" text-anchor="middle" font-weight="normal" font-family="Liberation Sans, sans-serif" >100 µm</text>
<rect x="514.3" y="370.3" width="11.8" height="1.3" fill="#111" />
<line x1="514.3" y1="368.8" x2="514.3" y2="372.2" stroke="#111" stroke-width="0.5" />
<line x1="526.1" y1="368.8" x2="526.1" y2="372.2" stroke="#111" stroke-width="0.5" />
</svg>
</body></html>
